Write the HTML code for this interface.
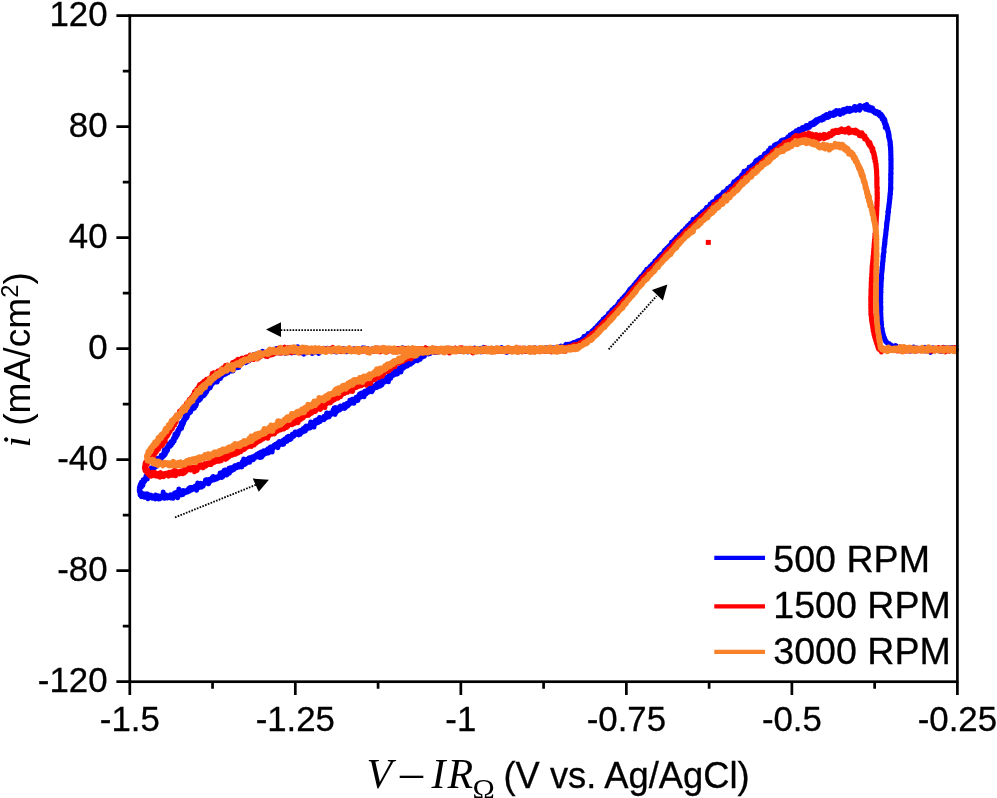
<!DOCTYPE html>
<html lang="en"><head><meta charset="utf-8"><title>CV plot</title>
<style>html,body{margin:0;padding:0;background:#fff;}svg{display:block;}</style></head>
<body>
<svg width="997" height="798" viewBox="0 0 997 798">
<rect width="997" height="798" fill="#fff"/>
<path d="M566.0 349.6 L565.6 349.8 L565.3 349.4 L564.8 348.9 L564.7 349.3 L564.6 348.8 L564.3 349.7 L563.8 350.7 L563.4 349.2 L562.9 349.1 L562.9 350.0 L562.4 349.9 L562.0 349.7 L561.7 348.9 L561.4 349.6 L561.0 350.2 L560.7 348.6 L560.2 349.3 L560.0 348.2 L560.0 348.6 L559.4 348.2 L559.0 349.5 L558.8 348.7 L558.5 349.9 L557.9 349.8 L557.7 349.5 L557.5 347.7 L557.1 349.3 L556.8 349.7 L556.6 349.8 L556.0 348.5 L555.8 349.3 L555.4 348.9 L555.3 349.1 L554.5 350.6 L554.3 349.1 L554.0 349.7 L553.8 350.4 L553.5 349.3 L553.3 349.6 L552.6 349.8 L552.5 349.8 L552.1 348.8 L551.7 349.8 L551.5 350.8 L551.0 348.5 L550.5 350.4 L550.4 349.9 L550.0 349.3 L549.7 351.4 L549.5 350.4 L549.2 348.8 L549.0 349.8 L548.5 350.2 L548.0 349.6 L547.7 350.3 L547.4 349.7 L547.0 350.3 L546.9 350.9 L546.4 349.3 L545.9 350.0 L545.9 349.4 L545.5 349.9 L545.2 348.9 L544.9 349.4 L544.6 349.7 L544.2 350.5 L544.0 350.7 L543.6 348.8 L543.2 349.2 L542.9 350.4 L542.4 348.3 L542.2 349.5 L541.8 349.8 L541.6 350.8 L541.0 350.4 L541.1 349.6 L540.6 349.6 L540.1 349.7 L539.7 351.1 L539.5 349.5 L539.2 349.6 L538.8 350.2 L538.6 349.8 L538.2 349.7 L538.0 349.0 L537.5 349.9 L537.2 349.5 L537.0 350.8 L536.9 350.4 L536.1 349.9 L535.9 350.4 L535.5 349.6 L535.3 350.7 L534.8 349.9 L534.5 350.4 L534.3 348.9 L533.8 350.2 L533.5 348.6 L533.2 348.3 L532.7 349.7 L532.4 349.2 L532.2 350.1 L532.0 351.7 L531.6 349.3 L531.1 349.4 L530.9 350.1 L530.7 350.3 L530.4 349.8 L530.0 349.8 L529.5 350.5 L529.4 350.4 L528.9 349.1 L528.5 349.9 L528.2 350.0 L528.2 349.1 L527.7 350.2 L527.5 349.3 L526.9 350.7 L526.8 350.1 L526.3 350.0 L526.0 349.5 L526.0 349.9 L525.4 348.4 L524.9 349.1 L524.7 350.3 L524.4 348.3 L524.2 350.7 L523.6 348.6 L523.1 350.6 L523.0 349.3 L522.7 350.6 L522.4 350.1 L522.2 348.8 L521.7 351.0 L521.5 351.1 L520.9 349.9 L520.8 349.8 L520.6 349.9 L520.1 349.2 L519.7 350.9 L519.4 349.6 L519.3 350.0 L518.6 349.4 L518.4 349.5 L518.1 349.0 L517.8 351.0 L517.3 349.9 L517.1 350.8 L516.7 350.0 L516.4 349.5 L516.1 349.8 L515.6 349.6 L515.4 350.0 L515.2 349.7 L514.6 349.8 L514.4 348.9 L514.2 349.4 L513.6 351.3 L513.5 349.5 L513.0 349.2 L512.9 350.3 L512.7 351.1 L512.4 348.9 L511.8 349.9 L511.5 349.5 L511.1 348.6 L510.8 350.6 L510.6 350.0 L510.0 350.1 L509.9 349.4 L509.5 350.4 L509.3 349.6 L508.8 349.9 L508.4 349.1 L508.2 349.1 L507.9 351.1 L507.5 349.6 L507.2 350.3 L506.8 350.0 L506.2 349.7 L506.3 349.6 L505.9 350.5 L505.5 349.8 L505.2 349.9 L505.0 350.0 L504.5 351.0 L504.1 350.6 L503.8 350.3 L503.7 349.6 L503.0 348.9 L503.0 350.8 L502.4 350.8 L502.1 349.9 L502.0 350.5 L501.5 350.6 L501.0 350.7 L500.8 350.8 L500.6 349.7 L500.4 351.2 L499.8 349.0 L499.6 350.7 L499.3 350.4 L498.8 350.7 L498.6 351.5 L498.2 351.2 L497.8 349.1 L497.5 348.7 L497.2 350.7 L496.9 349.2 L496.5 350.0 L496.2 350.7 L496.0 348.7 L495.6 348.4 L495.4 350.2 L495.1 350.1 L494.7 349.8 L494.5 350.1 L493.8 349.3 L493.7 348.8 L493.2 349.9 L493.2 349.3 L492.8 348.7 L492.0 350.4 L491.8 350.0 L491.7 350.3 L491.4 349.2 L491.0 349.5 L490.6 349.2 L490.3 349.3 L490.0 350.2 L489.6 349.4 L489.4 350.3 L488.7 350.3 L488.7 351.6 L488.2 348.9 L488.1 350.7 L487.6 350.0 L487.2 350.0 L487.0 348.9 L486.5 349.7 L486.2 350.6 L485.8 350.0 L485.7 350.1 L485.4 349.8 L485.1 350.9 L484.7 350.0 L484.5 348.3 L484.0 349.5 L483.7 348.5 L483.4 347.4 L483.1 349.6 L482.6 351.1 L482.3 350.1 L482.0 349.1 L481.7 349.3 L481.3 350.9 L481.2 350.1 L480.7 350.1 L480.4 350.0 L479.9 350.0 L479.8 350.7 L479.4 350.5 L479.0 350.2 L479.0 349.2 L478.4 350.4 L478.3 349.5 L477.8 350.9 L477.3 349.0 L477.0 349.9 L476.8 350.0 L476.4 349.0 L476.1 351.4 L475.7 351.2 L475.2 349.6 L475.1 350.6 L474.5 350.3 L474.5 347.9 L474.0 350.2 L473.7 350.0 L473.4 350.1 L473.1 349.2 L472.6 349.8 L472.2 349.9 L472.0 350.9 L471.5 350.3 L471.3 350.0 L471.3 351.2 L470.7 349.6 L470.5 349.7 L470.0 348.6 L469.8 351.2 L469.4 350.8 L469.1 350.7 L468.9 350.5 L468.7 350.1 L468.2 350.2 L467.8 349.8 L467.4 349.8 L467.2 350.0 L466.8 351.2 L466.6 350.4 L466.1 350.0 L466.0 349.5 L465.3 349.5 L465.1 351.3 L464.9 350.4 L464.5 350.1 L464.1 349.7 L463.8 349.1 L463.3 349.9 L463.2 350.7 L463.1 349.7 L462.7 349.8 L462.1 349.8 L461.7 350.1 L461.5 348.7 L461.3 349.8 L460.8 349.3 L460.4 350.7 L460.3 349.4 L460.0 350.5 L459.5 351.2 L459.1 349.8 L458.7 349.5 L458.5 350.2 L458.0 350.0 L458.0 349.2 L457.5 350.4 L457.3 351.6 L457.1 349.8 L456.7 349.8 L456.1 349.2 L456.0 350.3 L455.7 349.0 L455.2 349.1 L454.8 351.0 L454.6 349.3 L454.1 350.9 L454.1 351.2 L453.3 350.2 L453.1 350.4 L452.9 351.5 L452.6 349.8 L452.3 349.5 L452.0 348.9 L451.6 350.0 L451.4 351.2 L450.7 350.8 L450.6 349.3 L450.2 349.3 L450.0 349.6 L449.6 350.2 L449.2 349.8 L448.9 350.2 L448.7 350.2 L448.3 349.8 L447.9 350.0 L447.9 350.2 L447.6 349.9 L446.8 350.4 L446.7 351.5 L446.6 350.5 L446.1 350.0 L445.7 348.7 L445.3 350.3 L444.9 348.5 L444.6 348.9 L444.3 350.7 L444.1 350.6 L443.6 349.9 L443.3 348.6 L442.9 349.7 L442.7 349.5 L442.2 350.5 L442.0 351.8 L441.8 350.2 L441.4 349.4 L441.1 349.1 L440.7 350.0 L440.4 349.9 L440.0 349.1 L439.7 350.1 L439.5 349.1 L438.9 350.9 L438.9 350.8 L438.4 350.9 L438.0 349.6 L437.7 350.4 L437.3 349.9 L437.1 349.7 L436.6 349.7 L436.5 349.0 L436.0 348.9 L435.5 350.6 L435.3 349.8 L434.8 350.2 L434.7 350.8 L434.5 348.6 L434.2 349.4 L433.6 350.1 L433.3 350.3 L433.3 349.7 L432.8 350.8 L432.4 350.2 L432.2 349.0 L432.1 349.3 L431.6 350.6 L431.1 350.4 L430.8 348.5 L430.5 351.1 L430.0 350.5 L429.7 351.1 L429.5 349.7 L429.0 349.8 L428.8 349.1 L428.5 352.0 L428.4 349.9 L427.7 351.3 L427.5 349.5 L427.1 350.1 L426.9 348.7 L426.6 349.7 L426.1 350.8 L425.7 349.0 L425.3 350.8 L425.0 350.3 L424.9 349.2 L424.5 349.6 L424.0 349.6 L423.8 350.0 L423.5 349.6 L423.2 349.3 L422.8 349.8 L422.5 349.2 L422.0 349.0 L421.7 350.0 L421.7 350.7 L420.9 348.8 L420.8 350.0 L420.6 349.5 L420.2 349.2 L419.8 350.7 L419.5 349.6 L419.2 351.2 L418.9 349.4 L418.3 350.3 L418.2 349.8 L417.8 349.4 L417.5 350.5 L417.2 349.9 L417.0 350.5 L416.7 350.0 L416.2 349.1 L416.0 349.9 L415.7 350.0 L415.4 350.8 L415.1 349.3 L414.6 350.0 L414.2 348.6 L414.0 350.5 L413.4 349.1 L413.3 348.6 L412.9 350.0 L412.5 350.9 L412.1 348.8 L411.8 349.1 L411.6 349.4 L411.4 349.1 L411.1 350.3 L410.6 349.4 L410.3 349.4 L409.8 350.5 L409.7 349.4 L409.3 350.3 L409.0 349.2 L408.8 349.0 L408.3 348.5 L407.8 351.5 L407.5 349.7 L407.1 350.2 L406.8 350.0 L406.8 350.1 L406.3 350.0 L405.8 351.5 L405.7 349.2 L405.5 348.8 L404.9 349.2 L404.6 348.9 L404.3 350.6 L404.0 350.6 L403.7 349.2 L403.5 348.9 L403.1 349.7 L402.8 351.1 L402.5 347.8 L402.1 350.4 L401.5 349.1 L401.3 350.8 L401.1 349.1 L400.6 349.8 L400.5 348.8 L400.0 349.2 L399.6 351.1 L399.5 350.6 L399.1 349.7 L398.7 349.3 L398.5 348.5 L398.2 349.7 L397.8 350.0 L397.1 349.9 L397.0 349.9 L396.7 349.1 L396.3 349.9 L396.1 350.0 L395.9 351.0 L395.3 351.5 L394.9 349.9 L395.0 349.4 L394.4 349.9 L393.9 349.5 L393.8 349.4 L393.5 350.0 L393.0 349.2 L392.8 350.5 L392.4 349.9 L392.0 350.2 L391.8 349.9 L391.5 349.4 L391.0 349.2 L390.8 349.8 L390.4 349.6 L390.4 350.2 L389.7 350.0 L389.6 348.9 L389.1 350.1 L388.8 348.9 L388.5 349.5 L388.2 349.8 L387.9 348.4 L387.5 350.1 L387.1 350.1 L386.7 349.9 L386.5 349.7 L386.2 349.7 L386.0 349.2 L385.5 349.8 L385.3 349.6 L385.0 350.1 L384.5 349.0 L384.0 350.2 L383.7 350.1 L383.3 349.9 L383.4 349.7 L382.7 350.4 L382.7 348.7 L382.2 350.4 L382.0 350.2 L381.6 350.2 L381.2 350.3 L380.8 349.5 L380.5 349.8 L380.2 350.5 L379.8 350.3 L379.5 350.2 L379.4 348.8 L378.7 350.4 L378.6 350.9 L378.1 350.8 L377.9 350.2 L377.6 348.8 L377.2 350.7 L377.0 349.9 L376.4 348.0 L376.4 350.3 L375.8 348.8 L375.6 349.0 L375.3 349.5 L374.6 351.0 L374.5 349.7 L374.3 350.2 L374.1 351.4 L373.6 351.3 L373.3 349.9 L372.7 349.8 L372.8 349.0 L372.5 349.4 L371.9 350.3 L371.6 350.3 L371.1 350.1 L371.0 350.8 L370.9 349.4 L370.4 350.0 L370.1 350.6 L369.7 350.5 L369.2 350.8 L369.1 350.3 L368.5 349.8 L368.3 350.3 L368.0 349.2 L367.7 348.7 L367.3 350.5 L367.0 350.0 L366.5 350.2 L366.1 348.7 L366.0 349.7 L365.6 349.5 L365.2 349.3 L364.8 348.2 L364.6 349.7 L364.1 350.7 L363.8 350.3 L363.5 349.5 L363.4 350.0 L363.0 350.6 L362.9 347.8 L362.2 349.9 L361.9 350.4 L361.8 350.5 L361.3 351.3 L361.0 350.9 L360.9 350.2 L360.3 350.2 L359.9 350.6 L359.5 349.6 L359.4 350.0 L359.1 350.7 L358.5 351.6 L358.3 349.9 L358.1 350.0 L357.8 350.2 L357.3 351.1 L357.1 350.0 L356.8 351.2 L356.2 349.2 L356.0 349.9 L355.8 349.8 L355.3 350.6 L354.8 350.8 L354.7 348.8 L354.5 349.3 L354.3 350.3 L353.5 349.5 L353.7 348.8 L352.9 350.8 L352.9 350.4 L352.6 350.4 L352.2 349.6 L351.8 350.8 L351.3 349.8 L351.2 350.9 L350.7 349.3 L350.1 349.3 L350.4 350.2 L349.9 349.4 L349.7 350.5 L349.0 350.2 L349.0 349.3 L348.6 350.1 L348.3 349.7 L347.8 350.7 L347.3 349.5 L347.1 349.7 L346.5 351.0 L346.3 351.8 L346.1 351.6 L345.7 350.1 L345.5 350.2 L345.1 351.2 L345.0 349.9 L344.6 349.2 L344.1 350.1 L344.0 350.4 L343.4 349.3 L343.1 348.7 L342.9 348.9 L342.3 350.5 L342.1 349.4 L341.7 349.9 L341.5 350.2 L341.4 350.5 L340.8 349.7 L340.5 350.4 L340.1 349.3 L339.7 349.7 L339.4 349.2 L339.4 350.9 L339.1 350.0 L338.6 349.4 L338.1 349.7 L338.0 349.8 L337.5 350.6 L337.3 348.7 L336.9 349.2 L336.6 349.7 L336.3 352.0 L335.8 350.8 L335.5 349.9 L335.0 350.6 L334.8 351.6 L334.4 349.8 L334.2 349.7 L333.8 351.0 L333.6 350.4 L333.3 350.5 L332.7 349.6 L332.5 351.5 L332.1 351.4 L332.0 350.4 L331.8 350.5 L331.4 348.4 L330.9 350.5 L330.8 349.8 L330.1 350.3 L330.1 350.5 L329.5 349.7 L328.9 348.7 L329.3 350.3 L328.8 349.4 L328.2 349.7 L328.0 349.5 L327.6 349.7 L327.3 348.2 L326.8 351.0 L326.5 350.2 L326.4 350.9 L326.0 351.6 L325.8 350.0 L325.3 348.6 L325.3 349.3 L324.6 349.0 L324.3 349.6 L323.8 350.1 L323.5 348.4 L323.5 350.3 L322.9 348.8 L322.7 350.2 L322.3 349.9 L321.9 349.8 M322.1 349.5 L321.6 349.3 L321.2 349.4 L320.8 351.0 L320.7 350.9 L320.3 349.2 L320.0 348.8 L319.6 350.4 L319.5 349.9 L319.0 351.4 L318.6 353.5 L318.5 351.1 L318.2 350.0 L317.7 349.8 L317.2 348.9 L317.0 348.8 L316.8 348.7 L316.4 349.5 L316.2 349.5 L315.6 351.0 L315.5 349.5 L315.0 349.8 L314.9 348.4 L314.4 352.2 L314.2 350.7 L313.7 352.4 L313.2 351.1 L313.0 352.0 L312.7 349.7 L312.3 351.0 L312.2 353.6 L311.9 348.4 L311.5 351.6 L311.0 352.3 L310.8 350.6 L310.4 351.1 L310.3 351.8 L309.8 349.2 L309.5 350.6 L309.1 348.9 L308.6 349.2 L308.4 349.2 L308.0 349.9 L307.8 350.3 L307.5 350.7 L307.0 348.2 L306.8 352.8 L306.7 351.7 L306.0 351.1 L305.7 349.6 L305.5 350.0 L305.1 350.9 L304.8 350.7 L304.6 347.8 L304.4 351.1 L303.6 354.1 L303.5 347.6 L303.2 351.5 L302.8 350.6 L302.5 350.0 L302.1 352.0 L302.0 348.6 L301.5 350.4 L301.2 352.2 L300.9 349.9 L300.6 349.6 L300.2 350.4 L300.0 349.6 L299.5 352.3 L299.2 349.0 L298.9 351.4 L298.4 348.5 L298.1 351.2 L297.8 350.1 L297.6 346.8 L297.2 350.3 L296.8 348.8 L296.6 349.7 L296.3 352.4 L295.7 348.8 L295.8 348.9 L295.3 352.3 L294.9 350.5 L294.7 352.4 L294.3 350.8 L293.9 349.2 L293.9 350.3 L293.1 352.1 L292.9 351.7 L292.7 350.4 L292.2 350.5 L291.9 350.3 L291.7 349.7 L291.6 353.1 L290.9 350.5 L290.6 348.9 L290.4 349.8 L290.0 351.5 L289.5 351.4 L289.4 350.3 L289.0 349.6 L288.7 350.6 L288.5 348.3 L288.1 348.8 L287.7 351.7 L287.4 349.9 L286.9 351.1 L286.7 352.3 L286.4 351.5 L286.0 350.7 L285.7 353.6 L285.3 351.6 L285.2 350.2 L285.0 351.7 L284.3 351.3 L284.1 349.6 L283.7 350.9 L283.5 350.6 L283.1 348.1 L282.7 350.6 L282.4 350.5 L282.1 350.3 L281.6 348.6 L281.5 350.4 L281.0 350.9 L280.8 351.1 L280.4 349.4 L280.2 351.9 L279.8 349.4 L279.5 350.7 L279.0 352.9 L278.8 350.2 L278.4 350.4 L278.1 352.6 L277.8 350.7 L277.6 350.8 L276.9 351.6 L276.8 352.7 L276.3 348.4 L276.3 350.3 L275.6 350.1 L275.4 350.0 L275.0 350.4 L275.0 350.4 L274.4 352.0 L274.2 350.5 L273.8 351.9 L273.3 352.4 L273.2 350.9 L273.0 352.1 L272.5 354.2 L272.3 352.5 L271.9 351.3 L271.6 352.1 L271.2 351.0 L271.0 352.7 L270.8 353.5 L270.3 351.3 L270.0 352.2 L269.6 354.1 L269.2 352.0 L269.2 352.9 L268.5 351.4 L268.2 351.7 L268.0 352.2 L267.6 355.8 L267.6 352.5 L266.8 352.4 L266.8 352.4 L266.5 353.0 L265.9 354.1 L265.7 353.6 L265.5 356.1 L265.3 353.8 L264.7 355.5 L264.3 354.0 L264.3 354.5 L264.0 351.9 L263.5 353.7 L262.9 353.8 L263.0 353.7 L262.5 351.3 L262.4 355.3 L261.9 353.8 L261.5 353.8 L261.2 354.1 L261.1 354.2 L260.8 355.2 L260.1 353.1 L259.9 353.6 L259.9 355.3 L259.3 355.2 L258.9 354.6 L258.8 354.5 L258.4 354.3 L258.1 355.4 L257.8 357.1 L257.5 354.3 L257.1 357.8 L256.9 357.1 L256.5 355.5 L256.2 357.2 L256.0 354.4 L255.8 354.1 L255.4 354.8 L255.0 356.1 L254.8 356.4 L254.5 356.2 L254.3 357.2 L253.9 354.4 L253.7 358.0 L253.4 355.6 L252.9 356.7 L252.6 357.2 L252.4 356.3 L252.1 356.2 L251.7 356.8 L251.2 358.2 L250.9 359.1 L250.8 359.2 L250.6 357.3 L250.3 357.7 L249.7 357.7 L249.7 359.6 L249.2 356.5 L249.0 360.9 L248.7 358.8 L248.3 358.5 L248.0 360.1 L247.5 361.2 L247.4 360.4 L247.0 361.5 L246.9 360.4 L246.6 362.0 L246.4 362.1 L246.0 360.5 L245.6 362.7 L245.4 361.1 L245.0 361.2 L244.9 360.0 L244.5 361.0 L244.1 362.5 L243.9 359.9 L243.6 362.6 L243.3 362.4 L243.1 362.4 L242.9 359.3 L242.4 362.2 L242.1 363.4 L241.5 361.6 L241.5 362.9 L241.2 359.8 L240.7 364.0 L240.7 362.4 L240.4 364.6 L240.0 361.1 L239.7 364.6 L239.4 363.6 L239.3 365.1 L238.7 363.0 L238.6 363.6 L238.6 367.5 L238.1 363.6 L237.8 363.9 L237.5 364.7 L237.1 363.9 L236.9 367.0 L236.7 367.8 L236.2 364.8 L236.1 363.6 L235.9 367.6 L235.6 367.7 L235.0 367.5 L234.8 368.1 L234.5 365.6 L234.5 366.7 L234.2 365.3 L233.9 365.4 L233.5 368.8 L233.1 366.8 L233.0 370.9 L232.7 368.1 L232.3 367.4 L232.2 369.4 L232.0 370.9 L231.6 369.4 L231.2 367.3 L230.8 369.6 L230.8 371.1 L230.5 368.8 L230.2 368.6 L229.9 371.2 L229.6 370.2 L229.5 368.7 L229.1 369.9 L228.9 369.5 L228.5 371.1 L228.2 371.0 L228.0 372.6 L227.6 372.2 L227.3 369.4 L227.1 372.1 L227.0 373.0 L226.6 372.6 L226.5 373.5 L226.0 371.6 L225.7 371.2 L225.3 373.9 L225.2 371.4 L225.1 370.2 L224.7 374.6 L224.5 372.4 L224.2 373.2 L223.9 371.9 L223.6 372.2 L223.3 372.6 L223.1 373.9 L222.8 375.0 L222.6 371.7 L222.2 375.9 L221.9 373.5 L221.7 373.9 L221.3 376.4 L221.3 375.6 L220.7 373.9 L220.6 378.5 L220.7 375.2 L220.1 376.8 L219.7 377.0 L219.6 378.8 L219.5 376.5 L219.1 378.6 L218.9 376.5 L218.6 379.2 L218.3 376.9 L218.4 377.7 L217.8 380.9 L217.5 379.0 L217.3 378.9 L217.1 382.0 L216.9 379.7 L216.7 378.4 L216.3 380.6 L215.9 378.3 L215.9 381.6 L215.5 381.9 L215.3 379.8 L214.9 379.9 L214.8 381.2 L214.5 381.2 L214.3 380.1 L213.9 382.4 L213.9 379.2 L213.6 381.5 L213.2 381.8 L213.1 382.2 L212.8 383.2 L212.8 381.4 L212.1 384.0 L212.2 383.2 L211.8 382.8 L211.7 382.1 L211.6 382.6 L211.2 384.9 L211.0 383.4 L210.7 385.0 L210.8 386.5 L210.4 386.7 L210.2 387.6 L209.7 385.4 L209.5 384.6 L209.6 387.7 L209.2 387.0 L209.0 388.3 L208.8 387.1 L208.4 388.9 L208.4 388.6 L208.1 388.7 L207.9 388.7 L207.6 388.8 L207.5 388.8 L207.1 389.1 L207.1 390.3 L206.9 388.6 L206.7 391.8 L206.4 389.6 L206.2 391.3 L205.6 390.2 L205.8 390.2 L205.5 393.5 L205.3 390.6 L205.1 389.6 L204.7 390.6 L204.6 391.4 L204.5 394.9 L204.4 392.6 L204.0 393.8 L203.7 391.5 L203.8 393.5 L203.3 394.2 L203.5 396.0 L203.0 392.9 L202.7 394.9 L202.7 394.8 L202.6 393.3 L202.0 394.8 L202.1 394.8 L201.7 392.3 L201.7 396.4 L201.3 396.6 L200.9 395.6 L201.0 394.7 L200.8 398.6 L200.8 397.3 L200.5 398.5 L200.2 399.3 L199.9 397.0 L199.6 399.0 L199.5 397.9 L199.2 398.4 L199.1 398.6 L198.6 399.0 L198.7 400.7 L198.5 399.7 L198.6 399.6 L198.2 399.7 L197.8 400.8 L197.8 399.4 L197.3 400.2 L197.2 401.0 L196.9 400.6 L197.1 401.5 L196.8 401.1 L196.4 404.8 L196.3 404.2 L196.2 403.3 L196.0 402.9 L195.8 406.1 L195.4 403.9 L195.2 403.6 L195.1 404.4 L195.0 404.7 L194.6 406.4 L194.4 404.8 L194.5 407.9 L194.0 404.2 L194.1 406.5 L193.8 404.6 L193.7 408.6 L193.6 406.0 L193.3 406.6 L193.1 408.2 L192.7 408.9 L192.5 406.0 L192.5 407.3 L192.4 406.2 L192.2 408.5 L192.1 408.4 L191.7 408.4 L191.5 408.2 L191.4 408.9 L191.0 408.7 L190.8 410.6 L190.5 412.2 L190.6 407.9 L190.1 410.6 L190.1 410.4 L189.7 411.9 L189.8 410.3 L189.4 411.6 L189.4 410.7 L188.9 413.2 L188.9 412.7 L188.9 412.7 L188.5 413.6 L188.4 413.1 L188.1 411.6 L187.7 414.7 L187.8 414.6 L187.7 414.3 L187.3 416.1 L187.3 416.6 L187.0 413.9 L186.7 414.6 L186.7 417.9 L186.4 418.0 L186.6 415.4 L185.9 415.1 L186.0 416.1 L185.9 416.6 L185.4 415.4 L185.2 417.8 L185.3 416.4 L185.0 416.8 L185.0 419.8 L184.9 418.0 L184.5 419.1 L184.3 420.3 L183.9 420.8 L184.1 419.6 L183.8 420.4 L183.8 419.5 L183.6 423.2 L183.3 422.1 L183.5 420.1 L183.3 421.8 L183.1 423.0 L182.7 423.0 L182.6 425.1 L182.5 424.8 L182.3 422.6 L182.1 423.5 L182.2 422.2 L182.0 424.5 L181.9 424.7 L181.6 428.3 L181.7 425.2 L181.4 422.6 L180.9 424.8 L181.0 426.1 L181.0 424.6 L180.9 425.4 L180.7 426.4 L180.5 427.6 L180.3 427.2 L180.3 426.6 L180.1 429.1 L179.9 427.6 L179.7 428.0 L179.7 427.1 L179.4 428.2 L179.2 430.4 L179.3 427.7 L179.0 430.0 L178.9 431.3 L178.8 430.2 L178.7 431.3 L178.5 429.8 L178.2 433.3 L178.1 433.3 L177.8 432.4 L178.0 430.1 L177.6 431.3 L177.6 434.3 L177.2 435.5 L176.9 433.9 L177.1 435.5 L176.8 433.3 L176.6 434.2 L176.4 434.7 L176.3 435.5 L176.2 433.2 L175.7 436.8 L175.9 437.6 L175.5 434.6 L175.4 434.6 L175.5 437.1 L175.2 436.1 L174.9 434.1 L174.5 438.6 L174.6 438.0 L174.4 437.5 L174.2 441.2 L173.9 438.8 L173.8 437.9 L173.5 439.3 L173.5 438.1 L173.4 438.7 L173.3 440.5 L172.9 439.6 L172.8 440.0 L172.7 443.1 L172.4 442.3 L172.2 442.5 L172.3 442.4 L171.9 442.6 L171.8 444.2 L171.4 442.5 L171.3 445.2 L170.9 441.8 L170.9 443.0 L170.9 441.8 L170.8 443.4 L170.5 444.8 L170.2 446.3 L170.0 443.8 L169.7 444.9 L169.6 444.7 L169.5 444.5 L169.1 444.2 L169.1 446.1 L168.7 444.0 L168.4 446.7 L168.3 446.8 L168.0 446.2 L167.9 446.0 L168.0 445.8 L167.6 450.4 L167.5 446.4 L167.4 450.5 L167.2 449.5 L166.8 448.5 L166.9 447.7 L166.6 450.9 L166.3 452.1 L166.2 448.8 L165.8 449.9 L165.7 452.0 L165.6 451.3 L165.5 453.8 L165.2 450.6 L165.0 452.4 L164.9 450.3 L164.8 455.0 L164.5 451.5 L164.4 449.8 L164.0 452.9 L163.8 453.1 L163.7 456.1 L163.5 453.4 L163.3 454.1 L163.3 455.2 L162.9 456.7 L162.6 454.8 L162.6 456.6 L162.6 456.2 L162.2 455.3 L162.1 456.1 L161.8 456.3 L161.6 455.3 L161.3 458.4 L161.2 455.3 L161.3 458.9 L160.7 458.9 L160.9 457.8 L160.4 457.2 L160.3 458.1 L160.2 459.3 L160.0 460.0 L159.7 459.6 L159.3 460.8 L159.4 459.0 L159.0 460.4 L159.2 458.2 L158.7 461.6 L158.6 461.0 L158.2 460.6 L158.1 462.9 L157.8 462.5 L157.9 458.2 L157.5 462.2 L157.4 460.5 L157.0 464.1 L156.8 466.2 L156.9 462.5 L156.4 463.5 L156.1 463.4 L156.1 464.4 L155.7 465.1 L155.6 466.2 L155.6 463.4 L155.1 467.1 L155.2 464.0 L154.8 465.9 L154.8 467.3 L154.6 467.0 L154.2 465.1 L154.0 465.6 L153.8 466.2 L153.7 467.0 L153.6 468.9 L153.1 465.9 L153.2 468.5 L152.8 469.0 L152.6 469.2 L152.3 469.3 L152.6 471.0 L152.2 469.9 L152.0 470.7 L151.7 470.6 L151.7 472.5 L151.2 467.9 L151.2 472.3 L151.3 470.6 L150.8 470.8 L150.7 470.2 L150.6 469.3 L150.2 471.5 L150.1 471.4 L150.1 473.2 L149.8 470.9 L149.6 475.0 L149.3 473.7 L149.2 473.3 L149.0 473.0 L149.0 473.1 L148.7 473.0 L148.4 474.0 L148.0 475.0 L148.2 475.0 L148.0 473.7 L147.6 475.5 L147.3 474.9 L147.2 476.6 L147.2 479.1 L146.8 477.7 L146.7 476.7 L146.6 475.3 L146.5 475.8 L146.1 475.7 L145.9 479.2 L145.7 477.4 L145.7 478.8 L145.4 478.2 L145.1 479.4 L144.7 481.3 L144.6 478.9 L144.6 479.6 L144.2 479.2 L144.2 481.7 L143.9 479.4 L143.7 479.6 L143.6 479.5 L143.3 479.7 L143.0 482.5 L142.9 485.5 L143.0 481.1 L142.4 483.9 L142.3 483.3 L142.3 481.7 L141.9 483.1 L141.7 483.4 L141.4 483.1 L141.5 486.9 L141.4 482.1 L141.3 485.4 L141.0 485.6 L141.0 484.7 L140.5 486.0 L140.6 487.2 L140.3 486.6 L140.3 487.2 L140.2 487.9 L140.2 484.6 L139.8 489.6 L140.0 490.9 L139.7 489.5 L139.5 489.9 L139.5 487.0 L139.3 489.0 L139.4 488.4 L139.4 489.1 L139.3 491.5 L139.4 489.4 L139.4 490.6 L139.5 488.6 L139.4 491.3 L139.7 491.9 L139.6 491.2 L139.8 491.4 L140.1 495.1 L140.4 491.3 L140.4 491.7 L140.6 492.3 L141.0 495.2 L141.3 496.6 L141.6 494.4 L141.9 493.2 L142.3 493.8 L142.4 495.9 L142.7 493.5 L142.9 496.7 L143.2 496.7 L143.6 495.1 L144.0 495.9 L144.3 496.1 L144.6 497.3 L144.9 494.0 L145.3 497.0 L145.5 495.0 L145.9 494.6 L146.2 495.8 L146.4 495.5 L146.7 494.5 L147.2 493.8 L147.5 494.7 L147.7 498.0 L148.0 498.7 L148.7 497.0 L148.6 497.8 L149.0 495.6 L149.4 496.3 L149.6 496.8 L150.0 495.1 L150.6 495.3 L150.8 496.8 L151.1 496.3 L151.4 495.3 L151.7 497.3 L152.1 496.5 L152.3 498.2 L152.6 496.9 L153.0 496.6 L153.4 497.2 L153.7 496.8 L154.0 496.2 L154.0 496.6 L154.8 498.1 L155.2 498.0 L155.4 498.9 L155.6 495.0 L155.8 496.7 L156.3 496.7 L156.5 497.5 L157.0 496.7 L157.2 496.6 L157.7 498.3 L158.1 497.5 L158.0 495.7 L158.6 499.0 L158.8 498.6 L159.1 496.5 L159.5 498.3 L159.9 496.2 L160.3 498.7 L160.4 496.9 L161.0 496.1 L161.4 496.6 L161.6 496.1 L161.9 497.3 L162.2 497.3 L162.4 497.0 L162.9 496.2 L163.2 492.1 L163.6 497.0 L164.1 494.3 L164.2 497.1 L164.5 498.3 L165.0 497.1 L165.0 496.2 L165.3 496.4 L165.8 496.4 L166.0 495.8 L166.5 495.7 L166.7 495.2 L167.3 498.0 L167.6 496.3 L167.8 497.6 L168.0 495.9 L168.5 496.3 L168.8 495.9 L168.9 496.7 L169.4 497.1 L169.8 496.2 L170.1 495.0 L170.5 494.8 L170.8 497.9 L170.9 495.3 L171.3 495.2 L171.5 497.5 L172.0 496.9 L172.2 496.1 L172.7 494.8 L173.0 498.3 L173.4 495.7 L173.6 495.8 L173.7 494.8 L174.4 493.1 L174.5 493.1 L175.0 495.3 L175.2 495.2 L175.6 494.3 L176.0 493.0 L176.2 492.5 L176.6 493.9 L176.6 492.3 L177.2 495.4 L177.4 495.6 L177.7 497.7 L178.0 495.1 L178.4 493.0 L178.9 492.6 L178.8 489.1 L179.3 492.8 L179.5 493.2 L180.1 494.6 L180.2 494.1 L180.6 494.0 L180.9 493.4 L181.3 493.9 L181.7 494.8 L181.8 491.4 L182.2 492.1 L182.3 490.8 L182.8 494.6 L183.2 494.1 L183.3 493.3 L183.9 490.6 L183.8 492.3 L184.1 491.6 L184.5 492.0 L184.9 491.5 L185.3 492.3 L185.6 491.0 L185.9 492.5 L186.3 491.6 L186.5 490.8 L186.7 490.9 L187.0 490.4 L187.7 491.9 L187.5 490.3 L188.0 491.0 L188.5 489.9 L188.7 488.4 L188.9 491.4 L189.3 488.7 L189.7 490.9 L190.1 490.4 L190.1 487.5 L190.6 488.3 L190.9 488.8 L191.3 488.3 L191.6 487.6 L191.7 490.1 L191.9 488.6 L192.4 489.3 L192.9 488.1 L193.0 489.0 L193.3 487.4 L193.8 488.3 L193.7 488.9 L194.3 488.1 L194.4 487.3 L194.8 486.3 L195.1 487.9 L195.6 488.0 L195.6 487.0 L195.9 486.2 L196.1 487.8 L196.6 490.3 L196.8 486.4 L197.2 487.1 L197.3 487.0 L197.7 483.0 L198.2 486.4 L198.3 485.2 L198.7 487.8 L199.0 485.5 L199.2 484.6 L199.4 485.2 L200.0 485.6 L200.2 484.5 L200.6 485.0 L200.5 483.2 L200.8 484.5 L201.1 485.7 L201.5 487.1 L202.1 485.3 L202.3 484.6 L202.5 485.7 L202.8 485.3 L203.2 486.0 L203.4 485.1 L203.8 483.4 L204.0 483.8 L204.1 483.5 L204.6 483.5 L205.1 483.3 L205.2 481.8 L205.5 479.9 L205.8 481.7 L206.1 479.8 L206.6 482.4 L206.7 482.2 L206.9 479.8 L206.9 482.8 L207.5 482.9 L207.7 481.7 L208.0 483.7 L208.6 483.8 L208.9 479.6 L208.9 482.4 L209.5 481.5 L209.8 481.3 L209.9 481.8 L210.4 479.5 L210.4 479.5 L210.8 479.1 L211.0 479.0 L211.4 479.8 L211.9 477.8 L211.9 478.2 L212.3 480.2 L212.6 479.2 L213.0 479.7 L213.2 476.6 L213.7 477.9 L213.8 478.0 L214.0 478.7 L214.4 477.7 L214.8 479.6 L215.0 478.1 L215.4 478.1 L215.9 477.9 L215.9 478.7 L216.3 477.0 L216.7 479.0 L216.8 477.9 L217.0 477.4 L217.3 477.1 L217.8 477.6 L218.1 478.1 L218.3 477.8 L218.6 476.9 L219.1 477.4 L219.3 476.3 L219.3 477.6 L219.8 475.8 L220.1 472.9 L220.5 477.3 L220.6 475.5 L220.9 473.6 L221.2 474.8 L221.3 473.7 L221.8 477.5 L222.0 475.2 L222.5 472.3 L222.6 475.0 L222.9 473.6 L223.1 476.4 L223.4 472.4 L223.9 470.6 L224.1 473.5 L224.5 472.8 L224.6 472.6 L225.0 470.1 L225.1 473.4 L225.5 474.8 L225.8 469.9 L226.2 473.9 L226.5 471.4 L226.7 475.1 L227.1 472.4 L227.3 471.4 L227.7 473.0 L228.0 472.0 L228.2 470.4 L228.4 471.9 L228.8 470.2 L229.0 468.3 L229.4 473.2 L229.7 469.9 L230.0 469.4 L230.1 470.5 L230.3 467.8 L230.7 467.9 L231.0 468.9 L231.5 468.7 L231.6 469.3 L231.9 470.6 L232.3 468.3 L232.4 469.4 L232.8 469.4 L233.3 467.0 L233.5 468.6 L233.7 466.9 L234.0 469.4 L234.1 468.4 L234.6 467.6 L234.8 465.7 L235.1 467.5 L235.3 466.1 L235.7 467.9 L235.9 466.7 L236.3 465.6 L236.7 467.7 L236.9 467.3 L236.9 465.4 L237.3 467.6 L237.5 465.5 L237.9 465.3 L238.3 465.7 L238.6 464.4 L238.8 464.7 L239.2 464.9 L239.3 467.0 L239.6 466.8 L239.9 464.3 L240.2 466.6 L240.8 464.3 L240.7 464.7 L241.3 465.2 L241.6 464.3 L241.8 466.9 L242.1 463.9 L242.3 461.8 L242.7 465.0 L243.0 462.6 L243.3 462.6 L243.7 458.9 L244.0 464.0 L244.2 463.6 L244.5 463.4 L244.7 463.5 L245.1 464.3 L245.2 461.9 L245.7 463.0 L245.9 460.7 L246.1 461.0 L246.8 462.8 L246.7 461.7 L247.0 459.3 L247.4 461.4 L247.5 460.5 L247.9 459.6 L248.1 461.1 L248.5 459.8 L248.9 458.1 L249.2 458.6 L249.6 462.3 L249.9 457.8 L250.2 459.9 L250.4 460.3 L250.6 460.2 L251.1 457.6 L251.2 458.6 L251.5 459.1 L252.0 459.8 L252.2 457.8 L252.5 456.9 L252.8 459.7 L253.1 459.7 L253.2 458.5 L253.6 457.1 L253.8 458.3 L254.2 457.8 L254.4 458.6 L255.0 455.7 L255.2 457.3 L255.3 456.8 L255.7 455.4 L255.9 457.0 L256.3 456.6 L256.7 455.9 L256.9 456.8 L256.9 454.3 L257.4 455.9 L257.8 456.4 L258.1 456.1 L258.5 457.0 L258.5 453.8 L259.0 453.2 L259.2 455.4 L259.6 455.5 L259.9 457.6 L260.2 455.4 L260.3 453.3 L260.7 455.4 L260.8 453.0 L261.1 452.0 L261.6 457.3 L261.9 454.1 L262.0 454.5 L262.3 454.1 L262.7 455.6 L263.2 453.4 L263.4 454.5 L263.7 451.4 L263.7 450.8 L264.2 454.3 L264.5 454.2 L264.8 452.8 L265.1 452.3 L265.3 452.0 L265.8 450.7 L266.1 453.5 L266.2 452.2 L266.4 451.8 L267.0 451.5 L267.0 452.2 L267.5 451.3 L267.9 451.5 L267.8 448.8 L268.3 450.9 L268.5 452.9 L268.9 449.2 L269.1 449.5 L269.6 450.7 L269.7 450.7 L270.0 450.1 L270.4 446.9 L270.5 449.6 L270.8 447.2 L271.4 447.5 L271.3 449.1 L271.6 447.9 L272.0 449.2 L272.1 452.1 L272.3 448.8 L273.0 448.6 L273.0 446.3 L273.3 446.4 L273.6 445.7 L273.9 446.2 L274.1 445.3 L274.6 445.7 L275.1 446.2 L275.2 445.0 L275.5 444.3 L275.5 444.2 L276.0 446.4 L276.1 445.7 L276.6 446.8 L276.8 446.7 L277.1 444.7 L277.4 445.9 L277.6 442.9 L277.8 447.7 L278.3 446.1 L278.4 444.0 L278.7 442.6 L279.1 444.5 L279.3 441.4 L279.7 442.6 L280.1 444.5 L280.3 443.4 L280.6 442.5 L280.9 444.3 L281.2 441.5 L281.2 443.1 L281.8 441.9 L281.9 441.2 L282.1 442.8 L282.6 440.7 L282.8 444.4 L283.2 440.9 L283.6 444.2 L283.4 439.9 L284.0 442.0 L284.5 439.4 L284.7 439.1 L285.0 440.9 L285.2 441.4 L285.3 438.7 L285.6 441.8 L286.1 439.0 L286.4 440.0 L286.5 440.2 L286.8 440.3 L287.2 437.0 L287.2 441.3 L287.7 439.8 L288.2 438.3 L288.6 437.4 L288.6 436.3 L289.1 436.6 L289.1 438.9 L289.3 437.6 L289.4 436.4 L290.1 437.0 L290.2 439.6 L290.9 436.9 L290.9 436.4 L291.2 438.8 L291.2 437.5 L291.9 436.8 L292.0 435.8 L292.3 434.3 L292.3 434.7 L293.0 435.4 L293.3 435.6 L293.4 436.2 L293.7 436.3 L294.0 435.7 L294.4 435.5 L294.6 433.7 L295.1 432.0 L295.1 434.0 L295.3 433.3 L295.7 433.5 L295.7 433.9 L296.2 432.4 L296.7 432.4 L296.9 433.6 L297.0 433.7 L297.5 432.5 L297.5 433.9 L298.0 432.8 L298.3 431.5 L298.6 432.8 L298.7 435.0 L299.2 431.5 L299.6 433.8 L299.6 433.9 L300.1 433.9 L300.1 430.6 L300.3 434.2 L300.9 431.5 L301.1 430.9 L301.4 430.7 L301.6 431.7 L301.9 430.8 L302.4 430.3 L302.7 432.1 L302.8 429.3 L302.9 428.7 L303.5 430.9 L303.8 430.6 L304.0 431.0 L304.3 428.0 L304.8 430.6 L304.8 429.7 L305.2 431.2 L305.2 427.0 L305.6 428.8 L305.9 428.0 L306.2 426.1 L306.6 427.1 L306.7 429.3 L307.3 427.1 L307.2 426.6 L307.6 428.5 L308.0 428.5 L308.1 428.3 L308.6 425.8 L308.9 426.6 L309.0 427.9 L309.6 425.5 L309.6 425.2 L310.0 427.1 L310.1 427.9 L310.3 424.1 L310.7 422.0 L311.0 423.4 L311.3 423.8 L311.7 424.8 L311.6 425.6 L312.0 424.4 L312.2 423.5 L312.9 424.5 L313.0 422.8 L313.3 423.9 L313.5 422.9 L314.0 427.1 L314.1 424.5 L314.5 422.2 L314.5 421.8 L315.2 422.3 L315.3 420.6 L315.6 421.6 L316.0 421.4 L316.1 423.4 L316.4 421.5 L316.8 420.8 L317.0 419.9 L317.2 420.0 L317.6 421.3 L317.8 420.9 L318.2 422.5 L318.5 420.0 L318.7 422.1 L319.2 420.9 L319.1 420.3 L319.5 417.5 L320.0 418.3 L320.0 420.8 L320.2 421.5 L320.8 419.8 L321.0 420.3 L321.1 418.6 L321.6 418.5 L321.7 417.9 L321.9 419.9 L322.3 418.9 L322.6 418.0 L322.8 417.7 L323.2 418.7 L323.4 418.2 L323.8 416.5 L324.1 419.7 L324.4 417.6 L324.6 417.1 L324.7 418.9 L325.0 418.1 L325.4 416.5 L325.9 417.2 L326.1 414.9 L326.3 415.3 L326.7 413.0 L326.8 417.4 L327.3 413.1 L327.4 416.3 L327.8 414.2 L328.1 413.8 L328.3 414.7 L328.6 415.1 L328.8 415.4 L329.2 416.8 L329.6 414.7 L330.2 415.3 L330.1 413.1 L330.3 414.7 L330.5 413.8 L331.0 412.8 L331.0 413.1 L331.4 413.0 L331.8 413.2 L331.9 413.3 L332.5 411.9 L332.7 411.5 L332.8 413.3 L333.1 409.9 L333.3 411.2 L333.6 413.9 L334.1 408.1 L334.4 410.6 L334.7 412.2 L334.9 409.0 L335.1 414.4 L335.5 407.4 L335.6 412.6 L336.1 412.6 L336.5 411.6 L336.8 409.9 L336.9 410.5 L337.2 408.7 L337.7 410.8 L338.0 408.1 L337.9 409.0 L338.3 410.5 L338.7 407.6 L339.1 408.4 L339.1 409.0 L339.6 406.8 L339.8 410.0 L340.4 408.7 L340.5 406.1 L340.7 407.9 L340.9 406.8 L341.4 406.8 L341.6 407.6 L341.7 406.4 L342.2 408.4 L342.3 406.1 L342.6 408.1 L342.8 406.6 L343.1 407.7 L343.5 405.7 L343.8 405.5 L344.2 404.5 L344.5 406.7 L344.7 407.0 L344.9 408.4 L345.4 407.1 L345.4 405.6 L345.7 404.8 L346.3 405.4 L346.6 404.7 L346.9 406.5 L347.0 405.7 L347.2 403.2 L347.6 403.2 L348.0 405.8 L348.1 404.2 L348.4 403.3 L348.6 405.1 L348.9 402.8 L349.5 402.8 L349.7 402.4 L349.8 400.3 L350.1 403.8 L350.4 400.9 L350.9 401.6 L350.9 401.2 L351.4 403.0 L351.4 401.8 L351.8 401.7 L352.3 399.3 L352.6 401.3 L352.7 399.3 L353.0 401.4 L353.5 401.4 L353.6 400.7 L353.9 403.2 L354.3 401.1 L354.5 401.0 L354.9 400.2 L355.2 399.6 L355.3 401.0 L355.6 401.0 L355.9 397.6 L356.0 400.6 L356.4 399.7 L356.9 400.1 L356.9 399.3 L357.5 396.8 L357.6 396.8 L357.9 400.5 L358.2 398.3 L358.5 395.9 L358.9 398.1 L359.0 396.9 L359.3 394.8 L359.5 394.0 L360.1 394.8 L360.2 397.1 L360.3 396.5 L360.6 396.0 L360.8 396.5 L361.2 396.8 L361.5 393.0 L362.0 395.2 L361.8 394.3 L362.4 393.6 L362.6 394.3 L362.8 394.7 L363.1 394.3 L363.3 392.6 L363.7 393.7 L364.1 396.8 L364.0 392.5 L364.6 391.5 L364.7 393.9 L365.2 394.1 L365.3 393.8 L365.7 391.5 L365.9 394.1 L366.2 391.5 L366.4 390.9 L366.5 391.4 L367.0 391.9 L367.3 392.8 L367.7 392.5 L367.5 391.4 L368.0 392.5 L368.4 391.2 L368.4 392.1 L368.8 388.8 L369.3 388.4 L369.5 391.4 L369.5 388.3 L370.1 389.6 L370.3 389.7 L370.5 389.0 L370.8 388.8 L371.0 391.1 L371.2 385.7 L371.5 390.0 L371.9 391.7 L372.1 388.5 L372.6 388.3 L372.6 389.1 L372.7 390.4 L373.2 386.2 L373.5 387.7 L373.8 387.2 L374.1 388.0 L374.2 387.3 L374.8 387.8 L374.8 386.2 L375.3 386.6 L375.4 385.5 L375.6 385.3 L376.2 385.8 L376.0 385.7 L376.5 384.1 L376.9 387.6 L377.1 385.1 L377.5 383.3 L377.7 386.4 L377.9 383.8 L378.5 385.3 L378.5 384.4 L378.8 384.6 L378.9 384.3 L379.2 383.1 L379.7 383.7 L379.9 386.2 L380.1 380.3 L380.3 383.2 L380.8 383.5 L380.8 381.3 L381.2 380.7 L381.5 385.2 L381.7 381.7 L382.1 384.7 L382.2 382.5 L382.5 381.7 L383.1 382.0 L383.2 382.1 L383.5 382.6 L383.7 381.4 L384.0 380.8 L384.3 380.7 L384.6 382.0 L385.0 381.1 L385.0 378.5 L385.3 378.8 L385.5 379.9 L385.4 378.5 L385.9 378.6 L386.3 377.6 L386.7 378.4 L386.8 379.1 L387.3 379.6 L387.6 378.1 L387.6 380.7 L388.1 377.7 L388.4 381.8 L388.5 378.7 L388.6 377.8 L389.2 376.3 L389.3 373.1 L389.5 376.4 L389.9 376.6 L390.0 378.8 L390.5 374.2 L390.7 378.4 L391.1 375.3 L391.3 376.4 L391.4 371.9 L391.7 375.3 L392.1 374.5 L392.2 375.6 L392.9 374.7 L392.8 372.8 L393.0 375.4 L393.5 374.9 L393.7 374.6 L393.9 374.9 L394.2 374.9 L394.5 373.2 L394.8 371.3 L395.1 371.0 L395.2 374.5 L395.6 373.4 L395.9 372.4 L396.2 371.6 L396.0 372.0 L396.5 371.8 L396.8 371.1 L397.2 370.5 L397.5 374.0 L397.8 371.3 L398.1 370.0 L398.3 368.9 L398.6 369.5 L399.0 371.2 L399.0 371.1 L399.4 369.6 L399.8 369.7 L399.9 369.1 L399.9 367.8 L400.5 370.8 L400.7 369.4 L401.0 372.0 L401.4 367.5 L401.6 368.1 L401.7 369.3 L402.1 367.6 L402.3 365.9 L402.6 366.3 L402.9 367.5 L403.1 367.6 L403.3 366.8 L403.6 368.1 L403.9 367.8 L404.0 366.8 L404.2 366.2 L404.8 365.6 L404.9 366.5 L405.2 366.7 L405.4 365.4 L405.7 365.7 L406.0 364.5 L406.2 362.9 L406.4 363.2 L406.9 365.3 L407.0 364.7 L407.4 366.0 L407.3 363.8 L407.7 364.7 L408.2 365.1 L408.4 364.5 L408.6 362.2 L409.0 362.5 L409.1 362.8 L409.5 361.1 L409.5 362.9 L409.9 363.4 L410.2 361.2 L410.6 364.3 L410.9 361.1 L411.0 361.0 L411.6 360.8 L411.6 360.0 L411.7 361.3 L411.9 360.6 L412.7 362.6 L412.8 361.0 L413.0 360.8 L413.2 359.6 L413.5 357.9 L414.1 359.4 L414.2 358.3 L414.7 360.5 L414.7 359.0 L414.7 361.1 L415.4 359.7 L415.5 359.6 L415.8 358.7 L416.4 358.5 L416.4 358.9 L416.9 359.1 L417.0 356.8 L417.2 358.2 L417.7 360.8 L417.8 357.1 L418.3 356.7 L418.6 356.0 L418.8 354.8 L419.1 358.2 L419.4 356.5 L419.6 356.7 L420.0 358.6 L420.2 359.3 L420.6 354.7 L420.7 357.1 L421.1 356.4 L421.5 355.9 L421.6 355.9 L422.0 355.1 L422.2 357.1 L422.7 355.6 L422.8 355.2 L423.3 356.2 L423.7 355.6 L423.8 354.9 L423.9 354.6 L424.4 356.3 L424.8 354.6 L425.0 353.6 L425.4 352.5 L425.7 353.0 L426.0 352.0 L426.2 353.4 L426.5 353.5 L426.8 350.3 L427.2 352.9 L427.5 353.6 L427.8 352.9 L428.0 351.3 L428.4 354.1 L428.7 351.4 L428.8 350.5 L429.2 350.6 L429.5 351.9 L429.9 353.1 L430.2 353.3 L430.5 351.9 L430.8 350.0 L431.3 350.6 L431.5 350.2 L431.6 351.0 L432.1 348.8 L432.3 351.2 L433.0 351.9 L433.1 350.8 L433.4 351.5 L433.8 349.6 L434.1 348.8 L434.4 349.8 L434.9 352.2 L435.1 351.9 L435.5 349.9 L435.8 352.0 L435.9 350.0 L436.6 352.3 L436.8 350.9 L437.1 349.6 M436.9 349.5 L437.4 350.9 L437.6 350.5 L438.1 349.8 L438.4 352.0 L438.5 350.7 L439.1 350.0 L439.3 350.4 L439.8 350.9 L440.0 351.1 L440.3 350.7 L440.7 351.2 L440.9 351.4 L441.3 349.2 L441.7 349.8 L441.9 349.5 L442.3 350.3 L442.5 351.3 L443.0 350.7 L443.1 349.4 L443.7 350.0 L444.0 351.0 L444.3 349.8 L444.5 350.1 L445.3 350.4 L445.2 348.8 L445.6 350.8 L445.8 350.5 L446.4 350.6 L446.5 349.4 L447.0 349.6 L447.1 349.7 L447.6 350.4 L447.8 350.2 L448.3 350.3 L448.5 351.6 L448.8 351.2 L449.3 349.6 L449.4 349.7 L449.8 351.5 L450.3 349.9 L450.3 351.3 L450.9 351.5 L451.1 349.8 L451.4 350.0 L451.9 350.3 L452.3 349.5 L452.4 349.4 L452.8 349.9 L453.3 350.9 L453.6 349.8 L453.8 350.0 L454.1 349.8 L454.4 349.1 L454.8 351.4 L455.2 348.3 L455.6 349.7 L455.8 350.6 L456.3 349.1 L456.4 350.7 L456.8 351.2 L457.1 349.5 L457.7 350.3 L457.6 349.3 L458.2 350.6 L458.5 350.2 L458.8 350.3 L459.4 351.3 L459.6 350.5 L459.9 351.2 L460.0 350.7 L460.5 349.2 L460.7 350.4 L461.1 350.6 L461.5 349.0 L461.7 351.2 L462.2 350.2 L462.6 350.5 L462.9 349.5 L463.1 350.2 L463.2 350.4 L463.9 349.9 L464.2 350.2 L464.4 348.5 L464.7 351.2 L465.1 349.3 L465.3 348.4 L465.8 349.4 L465.9 349.5 L466.3 350.6 L466.7 349.4 L466.9 350.4 L467.4 349.4 L467.8 351.9 L467.9 350.6 L468.5 351.7 L468.6 349.3 L469.1 350.7 L469.4 349.4 L469.6 350.6 L470.0 350.7 L470.2 348.9 L470.6 349.2 L470.9 349.2 L471.5 349.0 L471.8 349.6 L471.8 349.4 L472.4 349.0 L472.7 350.2 L472.9 350.6 L473.4 349.1 L473.7 349.7 L473.9 350.1 L474.3 349.9 L474.7 349.6 L474.9 350.8 L475.3 350.8 L475.6 350.7 L475.9 350.0 L476.2 351.7 L476.7 351.5 L477.0 349.8 L477.3 350.0 L477.5 351.1 L478.0 349.5 L478.3 350.4 L478.7 350.2 L479.1 349.6 L479.2 349.9 L479.6 348.9 L479.9 349.7 L480.2 348.5 L480.8 351.9 L481.0 351.3 L481.0 351.1 L481.6 350.3 L481.8 350.9 L482.4 351.1 L482.6 350.9 L482.9 350.8 L483.2 349.4 L483.6 350.4 L483.9 349.7 L484.2 349.2 L484.5 349.2 L484.9 350.4 L485.1 350.9 L485.5 349.0 L485.9 351.5 L486.1 351.2 L486.6 349.8 L486.7 349.7 L487.1 350.0 L487.4 350.9 L487.9 349.8 L488.1 349.2 L488.5 350.3 L488.9 348.4 L489.0 350.2 L489.5 351.0 L489.7 350.3 L490.1 350.7 L490.5 350.5 L490.9 350.6 L491.2 350.2 L491.7 349.4 L491.8 349.9 L492.1 350.0 L492.4 351.0 L492.9 351.3 L493.3 350.4 L493.5 349.4 L493.7 349.5 L494.2 349.9 L494.5 351.1 L494.8 350.3 L495.0 350.0 L495.2 349.4 L495.7 350.7 L496.2 350.3 L496.5 350.0 L496.5 350.1 L497.1 351.4 L497.2 349.9 L498.0 351.4 L498.1 351.0 L498.3 350.1 L498.8 350.7 L499.0 349.9 L499.5 349.3 L499.7 349.8 L499.9 349.3 L500.5 350.4 L500.6 350.0 L501.2 350.4 L501.4 350.6 L501.6 347.5 L501.8 350.2 L502.6 348.6 L502.9 350.1 L502.9 349.3 L503.5 350.1 L503.7 351.1 L504.0 348.6 L504.3 350.1 L504.7 349.9 L505.2 348.5 L505.4 350.5 L505.5 350.0 L506.2 349.5 L506.4 349.4 L506.5 352.5 L507.0 349.6 L507.2 348.5 L507.7 349.2 L508.0 349.6 L508.3 349.6 L508.6 349.9 L508.9 349.1 L509.4 350.4 L509.6 349.5 L510.2 348.8 L510.2 349.3 L510.7 349.6 L511.0 350.6 L511.2 350.3 L511.8 349.6 L512.0 349.9 L512.2 350.1 L512.6 351.5 L513.1 349.4 L513.1 350.3 L513.8 350.5 L514.0 349.1 L514.2 350.0 L514.7 350.0 L515.1 349.5 L515.3 350.3 L515.6 350.7 L516.1 350.8 L516.4 349.7 L516.5 350.0 L516.9 351.7 L517.2 349.0 L517.5 350.0 L517.7 350.6 L518.3 350.0 L518.6 350.4 L518.9 350.0 L519.4 350.4 L519.5 350.8 L519.9 349.7 L520.2 350.0 L520.5 349.8 L520.9 349.5 L521.3 349.8 L521.5 348.9 L522.0 350.4 L522.1 351.1 L522.5 351.1 L522.7 350.8 L523.2 349.0 L523.4 351.0 L524.0 349.2 L524.2 349.7 L524.6 351.2 L525.0 348.9 L525.3 350.4 L525.6 350.0 L525.7 349.6 L526.0 349.1 L526.5 350.1 L526.8 349.4 L527.1 350.6 L527.4 350.7 L527.6 348.6 L528.3 349.3 L528.3 349.5 L528.7 348.8 L529.2 348.8 L529.3 349.8 L529.9 349.5 L530.2 348.4 L530.4 349.3 L530.6 350.1 L531.0 348.7 L531.2 349.0 L531.9 350.9 L532.1 350.7 L532.3 348.4 L532.6 348.6 L533.1 350.0 L533.6 348.7 L533.6 349.5 L534.0 349.3 L534.2 350.1 L534.8 347.6 L535.1 347.9 L535.6 348.7 L535.7 350.4 L536.0 349.5 L536.3 348.3 L536.8 350.0 L536.9 350.2 L537.5 349.4 L537.7 349.3 L538.0 349.9 L538.3 350.5 L538.8 349.7 L539.2 350.0 L539.3 349.5 L539.7 349.3 L540.2 348.8 L540.3 349.8 L540.6 349.3 L540.9 349.3 L541.3 350.3 L541.7 349.9 L541.9 350.2 L542.2 348.3 L542.5 349.9 L542.8 349.0 L543.2 348.8 L543.7 348.8 L543.9 350.4 L544.2 350.1 L544.7 348.9 L545.0 348.5 L545.2 349.5 L545.6 349.1 L546.0 350.7 L546.3 348.3 L546.5 348.0 L547.0 349.2 L547.3 349.4 L547.7 349.5 L547.8 350.0 L548.4 351.0 L548.6 349.1 L548.8 348.9 L549.4 347.9 L549.7 349.5 L549.8 350.0 L550.5 349.1 L550.4 350.2 L550.8 349.3 L551.2 350.4 L551.7 349.5 L552.0 348.4 L552.2 348.7 L552.7 348.0 L552.9 347.8 L553.4 349.4 L553.9 349.8 L553.9 350.7 L553.9 349.0 L554.5 348.9 L554.7 348.2 L555.2 349.8 L555.5 349.3 L555.7 348.5 L556.0 349.5 L556.5 349.3 L556.8 347.3 L556.8 349.3 L557.6 348.8 L557.8 348.3 L558.1 348.1 L558.4 349.7 L558.6 349.4 L559.0 349.5 L559.4 347.1 L559.8 347.4 L560.0 348.5 L560.2 346.8 L560.5 347.1 L561.1 346.2 L561.3 349.0 L561.5 348.3 L561.6 347.7 L562.1 347.4 L562.3 346.9 L563.0 346.8 L563.2 347.5 L563.4 346.4 L563.8 347.8 L564.4 346.4 L564.6 346.0 L564.6 347.6 L565.1 346.4 L565.2 346.8 L565.5 346.0 L566.0 344.4 L566.6 346.5 L566.8 345.0 L567.0 346.7 L567.2 344.8 L567.6 344.5 L568.0 345.8 L568.1 345.8 L568.3 345.5 L569.1 344.5 L569.2 345.8 L569.7 344.1 L569.8 344.7 L570.3 344.4 L570.3 344.5 L570.8 345.2 L571.2 344.1 L571.5 344.8 L571.6 344.7 L572.1 343.2 L572.2 343.4 L572.4 343.7 L573.0 343.5 L573.4 343.9 L573.6 342.5 L573.7 343.9 L574.2 343.8 L574.5 343.2 L574.7 342.4 L574.8 343.0 L575.5 342.6 L575.8 343.1 L576.0 342.6 L576.1 342.9 L576.4 342.2 L577.0 343.0 L577.3 340.9 L577.5 341.4 L577.7 342.1 L578.1 340.9 L578.3 341.9 L578.6 340.8 L578.8 341.3 L579.3 340.6 L579.5 340.7 L579.9 340.8 L580.2 340.6 L580.3 340.2 L580.9 341.3 L580.8 340.1 L581.3 339.5 L581.6 340.2 L581.9 340.0 L581.8 340.0 L582.5 340.1 L582.8 338.6 L583.1 339.4 L582.9 339.2 L583.4 338.5 L583.7 338.4 L583.9 336.6 L584.4 337.6 L584.4 338.6 L584.9 336.7 L585.1 337.1 L585.2 337.3 L585.5 337.2 L585.8 337.5 L586.1 335.7 L586.5 336.4 L586.6 336.5 L587.0 335.3 L587.0 335.7 L587.1 336.4 L587.6 336.0 L588.0 335.4 L588.1 333.6 L588.3 334.6 L588.8 334.7 L589.2 334.1 L589.2 334.0 L589.4 335.3 L589.6 333.5 L590.2 333.0 L590.2 333.3 L590.5 332.8 L590.9 332.6 L591.1 332.5 L591.1 332.7 L591.6 332.2 L591.8 331.3 L592.0 331.6 L592.3 331.7 L592.4 331.0 L592.7 331.6 L592.9 331.2 L593.2 330.1 L593.3 330.5 L593.7 331.1 L593.7 330.6 L594.1 329.6 L594.3 329.8 L594.6 328.8 L594.8 328.2 L595.0 329.0 L595.3 328.6 L595.3 328.5 L595.9 328.0 L595.9 327.9 L596.2 327.3 L596.4 327.5 L596.8 327.5 L596.8 326.8 L597.2 327.0 L597.5 325.5 L597.8 325.8 L598.0 326.6 L598.2 326.5 L598.2 325.5 L598.7 325.1 L598.9 324.3 L599.1 324.9 L599.3 324.9 L599.5 323.5 L599.6 324.3 L600.1 324.0 L600.3 323.8 L600.3 322.8 L600.7 323.3 L600.9 322.1 L601.2 323.3 L601.3 322.4 L601.7 321.6 L601.9 322.5 L602.1 322.2 L602.1 321.1 L602.5 322.2 L602.7 320.4 L602.8 320.8 L603.2 321.0 L603.2 319.1 L603.7 320.4 L604.0 319.7 L604.0 319.5 L604.4 318.7 L604.5 319.2 L604.8 318.2 L604.8 318.0 L605.2 318.1 L605.4 317.4 L605.7 318.5 L605.8 316.9 L606.2 316.9 L606.3 316.9 L606.6 316.8 L606.9 317.0 L607.0 316.7 L607.3 315.9 L607.4 315.7 L607.7 315.6 L607.8 315.8 L608.2 315.4 L608.4 314.6 L608.5 313.6 L608.8 315.4 L609.0 314.6 L609.0 314.0 L609.4 313.8 L609.8 313.2 L609.8 312.7 L609.9 312.8 L610.3 312.6 L610.4 312.1 L611.0 311.5 L611.0 311.8 L611.2 312.0 L611.3 311.2 L611.7 311.2 L611.8 310.0 L612.0 310.6 L612.3 310.4 L612.4 309.7 L612.9 309.2 L612.8 310.0 L613.2 309.1 L613.3 309.5 L613.5 308.8 L614.1 309.1 L613.8 308.4 L614.5 307.6 L614.4 308.0 L614.8 307.7 L615.3 307.9 L615.0 307.1 L615.3 306.9 L615.8 307.3 L615.9 307.2 L616.0 306.7 L616.3 306.6 L616.4 306.1 L616.8 306.0 L617.2 305.8 L617.2 305.3 L617.4 304.9 L617.8 304.7 L618.1 305.5 L618.0 304.1 L618.3 303.8 L618.5 303.5 L618.7 303.4 L618.9 303.3 L619.1 302.4 L619.2 301.7 L619.4 302.6 L619.8 301.4 L620.1 302.0 L620.4 301.7 L620.4 302.0 L620.7 302.0 L621.0 301.1 L621.2 300.4 L621.4 299.9 L621.6 299.8 L622.0 300.0 L622.0 298.7 L622.2 299.5 L622.3 299.2 L622.7 299.3 L622.9 298.5 L623.3 298.5 L623.3 297.8 L623.6 297.7 L623.9 296.8 L624.2 297.5 L624.0 297.9 L624.6 297.0 L624.6 296.9 L624.8 296.0 L625.0 296.9 L625.2 295.6 L625.4 296.1 L625.4 295.5 L626.0 294.7 L626.1 295.4 L626.2 294.7 L626.5 294.5 L627.0 294.4 L627.0 293.9 L627.2 293.5 L627.6 293.7 L627.5 293.0 L627.8 293.0 L628.0 292.4 L628.2 291.7 L628.6 291.9 L628.8 291.7 L628.8 291.7 L629.1 292.0 L629.3 290.3 L629.5 291.0 L629.7 289.6 L629.9 289.9 L630.1 289.9 L630.4 288.8 L630.5 288.7 L630.9 289.5 L631.0 289.2 L631.1 288.8 L631.4 288.2 L631.6 289.4 L631.8 288.0 L632.1 287.4 L632.2 288.4 L632.4 287.6 L632.9 286.9 L633.0 287.4 L633.1 286.7 L633.4 286.6 L633.6 286.2 L633.7 285.3 L633.9 286.0 L634.4 285.4 L634.5 284.5 L634.7 284.4 L634.7 285.0 L635.0 284.1 L635.4 284.0 L635.4 284.1 L635.7 283.5 L635.9 282.5 L636.1 283.3 L636.4 283.2 L636.4 282.9 L636.7 283.0 L636.8 282.1 L637.3 282.1 L637.3 282.2 L637.5 281.0 L637.8 281.8 L637.8 281.5 L638.1 280.8 L638.2 281.0 L638.5 280.3 L638.7 279.2 L639.0 279.9 L639.1 279.3 L639.3 279.1 L639.5 278.7 L639.7 279.0 L639.9 278.4 L640.3 277.5 L640.5 277.8 L640.6 277.7 L640.7 276.8 L641.1 276.6 L641.1 276.4 L641.5 276.1 L641.7 276.3 L641.8 276.3 L642.0 276.5 L642.2 275.9 L642.8 275.6 L642.7 275.4 L643.0 275.3 L643.3 274.2 L643.5 274.5 L643.8 274.0 L643.7 273.6 L644.0 273.2 L644.7 272.9 L644.5 272.8 L644.7 272.1 L645.0 272.7 L645.3 272.2 L645.3 272.0 L645.7 271.8 L645.9 271.8 L646.2 270.9 L646.4 270.9 L646.5 269.9 L646.7 269.4 L646.7 269.3 L647.4 270.8 L647.3 268.9 L647.7 269.8 L648.1 270.0 L648.1 268.8 L648.5 269.6 L648.6 269.5 L648.9 268.8 L649.1 269.3 L649.2 268.2 L649.7 267.3 L649.7 267.6 L649.8 266.9 L650.2 266.3 L650.5 266.1 L650.6 267.6 L651.0 266.0 L651.2 266.0 L651.6 265.4 L651.5 265.6 L651.9 265.1 L651.9 264.8 L652.2 264.2 L652.5 263.9 L652.8 264.0 L653.0 264.2 L653.2 264.8 L653.4 264.1 L653.6 264.2 L653.9 263.4 L654.2 262.8 L654.4 262.0 L654.7 262.4 L654.9 261.1 L654.8 261.8 L655.2 262.5 L655.4 261.6 L655.6 261.7 L656.0 260.8 L656.2 260.0 L656.3 260.2 L656.6 260.0 L657.0 260.6 L657.0 260.7 L657.2 259.1 L657.6 259.1 L657.8 258.9 L658.1 258.6 L658.2 257.9 L658.5 258.3 L658.5 258.2 L658.7 258.0 L659.0 257.0 L659.0 257.2 L659.5 256.2 L659.8 257.3 L659.9 256.1 L660.1 256.2 L660.5 255.9 L660.6 255.6 L660.9 255.1 L661.3 254.5 L661.3 255.9 L661.6 255.0 L661.8 254.7 L661.9 255.4 L662.2 254.1 L662.4 254.1 L662.7 253.6 L662.6 254.0 L663.0 253.4 L663.3 253.0 L663.4 252.5 L663.7 252.5 L663.8 252.7 L664.2 250.9 L664.5 251.6 L664.7 251.2 L664.9 251.0 L664.9 250.0 L665.3 251.1 L665.5 250.0 L665.9 250.1 L665.7 249.7 L666.2 248.9 L666.1 249.3 L666.7 248.3 L666.9 248.5 L667.1 248.6 L667.3 248.5 L667.5 248.3 L667.6 247.9 L668.0 248.8 L668.3 247.7 L668.3 246.7 L668.6 246.7 L668.7 246.5 L669.2 246.5 L669.2 246.0 L669.4 245.6 L669.6 246.7 L669.8 245.6 L670.1 245.2 L670.5 245.0 L670.7 244.7 L671.0 245.3 L671.2 244.6 L671.2 244.7 L671.5 242.3 L671.9 243.8 L672.2 243.9 L672.0 244.2 L672.2 242.9 L672.6 241.8 L672.8 242.7 L672.9 241.8 L673.3 241.0 L673.4 241.3 L673.4 242.0 L673.9 241.8 L674.2 241.3 L674.4 240.1 L674.7 241.8 L674.8 239.6 L675.0 239.9 L675.2 239.0 L675.3 240.2 L675.7 239.5 L676.1 239.5 L676.2 238.8 L676.6 238.5 L676.6 238.4 L676.6 237.0 L677.2 238.3 L677.4 238.1 L677.4 237.1 L677.6 237.1 L678.0 237.0 L678.3 237.5 L678.3 236.6 L678.6 236.1 L678.8 235.6 L679.0 234.8 L679.2 235.1 L679.6 235.2 L679.7 234.8 L679.9 234.7 L679.9 234.9 L680.7 234.5 L680.6 234.1 L680.9 234.1 L681.0 233.6 L681.4 233.2 L681.5 233.3 L681.9 231.8 L682.1 233.3 L682.4 231.6 L682.4 232.6 L682.7 231.9 L683.0 232.3 L683.5 231.4 L683.3 230.6 L683.7 231.6 L683.9 230.8 L684.2 230.5 L684.5 230.3 L684.7 230.6 L684.9 230.2 L685.1 229.7 L685.3 228.4 L685.6 228.8 L685.6 228.9 L686.0 229.7 L686.2 228.6 L686.5 228.1 L686.8 228.6 L687.0 227.6 L687.3 227.4 L687.6 227.3 L687.4 226.1 L688.0 227.3 L688.2 226.8 L688.4 226.1 L688.5 225.3 L688.9 225.9 L689.2 226.5 L689.5 225.0 L689.6 224.5 L689.9 225.2 L690.2 223.7 L690.5 223.0 L690.7 223.9 L690.8 223.5 L691.0 223.6 L691.3 223.2 L691.5 223.5 L691.7 222.9 L692.0 222.4 L692.1 222.3 L692.3 222.8 L692.7 222.7 L692.8 222.5 L693.1 222.1 L693.1 219.3 L693.7 220.6 L693.8 220.8 L694.1 220.9 L694.4 219.5 L694.6 221.2 L694.7 220.3 L695.3 219.4 L695.2 219.7 L695.6 219.1 L695.9 218.6 L695.9 219.2 L696.2 218.4 L696.3 217.5 L696.8 217.8 L696.9 217.9 L697.0 217.0 L697.5 218.4 L697.7 216.6 L697.8 218.2 L698.2 217.4 L698.4 216.0 L698.9 216.5 L699.0 216.9 L699.0 215.8 L699.3 214.9 L699.4 215.5 L699.8 216.6 L700.0 214.0 L700.3 215.2 L700.5 214.6 L700.6 214.2 L700.9 213.8 L701.4 213.7 L701.6 214.4 L701.7 213.8 L701.9 212.5 L702.1 214.0 L702.4 211.8 L702.4 213.0 L703.0 212.4 L703.0 212.9 L703.4 212.1 L703.3 212.3 L703.9 211.4 L704.2 211.8 L704.1 211.2 L704.7 212.2 L704.8 210.0 L704.9 211.1 L705.1 210.3 L705.6 209.9 L705.8 209.2 L706.1 209.7 L706.2 208.1 L706.4 207.9 L706.8 209.2 L706.8 207.3 L707.3 209.2 L707.2 207.8 L707.6 207.9 L707.8 207.6 L708.3 207.6 L708.2 206.9 L708.5 206.6 L709.0 206.5 L709.2 207.2 L709.6 207.0 L709.8 206.9 L709.9 206.0 L710.2 205.4 L710.1 204.1 L710.5 205.5 L710.8 205.5 L711.0 204.3 L711.2 205.0 L711.4 205.1 L711.7 204.0 L712.2 204.5 L712.3 203.7 L712.5 202.0 L712.7 202.7 L713.0 202.5 L713.2 203.0 L713.5 201.7 L713.5 201.8 L714.1 201.2 L714.3 201.7 L714.5 201.5 L714.8 202.0 L715.0 201.6 L715.4 200.9 L715.5 200.8 L715.5 200.5 L715.8 200.2 L716.3 201.1 L716.5 197.8 L716.8 199.4 L717.0 199.5 L717.2 199.9 L717.2 198.0 L717.6 198.9 L717.7 199.0 L718.1 197.8 L718.2 196.5 L718.6 197.5 L718.9 196.6 L718.9 197.8 L719.5 196.4 L719.7 198.2 L719.7 196.8 L720.1 195.8 L720.5 195.8 L720.6 195.1 L721.0 196.1 L721.1 196.7 L721.5 195.2 L721.7 195.9 L721.9 194.2 L722.2 195.0 L722.5 196.3 L722.7 193.2 L722.8 195.0 L723.0 194.8 L723.3 192.1 L723.6 192.3 L723.9 192.4 L724.2 193.8 L724.4 192.4 L724.6 192.4 L724.9 192.9 L725.3 192.2 L725.5 192.1 L725.6 191.4 L725.9 192.4 L726.1 190.6 L726.4 192.4 L726.6 190.5 L726.8 190.0 L727.0 190.9 L727.1 190.5 L727.6 188.3 L728.0 189.9 L728.0 188.4 L728.4 188.6 L728.5 189.7 L728.9 188.1 L729.0 188.9 L729.3 188.1 L729.5 189.7 L729.5 187.8 L730.1 186.7 L730.3 186.6 L730.2 186.5 L730.8 187.1 L731.0 186.8 L731.3 187.4 L731.5 186.5 L731.7 186.2 L731.8 186.2 L732.1 185.5 L732.4 185.7 L732.9 185.8 L733.1 185.6 L733.1 184.3 L733.3 183.0 L733.6 183.6 L733.9 184.3 L734.0 181.7 L734.2 183.2 L734.8 183.7 L734.9 182.6 L734.8 181.9 L735.0 184.1 L735.4 183.6 L735.7 182.0 L736.0 183.1 L736.2 182.8 L736.2 180.5 L736.7 183.6 L737.0 180.2 L737.1 180.6 L737.3 179.6 L737.7 180.4 L737.8 178.9 L737.9 179.8 L738.3 180.6 L738.4 179.6 L738.9 178.9 L739.1 180.3 L739.1 177.9 L739.5 179.3 L739.9 178.0 L739.7 178.2 L740.2 177.8 L740.6 177.6 L740.5 177.2 L740.9 176.4 L741.0 176.3 L741.3 177.0 L741.3 176.3 L741.6 175.1 L742.0 175.3 L742.3 175.0 L742.6 175.4 L742.8 175.4 L743.1 175.1 L743.3 174.2 L743.6 174.5 L743.6 173.0 L743.9 171.4 L744.6 173.8 L744.7 172.1 L744.8 172.5 L745.0 172.0 L745.3 173.5 L745.3 171.6 L745.8 172.7 L745.8 171.8 L746.1 170.9 L746.6 170.3 L746.3 171.9 L746.9 171.7 L746.9 171.8 L747.2 172.5 L747.5 170.9 L747.7 170.6 L748.0 170.1 L748.2 170.0 L748.5 169.4 L748.6 168.7 L748.9 171.1 L749.1 167.3 L749.6 169.1 L749.6 169.0 L750.0 168.5 L750.2 167.2 L750.4 167.7 L750.8 167.3 L751.0 166.5 L751.0 167.2 L751.5 166.7 L751.3 166.3 L752.0 167.2 L752.1 165.4 L752.3 166.6 L752.7 165.4 L752.9 166.1 L753.4 165.6 L753.4 165.5 L753.9 164.1 L754.1 164.1 L754.1 163.8 L754.3 164.6 L754.8 164.9 L754.9 165.0 L755.2 163.3 L755.4 163.6 L755.5 161.7 L755.8 160.9 L756.0 162.0 L756.2 162.0 L756.6 160.9 L757.1 160.5 L757.3 162.5 L757.4 161.0 L757.6 159.9 L757.9 163.6 L758.3 161.3 L758.4 160.6 L758.6 161.3 L758.8 159.7 L759.2 161.8 L759.7 158.5 L759.5 158.5 L759.6 159.5 L760.2 158.6 L760.3 160.5 L760.6 157.4 L761.0 158.0 L761.1 158.7 L761.2 158.8 L761.4 159.1 L761.9 158.2 L762.0 159.8 L762.4 157.0 L762.5 157.4 L762.8 157.8 L762.9 156.5 L763.3 156.3 L763.6 155.9 L763.9 155.5 L764.3 154.8 L764.3 155.1 L764.5 153.9 L765.1 155.6 L765.2 153.5 L765.4 156.9 L765.7 156.3 L766.1 155.5 L766.2 154.0 L766.5 153.4 L766.7 155.0 L766.8 153.7 L767.1 153.9 L767.4 152.4 L767.7 154.0 L767.9 151.9 L768.2 152.6 L768.4 150.5 L768.6 151.4 L768.7 152.4 L769.3 151.2 L769.5 151.0 L769.6 152.0 L770.0 150.9 L770.2 152.1 L770.4 148.1 L770.5 151.0 L770.8 150.7 L771.1 148.4 L771.6 148.4 L771.6 150.4 L771.9 148.2 L772.1 148.5 L772.4 149.5 L772.8 148.4 L772.7 149.0 L772.9 147.4 L773.6 148.4 L773.8 149.0 L774.0 148.0 L774.4 145.2 L774.7 147.9 L774.6 147.1 L775.0 145.9 L775.5 148.1 L775.5 144.6 L775.8 148.2 L776.2 145.4 L776.3 147.5 L776.5 145.6 L776.8 144.0 L777.0 145.4 L777.5 145.4 L777.5 145.4 L778.1 145.8 L778.0 143.5 L778.5 144.8 L778.6 144.9 L779.0 143.6 L779.5 142.7 L779.7 142.5 L780.0 144.2 L780.2 144.1 L780.5 142.1 L780.8 141.4 L781.1 144.0 L781.2 140.8 L781.7 142.5 L781.9 141.3 L782.3 140.1 L782.5 142.0 L782.8 141.5 L782.9 143.1 L783.2 143.8 L783.4 141.0 L783.8 142.1 L784.1 142.0 L784.6 140.2 L784.6 139.6 L785.4 142.1 L785.3 139.8 L785.8 140.0 L786.0 139.6 L785.9 139.6 L786.4 138.9 L786.9 140.2 L786.7 140.6 L787.4 138.6 L787.5 137.4 L787.8 138.8 L788.2 136.9 L788.2 137.6 L788.7 139.5 L788.9 140.5 L789.1 138.2 L789.6 136.4 L790.2 138.3 L790.1 134.8 L790.4 136.3 L790.6 138.5 L790.8 137.5 L791.2 135.0 L791.6 134.5 L791.7 137.0 L792.1 135.9 L792.2 135.1 L792.8 136.0 L792.6 134.7 L793.1 133.0 L793.4 135.9 L793.6 134.1 L793.7 133.5 L794.0 132.9 L794.4 134.5 L794.7 133.1 L794.8 134.5 L795.1 133.4 L795.6 134.7 L795.9 132.9 L796.0 132.4 L796.2 130.7 L796.5 131.5 L797.1 133.4 L797.2 135.8 L797.4 130.8 L797.8 130.8 L798.2 132.2 L798.4 132.2 L798.3 130.7 L798.8 131.4 L799.0 129.3 L799.3 130.6 L799.5 131.8 L799.9 132.4 L800.1 130.2 L800.5 129.9 L800.8 130.6 L800.9 131.2 L801.1 130.3 L801.5 128.7 L802.0 129.8 L802.2 130.3 L802.5 128.3 L802.4 127.4 L803.0 129.3 L803.2 129.0 L803.6 129.5 L803.8 128.4 L804.1 127.4 L804.4 127.4 L805.1 126.6 L805.1 126.6 L805.3 126.8 L805.6 126.8 L805.9 128.4 L806.2 125.6 L806.5 126.8 L806.8 126.0 L807.2 128.2 L807.5 126.7 L807.7 125.8 L808.1 127.0 L808.3 126.0 L808.4 125.2 L808.6 127.4 L809.1 126.3 L809.4 127.3 L809.8 126.5 L810.1 125.9 L810.2 125.0 L810.5 123.4 L811.0 125.3 L811.3 124.4 L811.4 125.0 L811.8 124.0 L812.2 123.1 L812.4 122.6 L812.6 124.4 L812.7 124.9 L813.4 122.9 L813.6 123.6 L813.8 124.5 L814.0 121.8 L814.2 122.2 L814.6 121.2 L814.9 123.6 L815.3 122.4 L815.4 121.4 L816.0 119.9 L816.1 121.4 L816.5 122.6 L816.5 121.0 L817.0 120.7 L817.4 121.7 L817.5 119.4 L817.6 120.7 L818.0 121.2 L818.4 119.4 L818.5 119.2 L818.8 120.3 L819.3 119.7 L819.4 119.4 L819.9 119.8 L820.0 119.6 L820.2 118.2 L820.6 118.3 L821.1 119.4 L821.2 120.0 L821.5 120.1 L821.9 117.5 L822.0 119.5 L822.5 119.0 L822.7 117.9 L823.1 118.4 L823.1 118.6 L823.4 119.5 L823.6 116.2 L824.2 117.9 L824.5 116.9 L824.9 116.7 L825.3 118.1 L825.3 117.6 L825.6 115.3 L826.0 116.0 L826.5 116.5 L826.5 114.5 L827.0 116.9 L827.2 115.7 L827.4 115.9 L827.9 116.0 L828.0 117.5 L828.3 115.4 L828.8 114.8 L829.0 117.0 L829.3 114.4 L829.6 114.2 L830.0 113.1 L830.2 115.8 L830.6 114.8 L830.9 114.9 L831.4 114.5 L831.6 114.0 L831.9 113.2 L832.1 113.1 L832.4 114.3 L832.7 113.9 L833.4 115.5 L833.4 112.7 L833.8 112.9 L834.2 112.2 L834.2 114.8 L834.5 111.8 L834.9 114.0 L835.2 114.7 L835.5 112.8 L835.9 113.7 L836.4 110.4 L836.7 112.3 L836.9 110.8 L837.2 112.8 L837.3 112.6 L838.0 111.6 L838.3 113.5 L838.4 112.8 L838.9 111.8 L839.2 111.7 L839.4 110.6 L839.7 112.0 L840.1 114.6 L840.4 111.4 L840.9 112.6 L841.2 111.5 L841.5 113.0 L841.8 112.5 L842.1 111.7 L842.7 109.9 L842.6 111.3 L843.3 113.2 L843.5 111.5 L843.8 112.4 L844.0 111.1 L844.4 109.4 L844.6 112.0 L844.9 111.8 L845.4 110.7 L845.5 110.8 L846.1 111.5 L846.5 110.4 L846.2 111.4 L846.8 110.7 L847.3 108.2 L847.6 110.6 L847.9 110.0 L848.3 109.7 L848.7 111.0 L849.0 109.9 L849.4 111.0 L849.5 111.5 L850.0 110.3 L850.0 108.3 L850.5 109.2 L850.7 111.0 L851.3 109.5 L851.7 108.8 L851.8 109.6 L851.9 110.1 L852.4 109.8 L852.7 110.1 L853.1 108.4 L853.5 108.9 L853.8 108.8 L853.7 109.0 L854.5 106.5 L854.5 108.5 L854.8 107.2 L855.4 110.2 L855.5 110.2 L855.7 110.3 L856.0 109.2 L856.5 107.6 L856.9 109.1 L857.3 107.7 L857.4 108.5 L857.7 106.7 L858.2 106.9 L858.3 108.0 L858.8 109.4 L859.0 107.3 L859.3 109.8 L859.6 110.2 L860.0 105.6 L860.2 106.9 L860.5 105.8 L860.9 106.7 L861.1 106.2 L861.6 106.7 L861.9 107.8 L862.2 107.7 L862.5 106.9 L862.8 106.6 L863.4 106.8 L863.5 106.9 L863.8 107.4 L864.1 106.8 L864.6 107.5 L864.8 105.5 L865.1 108.0 L865.4 109.2 L865.8 107.5 L866.1 105.9 L866.4 109.1 L866.4 107.4 L866.8 104.5 L866.9 107.8 L867.6 108.9 L867.9 108.8 L868.2 109.9 L868.4 109.4 L868.8 109.0 L869.0 106.7 L869.2 107.9 L869.4 109.5 L869.8 110.2 L870.1 108.4 L870.6 109.0 L871.0 110.3 L871.0 107.8 L871.4 107.9 L871.7 109.9 L871.9 110.6 L872.1 109.9 L872.5 108.0 L872.7 110.7 L873.2 109.3 L873.5 111.7 L873.8 110.9 L874.1 111.5 L874.5 112.0 L874.6 110.8 L875.1 112.5 L875.1 113.1 L875.6 112.3 L876.0 113.5 L876.1 111.4 L876.3 113.3 L876.9 112.8 L877.0 111.5 L877.5 112.7 L877.8 112.4 L877.9 112.5 L878.2 113.4 L878.6 114.7 L878.8 113.4 L878.9 114.1 L879.3 112.5 L879.6 114.5 L879.8 115.9 L880.0 115.7 L880.2 115.5 L880.5 114.6 L880.6 114.3 L880.8 115.6 L881.3 114.4 L881.3 114.8 L881.7 117.5 L881.7 115.6 L882.1 119.0 L882.1 115.6 L882.8 118.0 L882.5 116.4 L882.7 118.2 L883.1 117.1 L883.3 118.6 L883.1 118.7 L883.5 118.6 L883.7 120.0 L883.6 121.4 L884.0 119.4 L884.0 121.3 L884.1 120.7 L884.3 120.9 L884.5 123.7 L884.5 119.1 L885.1 121.0 L884.9 120.1 L884.9 122.1 L885.3 122.5 L885.3 127.4 L885.6 123.7 L885.5 125.7 L885.7 125.4 L885.8 123.8 L885.9 125.1 L886.0 126.8 L886.1 125.4 L886.4 125.8 L886.2 126.4 L886.3 124.4 L886.5 125.5 L886.7 127.2 L886.8 127.7 L886.9 126.4 L886.8 127.3 L887.0 127.9 L887.1 128.2 L887.2 129.4 L887.3 129.1 L887.1 129.5 L887.5 128.0 L887.6 128.7 L887.5 130.6 L887.7 128.8 L888.0 131.2 L887.8 130.5 L888.0 130.6 L888.0 132.6 L888.0 131.4 L888.1 131.5 L888.2 132.1 L888.5 133.2 L888.5 136.5 L888.4 131.4 L888.6 134.1 L888.6 134.2 L888.6 135.8 L888.8 134.7 L888.7 132.7 L888.7 137.2 L889.1 134.8 L888.8 136.3 L889.1 135.2 L888.9 135.8 L889.2 136.8 L889.2 138.6 L889.3 138.9 L889.1 137.7 L889.4 139.2 L889.5 138.6 L889.4 139.4 L889.6 139.8 L889.8 140.6 L889.6 139.6 L889.8 140.4 L889.7 141.1 L889.9 141.3 L890.0 140.7 L890.3 143.7 L890.1 141.7 L890.1 143.4 L890.3 143.1 L890.0 144.5 L890.3 141.2 L890.2 146.0 L890.2 144.0 L890.4 143.2 L890.4 145.0 L890.5 147.5 L890.2 146.0 L890.5 144.5 L890.4 145.7 L890.5 147.9 L890.3 145.3 L890.7 146.9 L890.6 147.2 L890.5 150.0 L890.5 147.8 L890.5 149.8 L890.8 148.1 L890.7 148.3 L890.6 150.5 L890.8 150.4 L890.7 148.3 L890.8 151.1 L890.8 151.4 L890.8 150.5 L890.9 151.6 L890.6 152.0 L890.8 151.6 L890.7 151.8 L890.8 152.1 L890.8 152.8 L890.7 152.1 L890.8 153.7 L890.9 152.6 L890.8 154.5 L890.7 154.6 L890.9 154.0 L891.0 156.2 L890.8 157.6 L890.9 157.4 L890.8 155.0 L890.8 158.0 L891.0 157.2 L891.0 157.3 L890.9 157.1 L890.9 158.0 L890.7 159.7 L890.9 159.2 L891.0 158.6 L891.0 158.7 L891.1 159.3 L891.0 160.6 L891.0 162.1 L890.8 159.6 L891.1 161.0 L891.0 161.0 L891.1 160.9 L891.0 162.4 L891.0 162.8 L891.1 161.3 L890.9 162.0 L891.0 164.4 L891.1 163.9 L890.9 164.5 L890.8 163.8 L891.0 164.3 L891.0 165.4 L891.0 164.8 L891.0 164.6 L890.9 165.9 L891.0 167.1 L891.1 165.6 L890.9 167.9 L890.9 167.9 L890.8 166.8 L891.0 167.9 L891.2 168.2 L890.8 169.2 L891.0 169.5 L891.0 168.1 L890.9 168.3 L890.9 170.9 L890.8 170.3 L890.8 171.0 L890.9 171.2 L891.0 172.6 L890.9 170.5 L891.0 172.9 L890.9 171.5 L890.8 173.2 L891.1 174.1 L891.0 172.0 L890.8 173.9 L891.1 173.6 L890.9 173.9 L890.9 174.6 L891.1 173.9 L890.6 174.3 L890.7 176.1 L890.9 176.6 L890.8 175.7 L890.7 175.2 L891.0 178.9 L890.9 178.1 L890.7 177.8 L890.7 176.9 L890.9 177.7 L891.0 178.7 L890.6 178.0 L890.8 180.5 L890.7 179.6 L890.6 180.2 L890.8 179.3 L890.6 179.7 L890.7 180.1 L890.9 181.4 L890.8 181.2 L890.8 181.6 L890.8 182.4 L890.8 182.6 L890.8 184.0 L890.6 183.0 L890.7 182.6 L890.8 183.8 L890.6 185.3 L890.6 184.0 L890.8 184.8 L890.8 184.8 L890.6 185.8 L890.6 186.0 L890.7 185.4 L890.7 186.2 L890.5 187.5 L890.7 188.0 L890.7 188.2 L890.6 188.4 L890.9 187.8 L890.7 188.1 L890.7 189.5 L890.7 188.1 L890.9 189.3 L890.6 188.2 L890.4 189.7 L890.5 189.8 L890.5 189.8 L890.4 191.5 L890.5 190.8 L890.5 191.4 L890.4 191.8 L890.3 191.8 L890.5 193.8 L890.2 192.6 L890.4 193.5 L890.3 192.7 L890.3 193.6 L890.0 194.1 L890.4 194.4 L890.0 194.5 L890.0 195.4 L890.2 196.8 L890.0 195.9 L890.0 196.2 L889.7 196.3 L889.9 198.9 L889.9 198.5 L889.9 198.0 L889.8 198.5 L889.8 197.7 L889.8 198.5 L889.6 199.1 L889.6 199.3 L889.9 198.9 L889.5 199.3 L889.7 200.6 L889.5 200.8 L889.7 199.3 L889.4 201.3 L889.5 202.5 L889.4 201.4 L889.3 202.4 L889.4 201.5 L889.2 203.5 L889.2 202.4 L889.2 202.6 L889.3 203.6 L889.1 205.9 L888.9 204.1 L889.0 203.9 L889.0 205.5 L888.9 205.7 L889.1 207.0 L888.9 205.2 L889.0 205.3 L888.7 206.6 L888.7 207.4 L888.9 207.7 L888.5 208.6 L888.7 207.1 L888.6 207.9 L888.5 208.7 L888.6 209.7 L888.4 209.8 L888.5 209.5 L888.3 209.4 L888.3 211.0 L888.5 211.4 L888.2 212.9 L888.0 211.3 L888.4 212.8 L888.1 211.2 L887.8 212.0 L888.1 212.3 L888.2 212.7 L888.1 212.8 L888.2 213.3 L888.0 214.0 L888.0 214.1 L887.8 215.1 L887.9 215.0 L888.0 215.3 L887.8 216.6 L887.8 216.2 L887.5 216.4 L887.6 216.6 L887.5 217.0 L887.7 217.7 L887.5 217.1 L887.6 218.7 L887.4 219.3 L887.7 219.4 L887.3 218.6 L887.4 218.3 L887.6 219.3 L887.3 220.0 L887.1 220.8 L887.3 220.5 L887.3 220.7 L887.2 222.2 L886.9 221.1 L887.1 222.6 L886.8 222.8 L887.2 221.7 L886.9 223.1 L886.8 222.9 L886.9 222.9 L886.9 222.7 L886.6 223.2 L886.9 224.8 L886.7 224.6 L886.5 225.3 L886.8 224.9 L886.8 225.6 L886.7 226.0 L886.6 225.6 L886.4 225.8 L886.6 227.4 L886.6 227.6 L886.5 227.2 L886.5 228.1 L886.2 228.8 L886.4 229.9 L886.3 228.6 L886.0 229.8 L886.0 231.0 L886.0 230.1 L886.1 231.3 L886.1 229.3 L886.0 231.9 L886.0 231.4 L885.9 230.7 L885.9 232.5 L885.9 233.0 L885.9 233.4 L885.8 233.7 L885.8 233.4 L885.7 233.3 L885.8 233.8 L885.6 234.3 L885.8 234.9 L885.6 234.8 L885.6 235.4 L885.4 236.2 L885.4 236.2 L885.4 237.6 L885.4 237.8 L885.3 236.4 L885.2 237.0 L885.3 236.9 L885.3 237.3 L885.3 238.6 L885.3 238.1 L885.1 238.4 L884.9 239.1 L885.0 240.0 L884.8 239.8 L884.8 240.1 L885.1 241.1 L885.0 241.2 L884.8 241.5 L884.8 242.1 L884.8 241.4 L884.6 242.4 L884.8 242.2 L884.7 243.4 L884.9 243.6 L884.5 243.0 L884.7 244.6 L884.5 243.6 L884.7 245.1 L884.4 245.0 L884.5 244.8 L884.4 245.0 L884.3 245.7 L884.3 246.2 L884.4 246.2 L884.3 247.1 L884.4 246.5 L884.3 247.5 L883.9 247.8 L884.1 247.2 L883.9 248.6 L884.0 248.2 L884.1 247.9 L883.9 249.2 L883.8 249.7 L884.0 250.6 L883.9 250.2 L884.1 251.5 L883.9 251.8 L883.9 252.0 L884.0 252.4 L883.7 252.3 L883.7 252.2 L883.6 253.1 L883.7 253.5 L883.7 253.5 L883.7 253.6 L883.5 253.3 L883.4 254.7 L883.4 254.9 L883.3 254.4 L883.4 255.4 L883.5 256.1 L883.1 256.0 L883.0 256.7 L883.4 257.1 L883.1 256.3 L883.3 257.2 L883.0 257.9 L883.2 258.4 L883.2 259.0 L883.1 257.7 L883.1 259.0 L883.0 259.7 L883.1 260.2 L883.2 260.8 L883.0 259.9 L882.8 260.5 L882.8 260.5 L882.8 261.7 L882.8 261.0 L882.8 262.5 L882.6 262.7 L882.8 262.8 L882.7 261.9 L882.7 262.9 L882.6 264.0 L882.6 263.2 L882.4 264.1 L882.7 264.5 L882.5 265.3 L882.5 265.4 L882.5 265.7 L882.5 265.7 L882.4 266.2 L882.3 266.5 L882.3 267.2 L882.0 267.1 L882.2 268.0 L882.1 267.1 L882.1 268.8 L882.4 268.4 L881.9 269.4 L882.1 269.2 L882.2 269.9 L882.1 270.6 L882.1 269.9 L881.8 270.5 L881.8 270.7 L882.0 271.3 L881.8 270.7 L882.0 271.7 L881.8 272.0 L881.8 272.1 L881.8 272.7 L881.7 272.4 L881.7 274.1 L881.6 274.0 L881.6 275.0 L881.6 274.0 L881.6 274.2 L881.4 275.2 L881.4 274.6 L881.6 275.9 L881.5 275.8 L881.4 276.3 L881.4 276.9 L881.3 277.1 L881.7 278.3 L881.2 278.0 L881.6 277.4 L881.2 278.9 L881.4 278.1 L881.3 279.1 L881.2 278.8 L881.4 279.3 L881.3 280.7 L881.2 280.1 L881.1 280.4 L881.4 280.8 L881.3 281.2 L881.2 282.4 L881.1 281.5 L881.2 281.8 L881.1 283.0 L881.2 282.2 L881.0 283.2 L881.1 284.2 L880.9 284.0 L881.2 284.1 L881.2 284.3 L881.0 284.5 L881.0 285.0 L881.1 285.7 L880.9 286.6 L880.8 286.8 L881.0 286.4 L881.0 286.6 L880.9 287.6 L881.1 286.8 L880.9 287.7 L880.6 288.1 L880.9 288.1 L880.8 288.5 L881.0 289.4 L880.8 288.8 L880.8 289.5 L880.8 290.0 L880.8 290.6 L880.6 290.3 L880.8 291.8 L880.7 291.4 L880.9 291.8 L881.0 292.1 L880.6 292.2 L880.6 292.4 L880.6 293.8 L880.6 293.7 L880.6 293.8 L880.7 294.7 L880.8 294.2 L880.5 295.2 L880.5 295.2 L880.4 295.1 L880.8 296.2 L880.8 295.5 L880.5 296.8 L880.4 296.4 L880.7 297.4 L880.8 298.2 L880.8 298.1 L880.7 297.9 L880.7 298.5 L880.7 298.7 L880.6 298.6 L880.8 299.0 L880.6 299.8 L880.5 300.4 L880.6 299.6 L880.4 300.8 L880.6 301.4 L880.7 301.5 L880.5 301.3 L880.7 302.6 L880.9 301.9 L880.7 303.1 L880.5 303.9 L880.5 302.5 L880.6 303.9 L880.5 304.3 L880.5 304.5 L880.6 304.4 L880.6 305.0 L880.7 304.8 L880.5 305.8 L880.9 306.3 L880.8 306.1 L880.7 306.3 L880.6 306.9 L880.9 307.4 L880.6 307.8 L880.9 308.0 L880.8 308.4 L880.6 308.1 L880.6 307.8 L880.9 309.7 L880.8 310.4 L880.7 309.4 L880.7 310.1 L880.7 310.8 L880.6 311.5 L880.7 311.7 L880.6 312.3 L880.7 312.0 L880.8 312.6 L880.6 312.9 L880.8 312.8 L880.8 313.9 L880.9 314.0 L880.9 314.5 L880.9 314.2 L880.9 315.2 L880.9 314.5 L880.8 315.5 L880.9 314.4 L880.7 315.5 L880.8 316.7 L880.9 316.4 L880.9 317.1 L880.9 316.5 L880.8 318.4 L881.1 318.2 L880.9 318.3 L881.0 318.8 L881.0 319.1 L881.1 320.0 L880.9 319.7 L880.9 319.2 L880.8 320.2 L881.0 321.2 L880.9 321.2 L881.2 321.1 L881.3 321.9 L880.9 322.0 L881.0 322.5 L881.2 321.8 L881.4 322.5 L881.3 323.6 L881.3 323.5 L881.4 324.1 L881.4 325.2 L881.6 324.4 L881.5 325.0 L881.3 324.9 L881.4 325.2 L881.5 325.8 L881.4 325.5 L881.5 325.5 L881.6 327.5 L881.6 327.1 L881.8 328.0 L881.7 327.9 L881.7 328.2 L881.8 328.8 L881.9 329.2 L882.2 328.6 L882.0 330.0 L882.2 329.3 L882.2 330.2 L881.9 331.6 L882.3 330.8 L882.2 331.9 L882.2 331.2 L882.3 332.0 L882.7 332.1 L882.4 332.6 L882.5 332.3 L882.8 332.6 L882.9 333.5 L882.6 332.9 L882.9 333.6 L883.0 334.6 L883.1 334.3 L883.3 334.5 L883.2 334.7 L883.3 335.6 L883.6 335.7 L883.3 336.3 L883.6 336.4 L883.8 337.7 L883.7 336.9 L883.9 336.5 L883.9 337.8 L884.2 338.1 L884.3 338.5 L884.6 337.9 L884.7 339.5 L884.7 339.3 L884.8 339.6 L885.0 339.2 L885.2 340.4 L885.2 340.5 L885.6 341.4 L885.6 340.9 L885.9 340.8 L885.8 341.7 L886.3 341.5 L886.6 342.4 L886.6 341.9 L886.6 342.6 L887.0 342.8 L887.2 343.1 L887.5 343.2 L887.7 343.2 L888.0 343.8 L888.1 343.8 L888.5 344.4 L888.6 344.4 L889.0 343.6 L889.4 344.8 L889.5 345.7 L889.9 345.4 L890.0 345.7 L890.3 345.7 L890.6 345.5 L891.1 345.2 L891.2 346.6 L891.7 346.9 L891.7 346.6 L892.1 346.6 L892.6 346.7 L892.9 346.5 L893.0 346.9 L893.3 346.8 L893.8 347.1 L893.9 346.3 L894.4 346.6 L894.6 347.6 L895.0 347.0 L895.6 345.5 L895.8 347.6 L896.0 345.8 L896.1 349.1 L896.6 348.3 L896.9 348.4 L897.2 347.4 L897.7 347.1 L897.6 347.9 L898.2 348.2 L898.5 347.6 L898.7 348.4 L899.3 348.9 L899.3 348.9 L899.8 347.7 L900.1 346.9 L900.2 348.6 L900.6 348.1 L901.0 349.0 L901.5 350.0 L901.9 350.0 L902.1 349.0 L902.4 349.7 L902.5 350.2 L903.1 349.0 L903.3 349.2 L903.8 349.7 L904.2 349.1 L904.6 348.8 L904.8 348.6 L905.1 349.2 M904.9 348.5 L905.3 349.4 L905.8 348.4 L906.1 350.1 L906.4 348.4 L906.7 349.2 L907.1 348.7 L907.3 349.0 L907.4 349.8 L907.7 348.9 L908.0 349.6 L908.7 348.6 L909.0 350.5 L909.3 348.9 L909.7 350.2 L910.0 351.1 L910.2 347.5 L910.5 348.6 L910.8 349.3 L911.5 350.4 L911.8 349.0 L911.8 349.7 L912.3 348.8 L912.7 349.9 L913.2 348.5 L913.3 350.1 L913.7 347.0 L914.1 347.9 L914.1 350.9 L914.6 349.6 L915.0 348.7 L915.2 351.2 L915.9 350.3 L916.1 350.4 L916.4 349.1 L916.5 350.0 L917.1 349.9 L917.4 348.1 L917.6 350.0 L917.9 349.3 L918.1 350.5 L918.7 350.5 L919.1 349.0 L919.5 349.0 L919.7 349.6 L920.1 350.0 L920.3 349.2 L920.6 349.4 L921.1 350.0 L921.4 349.8 L921.6 350.4 L922.1 349.7 L922.4 348.8 L922.7 348.1 L923.0 350.2 L923.3 349.2 L923.7 349.2 L924.2 349.3 L924.3 348.3 L924.6 349.2 L925.0 347.4 L925.2 349.2 L925.7 348.8 L926.0 351.0 L926.4 349.9 L926.7 349.4 L927.1 349.7 L927.6 350.1 L927.6 348.9 L927.9 349.4 L928.4 349.3 L928.6 351.6 L929.0 349.6 L929.2 348.0 L929.7 350.2 L930.0 351.7 L930.0 348.8 L930.6 352.4 L931.0 349.5 L931.5 350.4 L931.6 349.1 L931.9 349.3 L932.5 348.6 L932.6 348.7 L933.0 347.8 L933.4 350.5 L933.7 348.6 L934.0 349.9 L934.2 349.8 L934.8 349.0 L934.9 349.6 L935.3 349.5 L935.9 349.2 L936.1 349.6 L936.2 349.6 L936.6 348.7 L937.0 348.5 L937.2 348.9 L937.4 349.7 L938.1 350.7 L938.4 350.8 L938.7 349.8 L938.9 350.3 L939.3 349.7 L939.7 350.5 L939.8 349.7 L940.3 349.9 L940.6 349.3 L941.1 349.6 L941.3 351.1 L941.5 348.6 L941.9 349.6 L942.5 349.1 L942.5 350.3 L943.0 351.0 L943.2 349.3 L943.8 347.3 L944.0 350.1 L944.3 350.1 L944.5 348.2 L944.9 349.4 L945.4 349.5 L945.7 347.7 L945.8 350.1 L946.5 349.9 L946.6 349.8 L946.8 348.7 L947.3 349.0 L947.6 349.0 L947.9 349.9 L948.2 348.7 L948.6 350.8 L948.9 349.9 L949.1 347.8 L949.7 350.9 L949.9 349.7 L950.5 349.1 L950.7 349.6 L951.0 348.0 L951.3 349.7 L951.8 347.5 L951.9 348.7 L952.2 350.7 L952.7 350.6 L952.6 349.3 L953.3 348.7 L953.7 350.3 L953.9 349.5 L954.5 349.7 L954.7 350.1 L955.0 348.7 L955.3 350.2 L955.8 347.8 L955.9 350.7 L956.2 348.2" fill="none" stroke="#0000ff" stroke-width="5.0" stroke-linejoin="round" stroke-linecap="butt"/>
<path d="M566.0 350.2 L565.8 350.1 L565.3 351.3 L565.0 349.4 L564.7 348.1 L564.3 350.2 L564.0 350.7 L563.4 349.5 L563.2 350.9 L562.9 351.1 L562.8 349.1 L562.4 349.2 L562.1 348.6 L561.8 350.1 L561.3 350.2 L561.2 350.1 L560.8 348.6 L560.3 349.0 L560.2 348.5 L559.6 348.3 L559.3 348.6 L559.0 348.4 L558.8 349.5 L558.4 350.0 L557.8 350.2 L557.7 349.7 L557.4 349.1 L557.4 349.7 L556.9 350.2 L556.4 349.5 L556.0 349.7 L555.8 349.5 L555.3 349.3 L555.1 349.7 L554.8 348.8 L554.4 350.6 L554.1 348.4 L553.7 350.1 L553.4 348.6 L553.3 351.0 L552.9 350.4 L552.4 349.1 L552.0 349.4 L551.8 348.8 L551.5 349.7 L551.2 350.1 L551.0 351.8 L550.5 348.6 L550.0 350.8 L550.1 349.3 L549.6 350.0 L549.2 350.5 L549.0 350.2 L548.3 350.1 L548.1 349.6 L547.8 349.8 L547.6 349.9 L547.0 350.8 L546.8 348.6 L546.7 349.4 L546.3 348.8 L545.8 349.0 L545.7 349.2 L545.0 350.7 L544.9 351.6 L544.5 350.9 L544.3 348.9 L543.8 349.9 L543.4 348.9 L543.2 350.2 L542.7 350.9 L542.6 350.3 L542.2 350.6 L542.0 349.7 L541.5 348.2 L541.1 348.2 L540.9 349.8 L540.7 350.3 L540.0 350.9 L539.9 349.6 L539.6 349.9 L539.1 350.1 L538.8 350.7 L538.7 349.8 L538.1 349.0 L537.8 350.8 L537.8 350.2 L537.1 350.2 L536.8 348.9 L536.3 349.9 L536.1 348.5 L535.8 348.3 L535.8 349.7 L535.4 349.6 L534.8 350.4 L534.8 351.1 L534.4 349.9 L533.9 351.4 L533.7 349.4 L533.3 350.5 L532.9 348.9 L532.4 350.0 L532.2 349.7 L532.0 349.8 L531.6 350.4 L531.2 348.4 L531.1 350.0 L530.5 349.3 L530.4 350.0 L529.9 350.3 L529.7 349.6 L529.2 349.6 L529.0 349.0 L528.6 350.4 L528.1 349.4 L528.0 350.3 L527.7 348.8 L527.4 351.1 L527.0 349.1 L526.6 350.9 L526.3 349.6 L525.7 350.4 L525.6 349.9 L525.5 350.5 L525.2 350.0 L524.8 351.0 L524.4 350.5 L524.1 350.5 L523.8 351.3 L523.2 349.4 L522.9 351.0 L522.9 350.0 L522.5 348.8 L522.1 350.4 L521.7 349.8 L521.3 351.4 L521.0 349.6 L520.6 350.0 L520.2 350.2 L520.1 348.5 L519.7 350.4 L519.4 349.2 L519.3 351.1 L518.8 351.4 L518.3 350.0 L518.2 348.7 L517.6 350.2 L517.6 350.2 L517.1 350.6 L516.7 349.8 L516.5 349.0 L516.3 349.9 L515.7 349.3 L515.3 351.5 L515.4 349.4 L514.8 349.5 L514.6 350.0 L514.0 349.0 L513.8 349.7 L513.4 349.9 L513.2 349.6 L512.8 349.8 L512.4 351.0 L512.3 350.4 L511.9 348.9 L511.2 349.7 L511.1 350.6 L510.7 349.5 L510.3 350.1 L510.1 350.0 L509.8 350.5 L509.5 349.9 L509.1 349.9 L508.6 349.3 L508.4 350.3 L508.3 349.3 L507.7 351.4 L507.6 350.0 L507.2 349.8 L506.8 350.7 L506.6 350.0 L506.1 350.1 L505.8 350.0 L505.4 349.4 L505.3 349.3 L505.0 349.5 L504.5 350.9 L504.4 349.5 L503.6 349.7 L503.4 349.7 L503.1 350.6 L503.1 351.6 L502.5 349.3 L502.3 350.5 L501.7 350.1 L501.6 349.8 L501.3 350.4 L500.9 349.0 L500.3 350.7 L500.3 350.2 L500.0 349.2 L499.7 351.3 L499.3 350.7 L498.7 351.0 L498.6 348.8 L498.4 349.8 L497.8 349.6 L497.7 350.5 L497.2 351.1 L497.0 348.5 L496.7 350.0 L496.2 349.9 L496.3 350.8 L495.6 350.0 L495.3 349.0 L494.9 349.9 L494.6 349.2 L494.3 349.4 L493.8 350.1 L493.5 349.6 L493.3 350.3 L493.0 348.8 L492.3 351.9 L492.1 351.0 L491.9 350.6 L491.6 349.0 L491.4 348.3 L490.8 349.3 L490.7 349.8 L490.3 351.8 L489.9 351.1 L489.7 349.6 L489.5 351.0 L489.1 351.0 L488.8 350.0 L488.3 351.0 L488.0 350.3 L487.5 349.5 L487.3 349.1 L487.0 349.9 L486.6 350.8 L486.5 348.9 L486.1 348.7 L485.8 350.5 L485.4 347.8 L485.2 351.5 L484.7 349.7 L484.5 350.6 L484.1 351.5 L483.8 348.8 L483.4 349.2 L482.9 351.8 L482.6 349.8 L482.6 349.9 L482.1 350.2 L481.8 350.9 L481.4 351.1 L481.0 350.1 L481.1 349.7 L480.3 350.0 L480.1 350.3 L479.8 351.1 L479.3 350.1 L478.9 351.5 L478.7 349.3 L478.4 350.4 L478.0 351.4 L477.9 351.1 L477.3 350.3 L477.2 349.3 L477.0 349.4 L476.6 349.9 L476.0 350.3 L475.4 349.8 L475.6 348.8 L475.2 349.4 L474.7 350.4 L474.6 350.7 L474.1 348.9 L473.8 349.7 L473.4 348.7 L473.2 349.6 L472.8 352.9 L472.4 350.1 L472.3 349.7 L471.9 349.5 L471.3 349.0 L471.2 348.5 L470.9 350.0 L470.4 349.8 L470.1 351.2 L469.9 348.7 L469.5 350.4 L469.2 351.1 L468.9 348.4 L468.5 350.5 L468.4 348.7 L467.8 350.4 L467.5 351.2 L467.4 350.0 L467.2 350.2 L466.5 349.4 L466.2 350.2 L465.8 350.9 L465.7 349.9 L465.2 349.9 L464.8 350.3 L464.6 350.7 L464.4 348.7 L464.0 350.0 L463.8 349.4 L463.4 350.4 L463.0 350.8 L462.6 350.3 L462.3 351.0 L462.1 349.2 L461.7 349.7 L461.4 349.2 L460.9 350.0 L460.7 350.1 L460.4 349.8 L459.9 349.0 L459.4 349.9 L459.5 349.6 L459.0 350.5 L458.6 349.8 L458.3 350.9 L457.9 350.2 L457.4 348.5 L457.3 349.9 L456.8 348.8 L456.7 350.8 L456.3 351.2 L456.1 350.0 L455.6 350.4 L455.4 348.8 L454.9 348.2 L454.6 349.6 L454.1 349.8 L454.1 348.8 L453.7 350.1 L453.3 350.3 L453.0 350.5 L452.6 351.3 L452.2 350.7 L452.0 349.7 L451.8 350.1 L451.3 350.5 L450.8 349.2 L450.6 351.1 L450.6 350.7 L449.9 349.8 L449.8 349.5 L449.3 353.1 L449.1 350.7 L448.7 350.8 L448.2 351.5 L448.0 350.8 L448.0 350.2 L447.4 350.6 L447.1 349.3 L446.7 350.6 L446.4 348.8 L446.1 350.3 L445.8 350.5 L445.7 348.7 L445.1 351.6 L444.7 349.1 L444.3 350.9 L443.9 349.6 L443.5 350.3 L443.5 349.5 L442.9 352.0 L442.9 350.8 L442.5 351.5 L442.1 350.6 L441.6 350.6 L441.4 350.1 L441.1 349.8 L440.9 350.5 L440.3 350.1 L440.1 349.9 L439.8 348.9 L439.4 349.8 L439.0 350.5 L438.6 349.6 L438.3 350.3 L438.0 349.9 L437.8 349.2 L437.6 349.3 L437.4 349.4 L437.0 349.8 L436.5 349.8 L436.4 350.9 L435.8 349.1 L435.4 348.4 L435.4 350.6 L434.7 349.6 L434.4 349.9 L434.1 352.1 L434.0 351.2 L433.4 350.5 L433.3 350.8 L432.8 350.1 L432.4 350.8 L432.2 349.5 L431.9 349.4 L431.4 349.6 L431.1 351.3 L430.8 351.3 L430.6 349.5 L430.2 351.0 L429.9 349.9 L429.6 350.9 L429.1 349.8 L428.9 350.8 L428.5 349.9 L428.1 349.8 L427.8 350.0 L427.6 350.2 L427.2 349.6 L427.0 348.9 L426.4 351.4 L426.2 349.7 L425.9 348.5 L425.5 348.2 L425.3 347.7 L424.9 349.5 L424.4 351.1 L424.4 348.7 L423.7 349.8 L423.7 348.5 L423.2 350.9 L422.8 350.3 L422.5 350.3 L422.2 351.1 L421.8 351.4 L421.6 350.9 L421.0 349.6 L421.1 349.0 L420.7 349.2 L420.4 348.6 L419.8 351.5 L419.3 349.9 L419.2 350.1 L418.9 350.2 L418.7 351.7 L418.2 349.6 L418.0 351.0 L417.7 350.3 L417.1 349.9 L417.2 348.5 L416.5 350.8 L416.3 349.4 L416.1 349.7 L415.6 350.2 L415.3 350.1 L415.2 350.9 L414.6 349.5 L414.5 350.2 L414.0 350.3 L413.7 350.1 L413.4 350.6 L413.0 349.8 L412.7 351.0 L412.5 349.5 L412.1 348.9 L411.7 350.0 L411.2 351.0 L411.0 349.6 L410.8 349.5 L410.5 349.8 L410.1 350.2 L409.6 349.9 L409.3 350.3 L409.1 348.6 L408.9 351.3 L408.4 350.5 L408.2 349.3 L407.7 351.2 L407.5 350.4 L406.9 351.2 L406.8 349.1 L406.3 351.4 L406.2 350.1 L405.8 348.4 L405.3 350.6 L405.0 349.8 L404.7 349.2 L404.2 349.9 L404.0 348.5 L403.7 350.5 L403.5 349.9 L403.3 349.8 L402.7 351.2 L402.4 350.1 L402.1 349.5 L401.7 349.3 L401.4 350.0 L401.2 350.9 L400.8 349.6 L400.4 349.2 L400.1 350.8 L400.0 350.1 L399.4 350.0 L399.1 351.7 L398.7 349.0 L398.4 350.2 L398.2 348.6 L397.8 349.8 L397.5 350.5 L397.2 351.0 L396.7 349.0 L396.2 350.7 L396.3 350.7 L395.8 349.9 L395.7 352.0 L395.2 350.0 L394.7 349.3 L394.6 350.4 L394.1 348.5 L393.8 351.3 L393.4 350.8 L393.3 349.7 L393.0 350.5 L392.5 350.5 L392.4 351.6 L391.8 349.5 L391.6 349.0 L391.0 348.4 L390.6 349.8 L390.8 348.8 L390.4 349.9 L390.0 350.4 L389.3 349.7 L389.2 349.3 L388.9 351.0 L388.6 349.9 L388.3 350.2 L387.8 350.8 L387.5 349.0 L387.1 349.3 L386.9 352.1 L386.6 349.9 L386.2 349.2 L385.9 349.8 L385.5 349.6 L385.3 349.0 L385.0 349.7 L384.6 350.0 L384.3 350.0 L383.8 350.5 L383.6 348.6 L383.4 348.8 L382.8 350.7 L382.6 349.7 L382.2 351.0 L382.1 350.3 L381.6 348.9 L381.2 350.5 L381.0 349.2 L380.8 350.2 L380.4 351.0 L380.1 351.8 L379.7 350.0 L379.3 350.6 L378.9 350.3 L378.6 350.7 L378.2 347.9 L378.0 349.7 L377.6 350.3 L377.3 350.4 L377.1 349.4 L376.7 350.7 L376.2 350.9 L375.9 350.1 L375.5 349.8 L375.1 349.7 L375.0 350.1 L374.5 351.0 L374.2 351.2 L373.9 349.6 L373.8 349.3 L373.3 349.4 L373.1 350.8 L372.7 350.2 L372.3 350.3 L372.1 350.4 L371.8 350.3 L371.4 349.9 L370.9 349.2 L370.7 349.5 L370.2 350.1 L370.0 350.3 L369.7 349.7 L369.6 349.7 L369.2 351.1 L368.8 349.6 L368.5 350.2 L368.1 349.8 L368.1 349.3 L367.6 348.8 L367.4 349.6 L366.8 349.4 L366.5 350.7 L366.2 349.1 L365.8 349.7 L365.5 350.6 L365.0 349.9 L364.9 350.4 L364.5 350.7 L364.2 348.7 L363.7 349.7 L363.2 349.2 L363.2 351.1 L362.9 349.9 L362.3 350.4 L362.0 351.4 L361.8 349.7 L361.4 350.1 L360.9 350.4 L361.0 349.8 L360.6 351.0 L360.1 350.7 L359.6 350.8 L359.5 350.1 L359.4 349.7 L358.9 349.7 L358.6 349.7 L358.0 348.7 L357.9 350.3 L357.3 350.7 L357.4 350.0 L356.9 349.6 L356.3 350.1 L356.0 350.2 L355.9 350.3 L355.5 351.5 L355.1 349.3 L354.9 350.3 L354.8 350.6 L354.2 350.1 L353.6 349.8 L353.5 349.2 L353.0 349.5 L352.8 350.6 L352.6 351.2 L352.2 349.5 L351.8 350.4 L351.5 350.4 L351.1 350.8 L351.0 350.2 L350.5 350.4 L350.3 350.7 L349.9 349.1 L349.7 350.1 L349.2 348.6 L348.9 348.4 L348.5 349.4 L348.3 348.8 L347.7 350.4 L347.9 350.8 L347.2 349.8 L346.9 349.9 L346.5 349.8 L346.2 349.8 L346.0 350.1 L345.5 350.3 L345.2 349.7 L344.8 349.4 L344.5 349.6 L344.1 350.7 L344.2 349.7 L343.5 351.2 L343.2 349.8 L343.0 351.1 L342.8 349.1 L342.1 349.5 L341.8 350.4 L341.6 350.4 L341.3 349.9 L340.8 351.7 L340.4 350.1 L340.2 350.3 L340.1 349.6 L339.6 351.4 L339.4 350.7 L339.0 350.4 L338.7 348.7 L338.4 350.3 L338.0 349.7 L337.7 350.3 L337.2 350.8 L336.9 349.4 L336.7 350.2 L336.3 350.7 L335.9 350.2 L335.8 349.8 L335.4 349.2 L335.0 349.5 L334.6 349.0 L334.5 350.8 L334.3 350.1 L333.6 349.1 L333.2 350.0 L332.9 349.0 L332.6 347.4 L332.2 351.0 L331.9 351.0 L331.8 348.9 L331.5 349.5 L331.2 350.2 L330.8 349.7 L330.3 349.4 L330.2 349.6 L329.7 349.8 L329.4 349.6 L328.9 350.2 L328.9 349.9 L328.5 349.4 L328.0 350.1 L327.7 348.7 L327.4 351.2 L327.1 348.7 L326.9 350.0 L326.4 350.3 L326.1 350.4 L325.6 350.3 L325.4 351.1 L324.9 349.2 L325.0 350.0 L324.6 350.2 L324.2 349.7 L323.9 349.6 L323.7 351.1 L323.2 349.5 L322.6 349.7 L322.4 349.8 L321.9 349.9 L321.7 350.2 L321.3 349.9 L321.1 350.4 L320.9 350.2 L320.4 350.4 L320.1 351.1 L319.9 349.4 L319.5 351.4 L319.1 349.7 L318.5 350.6 L318.4 350.2 L318.3 349.8 L317.9 348.5 L317.3 351.3 L317.1 349.5 L316.9 349.4 L316.4 350.9 L316.3 350.1 L315.8 351.6 L315.5 351.4 L315.2 350.6 L315.1 350.3 L314.5 350.7 L314.1 349.0 L314.0 350.2 L313.5 350.2 L313.2 349.7 L312.6 350.3 L312.6 348.9 L312.2 350.8 L311.7 351.1 L311.7 349.1 L311.2 350.2 L310.9 351.3 L310.4 350.4 L310.0 349.3 L309.8 349.3 L309.4 350.8 L309.3 351.5 L309.0 349.2 L308.5 350.1 L308.1 349.5 L307.9 349.9 L307.5 350.3 L307.3 350.1 L307.0 349.6 L306.6 351.8 L306.3 350.0 L306.1 350.0 L305.8 351.0 L305.2 350.1 L305.0 349.9 L304.6 350.8 L304.2 349.3 L304.1 350.7 L303.7 350.9 L303.3 350.6 L303.0 350.0 L302.6 350.1 L302.2 348.8 L302.2 350.0 L301.8 350.3 L301.3 350.8 L301.1 350.2 L300.8 349.8 L300.3 349.5 L300.1 350.1 M300.1 349.6 L299.8 350.9 L299.5 349.8 L299.1 353.1 L298.8 349.7 L298.3 350.7 L298.0 350.7 L297.7 349.7 L297.2 351.3 L296.9 350.0 L296.7 349.7 L296.2 350.2 L296.0 349.3 L295.5 351.7 L295.4 351.0 L295.0 351.4 L294.7 348.6 L294.3 350.6 L294.0 349.3 L293.5 350.4 L293.3 351.8 L293.1 350.6 L292.9 350.1 L292.3 351.7 L292.1 351.6 L291.9 352.6 L291.6 348.0 L291.0 350.7 L290.9 349.8 L290.6 349.3 L290.2 350.5 L289.7 349.0 L289.3 347.6 L289.2 349.3 L289.0 350.1 L288.4 352.7 L288.3 349.6 L288.0 349.0 L287.3 348.0 L287.1 350.1 L287.0 350.2 L286.6 350.7 L286.2 348.8 L285.8 349.6 L285.5 347.8 L285.1 350.8 L285.1 348.7 L284.4 347.2 L283.9 352.1 L283.8 351.3 L283.7 351.1 L283.1 351.1 L282.8 349.4 L282.4 352.1 L282.2 349.5 L281.7 353.1 L281.4 351.1 L281.0 348.6 L280.8 351.9 L280.7 353.3 L280.2 350.6 L279.9 352.3 L279.8 350.8 L279.1 350.3 L278.8 347.9 L278.6 352.7 L278.1 350.6 L277.9 351.7 L277.7 349.9 L277.1 350.2 L276.9 352.8 L276.8 351.0 L276.2 351.1 L275.9 350.1 L275.7 352.0 L275.3 352.7 L274.9 351.3 L274.9 351.7 L274.3 350.5 L274.1 353.9 L273.7 351.5 L273.4 352.1 L272.9 354.5 L272.9 352.2 L272.4 350.7 L272.3 351.6 L271.7 352.3 L271.5 355.1 L271.3 353.2 L270.9 352.8 L270.5 354.1 L270.2 354.8 L269.8 352.3 L269.6 355.1 L269.0 354.5 L269.0 354.0 L268.8 350.6 L268.4 353.9 L268.1 355.4 L267.6 353.4 L267.4 356.7 L267.0 354.0 L266.7 352.7 L266.3 354.7 L265.6 354.4 L265.8 355.2 L265.4 353.9 L265.2 355.9 L264.6 353.6 L264.5 354.5 L264.1 352.9 L263.5 353.5 L263.2 354.8 L263.1 353.8 L262.7 354.1 L262.5 354.5 L262.1 355.1 L262.0 355.8 L261.3 355.9 L261.0 356.3 L260.7 355.4 L260.4 354.5 L260.1 353.3 L259.9 354.9 L259.4 354.4 L259.3 353.2 L259.1 357.6 L258.7 353.3 L258.5 356.1 L258.1 356.5 L257.6 355.5 L257.5 359.1 L257.1 356.0 L256.9 355.1 L256.3 358.3 L255.8 355.2 L255.6 354.5 L255.4 355.1 L255.1 355.6 L254.7 356.6 L254.5 357.0 L254.0 354.8 L253.7 357.2 L253.6 359.6 L253.1 356.0 L252.8 356.9 L252.7 358.0 L252.3 358.7 L251.8 356.4 L251.6 356.2 L251.0 356.2 L250.9 358.9 L250.6 358.8 L250.1 355.0 L250.1 355.1 L249.9 356.4 L249.4 356.1 L249.1 358.6 L248.9 358.5 L248.4 360.7 L248.2 359.4 L247.8 358.6 L247.2 360.1 L247.0 357.6 L246.7 357.0 L246.6 358.9 L246.2 360.2 L246.0 357.1 L245.5 360.3 L245.1 360.4 L245.2 358.8 L244.9 359.7 L244.3 359.3 L244.0 359.8 L243.8 360.9 L243.2 359.0 L243.0 361.4 L242.6 361.3 L242.5 361.4 L242.1 358.0 L241.8 358.2 L241.4 361.5 L241.0 360.1 L240.8 360.0 L240.7 360.1 L240.2 359.5 L240.1 360.9 L239.6 360.5 L239.4 360.7 L239.0 362.3 L238.7 360.3 L238.5 363.4 L237.9 359.3 L237.9 365.4 L237.6 360.7 L237.3 363.2 L237.0 363.8 L236.6 362.8 L236.5 363.9 L236.1 362.9 L235.7 361.0 L235.5 363.8 L235.3 365.0 L234.9 363.0 L234.6 361.7 L234.3 363.2 L234.0 364.5 L233.7 364.6 L233.2 365.8 L233.1 365.3 L232.9 365.4 L232.5 362.4 L232.1 367.8 L232.1 365.2 L231.7 366.4 L231.4 365.0 L231.1 365.4 L230.9 365.9 L230.5 367.9 L230.1 368.0 L230.1 367.0 L229.6 368.9 L229.2 366.0 L229.0 367.3 L228.8 366.2 L228.2 368.6 L228.3 367.2 L227.8 368.5 L227.8 369.6 L227.3 364.9 L226.9 370.4 L226.8 368.2 L226.5 367.6 L226.0 365.7 L225.8 367.9 L225.4 365.5 L225.3 368.7 L224.7 368.5 L224.5 371.2 L224.0 368.6 L224.0 370.5 L223.4 370.8 L223.3 372.1 L223.1 369.3 L222.8 370.7 L222.5 368.0 L222.1 368.7 L221.9 369.9 L221.4 370.4 L221.4 369.0 L221.2 370.2 L220.9 371.8 L220.5 370.5 L220.3 371.0 L220.0 370.3 L219.7 373.3 L219.4 374.0 L219.1 372.2 L218.7 371.9 L218.2 374.3 L218.3 373.0 L217.9 371.7 L217.9 371.0 L217.1 372.2 L217.2 375.9 L216.7 372.5 L216.5 377.1 L216.1 373.6 L216.0 373.5 L215.7 375.6 L215.5 373.8 L215.1 374.8 L214.9 373.2 L214.7 373.1 L214.3 373.9 L214.0 375.3 L213.9 374.4 L213.4 372.9 L213.2 376.2 L212.9 375.5 L212.6 375.6 L212.0 375.4 L212.2 373.5 L211.7 378.5 L211.6 376.1 L211.5 377.6 L210.9 378.9 L210.9 378.7 L210.5 377.8 L210.3 377.7 L209.8 378.3 L209.7 379.2 L209.5 379.0 L209.4 377.9 L209.2 379.3 L208.7 379.4 L208.4 380.0 L208.4 379.6 L207.9 381.3 L207.6 380.0 L207.4 381.1 L207.2 380.2 L206.9 379.6 L206.5 379.4 L206.3 380.6 L206.3 381.7 L206.0 382.8 L205.7 381.3 L205.4 381.0 L205.1 381.2 L205.0 383.7 L204.6 382.4 L204.4 381.9 L204.1 383.7 L203.8 381.3 L203.6 383.3 L203.4 383.4 L203.1 383.5 L202.9 382.4 L202.7 385.3 L202.4 386.5 L202.1 382.9 L202.0 385.0 L201.8 385.9 L201.6 388.1 L201.3 385.0 L201.0 384.6 L200.8 386.0 L200.8 388.8 L200.5 386.6 L200.1 387.1 L199.9 389.2 L199.7 384.5 L199.5 384.7 L199.1 388.9 L199.1 389.0 L198.7 386.5 L198.6 389.1 L198.6 388.8 L198.4 389.3 L197.9 388.2 L197.7 389.0 L197.5 388.7 L197.2 390.1 L197.1 390.0 L197.0 392.7 L196.7 391.6 L196.7 389.1 L196.4 391.9 L196.2 393.4 L196.3 392.3 L196.0 393.5 L195.7 392.4 L195.7 393.6 L195.4 391.8 L195.0 394.2 L194.9 391.8 L194.7 395.4 L194.4 392.1 L194.6 391.7 L194.3 395.3 L193.8 394.6 L193.8 395.3 L193.4 395.9 L193.5 395.6 L193.2 394.8 L193.0 396.5 L193.0 396.9 L192.6 397.4 L192.4 399.5 L192.4 396.4 L192.0 397.7 L192.0 398.5 L191.7 397.5 L191.6 396.9 L191.4 397.9 L191.2 400.3 L190.8 398.8 L190.9 400.2 L190.5 398.8 L190.5 400.5 L190.1 399.4 L189.9 399.4 L189.7 400.9 L189.7 401.1 L189.3 403.2 L189.2 399.5 L188.7 402.5 L188.7 404.1 L188.6 404.1 L188.3 402.1 L187.9 402.0 L188.0 402.5 L187.6 403.8 L187.7 403.9 L187.3 404.4 L187.4 404.9 L187.0 403.1 L186.8 403.3 L186.5 403.4 L186.3 403.5 L186.2 405.4 L185.7 406.2 L185.8 409.2 L185.4 407.0 L185.3 406.6 L184.8 408.6 L185.0 406.1 L184.8 407.8 L184.5 408.8 L184.3 408.8 L184.1 408.6 L183.9 407.9 L183.8 407.1 L183.5 408.7 L183.4 408.4 L183.2 410.3 L182.9 409.5 L182.7 410.7 L182.5 408.2 L182.2 411.7 L182.4 409.7 L181.9 409.0 L181.9 409.5 L181.6 410.7 L181.1 413.2 L181.1 413.0 L181.0 410.8 L180.8 412.7 L180.4 412.7 L180.4 411.2 L180.0 412.1 L179.8 411.1 L179.7 412.8 L179.6 410.9 L179.6 413.5 L179.2 413.6 L179.1 414.0 L178.7 414.3 L178.5 417.0 L178.4 415.4 L178.5 416.4 L177.9 417.4 L177.7 417.8 L177.7 417.8 L177.7 416.5 L177.2 416.1 L177.2 416.8 L176.9 417.5 L177.0 418.4 L176.8 418.5 L176.6 420.3 L176.4 419.1 L176.2 421.8 L176.0 421.1 L175.8 419.5 L175.6 421.4 L175.4 417.0 L175.4 422.7 L175.1 421.7 L175.1 422.0 L174.6 419.6 L174.7 425.2 L174.6 422.0 L174.5 422.4 L174.1 424.3 L173.8 422.9 L173.7 422.4 L173.8 424.6 L173.4 422.8 L173.3 425.3 L173.1 424.8 L173.0 426.3 L172.8 423.6 L172.5 427.0 L172.4 426.1 L172.4 428.5 L172.3 425.5 L172.0 428.9 L171.7 427.8 L171.8 428.2 L171.5 426.5 L171.2 428.4 L171.1 428.9 L171.1 427.3 L171.0 427.1 L170.6 427.9 L170.5 431.0 L170.3 429.6 L170.3 430.9 L170.0 430.4 L169.9 430.5 L169.5 430.9 L169.5 430.4 L169.3 432.7 L168.8 431.7 L169.1 432.0 L168.9 430.3 L168.7 432.7 L168.5 431.8 L168.4 432.3 L168.3 434.5 L167.9 432.1 L167.9 433.5 L167.8 434.9 L167.6 435.8 L167.3 434.0 L167.3 435.4 L167.0 435.6 L167.0 434.1 L167.0 433.1 L166.8 433.7 L166.4 437.1 L166.3 436.8 L166.1 435.3 L166.0 436.4 L165.8 437.0 L165.6 437.4 L165.2 438.1 L165.2 441.2 L165.1 437.7 L164.9 439.1 L164.9 438.3 L164.5 438.7 L164.3 438.7 L164.3 439.8 L164.0 439.6 L163.9 441.0 L163.7 441.1 L163.5 440.0 L163.2 443.8 L163.2 440.2 L163.1 442.4 L162.6 445.0 L162.5 441.6 L162.5 444.4 L162.1 444.8 L161.8 443.7 L161.7 441.2 L161.6 445.6 L161.2 444.2 L161.2 443.6 L161.0 446.2 L160.7 443.9 L160.6 446.5 L160.4 444.7 L160.2 446.3 L160.0 444.5 L159.5 445.7 L159.6 445.3 L159.4 445.8 L159.2 447.2 L158.8 447.0 L158.8 447.7 L158.5 449.3 L158.2 447.8 L158.2 445.9 L157.8 448.1 L157.6 448.8 L157.5 450.3 L157.2 450.6 L157.1 450.7 L156.8 449.5 L156.7 450.8 L156.5 448.5 L156.2 452.2 L156.1 451.4 L155.9 451.7 L155.5 450.9 L155.5 451.7 L155.3 451.0 L155.0 452.8 L154.9 450.7 L154.8 453.9 L154.5 453.6 L154.0 455.7 L154.0 453.4 L153.8 453.5 L153.5 454.2 L153.4 454.2 L153.1 454.3 L153.1 453.3 L152.8 453.6 L152.5 454.5 L152.4 455.1 L152.2 454.2 L152.0 454.5 L151.8 455.9 L151.5 457.4 L151.3 456.5 L150.8 457.9 L150.7 458.5 L150.8 458.5 L150.4 457.2 L150.5 457.5 L150.3 456.0 L149.7 457.7 L149.7 459.4 L149.8 457.7 L149.1 461.0 L149.1 461.4 L148.8 459.4 L148.6 461.3 L148.4 458.6 L148.2 459.3 L148.1 460.4 L147.7 461.2 L147.7 461.2 L147.3 460.6 L147.3 464.4 L147.1 462.6 L146.7 462.9 L146.7 463.6 L146.4 463.2 L146.2 463.0 L146.2 462.9 L145.7 461.8 L145.8 466.0 L145.6 463.3 L145.3 462.6 L145.3 464.0 L145.1 463.2 L144.7 468.0 L144.8 466.3 L144.7 467.9 L144.5 468.3 L144.6 467.5 L144.6 467.9 L144.5 466.6 L144.5 467.7 L144.8 467.3 L144.7 468.5 L144.7 467.9 L145.0 470.6 L145.0 470.3 L145.4 469.5 L145.8 467.8 L145.4 471.0 L146.0 471.5 L146.1 470.6 L146.4 469.3 L146.5 471.7 L146.9 472.7 L147.1 469.2 L147.3 472.5 L147.5 469.7 L147.9 472.2 L148.4 474.5 L148.4 472.6 L148.9 473.2 L149.2 472.3 L149.2 472.8 L149.9 475.9 L150.1 474.8 L150.6 472.8 L150.9 472.8 L151.0 473.4 L151.3 476.2 L151.5 473.8 L151.8 475.0 L152.4 473.3 L152.6 472.2 L152.9 475.6 L153.2 473.9 L153.6 473.1 L154.0 473.3 L154.2 473.4 L154.5 473.5 L154.9 472.4 L155.4 475.9 L155.2 475.0 L155.7 475.8 L156.2 474.2 L156.5 475.1 L156.9 474.9 L157.3 476.2 L157.7 475.8 L157.7 475.3 L158.2 474.1 L158.4 473.4 L158.9 474.0 L159.1 474.2 L159.5 474.4 L159.7 473.5 L160.1 477.2 L160.3 475.4 L160.7 472.6 L161.0 473.7 L161.3 473.4 L161.9 475.4 L162.1 476.4 L162.5 473.8 L162.6 475.8 L162.8 474.7 L163.3 476.5 L163.7 476.7 L164.1 475.4 L164.5 475.8 L164.8 474.9 L165.2 474.4 L165.4 473.4 L165.7 475.2 L165.9 474.6 L166.4 474.2 L166.6 474.5 L166.9 474.4 L167.4 473.2 L167.7 473.8 L168.1 475.9 L168.2 474.1 L168.7 476.1 L169.0 472.8 L169.2 472.5 L169.5 474.3 L169.8 475.1 L170.1 473.3 L170.7 474.8 L170.7 475.1 L171.3 475.3 L171.5 473.7 L171.8 473.8 L172.1 471.7 L172.5 473.7 L173.0 474.0 L173.2 475.4 L173.5 471.9 L173.7 472.4 L173.9 472.2 L174.7 474.5 L174.7 470.1 L174.9 471.9 L175.6 475.7 L175.6 473.9 L176.2 471.4 L176.5 472.9 L176.8 473.9 L177.2 473.5 L177.2 472.5 L177.6 471.7 L178.0 473.6 L178.3 472.5 L178.7 473.5 L179.0 472.9 L179.2 471.7 L179.4 474.0 L180.0 471.5 L180.2 472.6 L180.7 471.2 L181.2 471.6 L181.2 471.5 L181.6 470.9 L181.8 471.9 L182.3 473.2 L182.5 473.8 L182.8 473.1 L183.2 471.0 L183.3 473.0 L183.8 471.6 L184.1 473.2 L184.6 469.3 L184.5 472.6 L185.0 469.9 L185.6 472.0 L185.6 469.9 L185.9 471.5 L186.5 469.9 L186.9 467.8 L186.9 468.9 L187.2 469.7 L187.5 469.9 L187.8 467.0 L188.1 468.2 L188.4 468.7 L188.8 469.2 L189.1 469.7 L189.5 468.3 L189.8 467.3 L189.9 469.5 L190.5 468.6 L190.8 470.1 L191.0 468.2 L191.3 469.6 L191.7 467.6 L192.0 469.0 L192.3 468.7 L192.7 469.1 L193.1 467.3 L193.3 468.2 L193.6 467.2 L193.8 468.0 L194.2 468.9 L194.6 471.8 L195.0 468.0 L195.2 468.8 L195.5 468.0 L195.8 469.2 L196.2 468.2 L196.4 468.9 L196.8 467.9 L197.1 470.4 L197.4 469.0 L197.8 465.1 L198.1 467.5 L198.5 467.1 L198.7 464.2 L199.1 465.7 L199.5 466.1 L199.7 465.7 L200.1 466.7 L200.2 464.2 L200.6 467.2 L200.7 467.1 L201.2 466.5 L201.4 465.6 L201.9 465.9 L201.9 465.2 L202.4 467.1 L202.8 466.2 L203.1 467.9 L203.2 464.9 L203.7 467.0 L204.3 464.4 L204.4 464.8 L204.7 463.6 L204.6 465.4 L205.2 464.6 L205.6 465.3 L205.9 466.2 L206.2 464.2 L206.6 464.6 L206.8 465.2 L207.2 463.9 L207.2 463.2 L208.0 464.2 L208.0 464.2 L208.3 464.4 L208.8 464.4 L209.1 462.4 L209.4 463.7 L209.5 464.5 L209.9 462.3 L210.3 463.2 L210.4 461.9 L210.8 462.8 L211.1 464.6 L211.4 462.5 L211.7 461.0 L211.9 462.5 L212.4 462.2 L212.7 463.2 L213.1 460.0 L213.3 460.5 L213.5 461.4 L213.7 459.4 L214.2 462.6 L214.5 458.6 L215.1 460.0 L215.4 459.0 L215.6 459.9 L215.6 461.6 L215.9 461.3 L216.3 461.5 L216.6 461.0 L217.1 457.6 L217.3 460.4 L217.5 457.6 L217.9 459.1 L218.4 459.2 L218.4 458.8 L218.9 460.0 L219.0 458.3 L219.4 461.3 L219.7 459.8 L220.1 460.4 L220.4 459.7 L220.8 459.7 L221.0 458.5 L221.2 460.8 L221.4 457.0 L221.8 458.7 L222.1 458.0 L222.5 457.6 L222.7 458.1 L223.2 456.7 L223.5 458.6 L223.7 458.3 L223.9 457.4 L224.3 458.0 L224.6 455.7 L224.9 454.6 L225.0 456.0 L225.5 456.3 L225.6 459.5 L226.1 456.0 L226.5 457.5 L226.6 457.1 L227.1 458.5 L227.3 455.9 L227.6 456.5 L228.2 455.3 L228.3 454.3 L228.6 454.0 L228.8 454.2 L229.2 456.8 L229.4 455.2 L229.8 454.5 L229.9 454.6 L230.3 453.8 L230.6 454.3 L230.8 454.1 L231.5 454.9 L231.7 455.0 L231.8 451.8 L232.0 453.9 L232.4 455.2 L232.7 452.1 L233.0 452.9 L233.2 453.3 L233.6 454.3 L234.0 453.6 L234.3 452.4 L234.3 453.2 L234.9 453.7 L235.0 452.7 L235.3 454.4 L235.7 452.5 L236.0 450.5 L236.4 450.7 L236.7 451.4 L236.9 451.2 L237.2 452.0 L237.8 451.6 L238.1 453.1 L238.2 451.9 L238.4 452.5 L238.9 449.6 L239.2 449.9 L239.3 451.1 L239.9 450.3 L239.9 450.8 L240.4 450.2 L240.5 448.9 L240.8 451.7 L241.1 450.8 L241.4 447.4 L241.8 448.4 L241.9 449.0 L242.3 449.7 L242.7 448.6 L242.8 446.9 L243.4 449.4 L243.3 448.0 L244.1 449.6 L244.0 448.3 L244.5 449.0 L244.9 448.7 L245.0 448.6 L245.1 446.7 L245.5 448.5 L245.9 447.3 L246.2 445.4 L246.5 446.3 L246.9 446.2 L247.2 447.0 L247.2 447.1 L247.7 444.8 L247.7 446.9 L248.2 445.8 L248.4 444.4 L248.6 446.6 L249.2 444.4 L249.4 443.8 L249.8 446.0 L249.8 446.0 L250.1 444.0 L250.5 445.9 L250.7 445.7 L251.1 443.7 L251.3 446.6 L251.7 443.9 L251.9 444.1 L252.4 440.7 L252.5 444.3 L252.7 442.6 L253.2 443.8 L253.5 441.0 L253.8 444.3 L254.1 444.5 L254.3 444.9 L254.6 438.8 L254.6 443.0 L255.0 442.5 L255.3 438.3 L255.8 440.9 L256.2 441.6 L256.3 443.2 L256.6 440.3 L257.1 441.4 L257.2 441.0 L257.6 441.3 L257.9 440.2 L257.9 441.7 L258.4 441.6 L258.7 438.6 L258.8 441.5 L259.1 439.0 L259.4 439.4 L260.0 441.0 L260.4 439.6 L260.5 440.0 L260.9 440.1 L260.8 439.7 L261.5 438.2 L261.8 437.5 L262.1 439.4 L262.0 439.3 L262.6 438.6 L262.7 437.8 L263.2 438.9 L263.2 437.7 L263.6 435.9 L263.8 437.7 L264.2 437.9 L264.4 438.0 L264.9 435.8 L265.1 435.8 L265.4 437.0 L265.6 435.9 L265.9 436.2 L266.2 437.3 L266.6 436.4 L266.8 438.0 L267.1 436.0 L267.3 437.6 L267.6 436.6 L267.8 438.3 L268.0 435.0 L268.5 434.7 L268.8 436.2 L268.9 433.8 L269.6 433.7 L269.5 434.5 L270.0 434.5 L270.2 432.1 L270.5 434.0 L270.9 433.1 L271.2 433.3 L271.3 433.4 L271.5 432.8 L271.8 434.2 L272.2 433.3 L272.7 432.3 L272.9 432.5 L273.1 433.5 L273.4 433.0 L273.7 433.4 L274.1 431.6 L274.1 431.7 L274.6 433.9 L274.8 431.2 L275.0 433.1 L275.2 432.0 L275.8 430.2 L276.0 428.9 L276.2 431.2 L276.5 429.4 L276.9 429.3 L277.1 427.9 L277.6 431.3 L277.7 429.8 L277.9 429.5 L278.3 429.8 L278.4 429.5 L278.8 429.2 L279.3 429.5 L279.6 428.4 L279.8 425.4 L280.0 429.3 L280.2 428.8 L280.5 428.1 L280.9 429.9 L281.2 426.1 L281.4 424.1 L281.7 429.3 L282.3 427.9 L282.5 425.2 L282.7 426.6 L283.0 427.7 L283.4 425.3 L283.6 427.3 L283.9 429.0 L283.9 428.0 L284.2 426.1 L284.5 426.4 L284.7 424.7 L285.3 425.9 L285.6 425.2 L285.8 424.2 L286.3 423.6 L286.6 427.5 L286.8 425.1 L286.9 423.6 L287.6 424.2 L287.8 426.4 L287.9 426.4 L288.5 423.5 L288.6 424.4 L288.8 425.1 L289.1 423.4 L289.2 422.2 L289.7 422.3 L289.9 423.4 L290.5 422.3 L290.7 421.5 L290.8 422.7 L291.3 423.9 L291.3 423.5 L291.9 422.2 L292.2 424.7 L292.4 421.3 L292.6 422.0 L293.0 420.3 L293.3 422.7 L293.6 421.5 L294.1 419.4 L294.4 420.3 L294.7 423.4 L294.7 421.9 L295.0 421.1 L295.4 421.8 L295.7 418.7 L295.7 419.5 L296.2 418.7 L296.8 419.2 L296.7 419.6 L297.1 420.5 L297.4 421.0 L297.8 420.8 L298.1 422.7 L298.3 418.7 L298.5 419.1 L299.0 419.6 L299.2 417.8 L299.5 418.3 L299.8 419.0 L300.2 417.3 L300.2 418.8 L300.5 419.6 L300.9 416.6 L301.2 415.0 L301.2 417.7 L301.8 416.2 L302.3 417.5 L302.4 416.6 L302.9 417.4 L302.7 418.3 L303.3 417.7 L303.8 416.1 L304.1 415.0 L304.2 413.2 L304.4 413.4 L304.8 415.0 L304.9 415.9 L305.3 414.8 L305.5 414.7 L306.0 413.3 L306.3 413.1 L306.7 412.9 L306.9 415.6 L307.0 412.2 L307.4 415.3 L307.5 413.2 L308.0 414.8 L308.2 414.3 L308.6 414.7 L309.0 415.1 L308.9 412.5 L309.5 412.1 L309.8 412.6 L309.9 412.0 L310.5 413.6 L310.5 412.5 L311.2 412.5 L311.2 412.8 L311.5 411.6 L311.7 413.3 L312.1 409.6 L312.2 411.9 L312.5 412.1 L312.6 410.4 L313.2 410.3 L313.3 412.1 L313.8 410.4 L314.1 408.3 L314.1 408.8 L314.7 411.5 L314.9 409.0 L315.2 411.6 L315.5 411.5 L315.7 409.4 L316.0 410.1 L316.4 408.3 L316.4 408.6 L316.7 408.1 L317.0 409.5 L317.5 407.0 L317.7 408.3 L318.2 408.3 L317.9 408.7 L318.5 405.3 L318.8 405.6 L319.1 406.5 L319.6 407.1 L319.7 407.4 L319.8 407.3 L320.4 409.4 L320.7 407.5 L320.5 407.3 L321.2 405.8 L321.4 407.2 L321.6 406.9 L321.9 406.7 L322.3 405.6 L322.5 406.3 L322.8 407.2 L322.9 404.2 L323.4 402.4 L323.6 405.9 L324.0 405.6 L324.2 404.3 L324.5 403.8 L324.9 407.6 L325.1 403.5 L325.4 402.4 L325.5 403.1 L326.0 404.1 L326.2 402.6 L326.4 402.7 L326.8 403.4 L326.7 402.3 L327.4 402.8 L327.6 402.5 L327.6 401.0 L328.3 402.3 L328.4 400.6 L328.8 403.0 L329.0 400.5 L329.4 401.2 L329.6 399.1 L329.9 400.6 L330.3 399.5 L330.6 402.7 L330.5 400.5 L331.1 401.2 L331.3 398.2 L331.5 398.7 L332.1 399.8 L332.3 398.2 L332.4 401.1 L332.6 399.0 L333.2 399.5 L333.3 399.6 L333.6 398.8 L333.7 399.8 L334.2 397.9 L334.6 399.0 L334.7 399.8 L335.0 398.4 L335.5 398.2 L335.7 397.4 L336.1 397.7 L336.3 398.3 L336.6 397.0 L336.6 395.1 L336.9 397.2 L337.1 396.6 L337.9 397.2 L337.9 396.5 L338.2 398.2 L338.4 394.7 L338.6 394.8 L338.7 396.6 L339.6 394.4 L339.6 395.9 L339.9 395.3 L340.0 392.8 L340.4 395.8 L340.8 396.5 L341.0 394.9 L341.4 392.8 L341.5 395.3 L341.9 392.9 L342.3 393.8 L342.5 394.3 L342.8 392.7 L343.0 391.4 L343.2 393.1 L343.7 393.1 L343.8 391.9 L344.0 391.9 L344.5 393.5 L344.5 392.4 L344.9 391.7 L345.4 391.4 L345.7 392.2 L345.8 391.9 L346.2 391.4 L346.5 389.8 L346.7 390.9 L346.9 390.4 L347.4 391.1 L347.6 392.2 L347.9 391.8 L348.3 391.3 L348.5 390.4 L348.7 389.8 L349.0 390.4 L349.5 389.3 L349.5 389.3 L349.9 388.5 L350.1 389.3 L350.5 389.1 L350.6 391.2 L351.1 389.5 L351.4 388.2 L351.5 389.5 L351.8 387.8 L352.0 389.4 L352.5 389.0 L352.6 391.4 L353.0 386.5 L353.3 387.5 L353.6 387.3 L354.0 387.7 L354.4 388.0 L354.3 385.8 L354.7 386.0 L355.2 387.1 L355.3 387.7 L355.7 385.1 L356.0 384.4 L356.5 387.5 L356.8 387.0 L356.9 387.1 L357.2 384.5 L357.5 385.3 L357.8 385.7 L358.0 385.8 L358.2 385.0 L358.7 385.0 L359.2 386.1 L359.4 384.3 L359.4 384.0 L359.9 384.1 L360.2 383.8 L360.6 384.5 L360.8 384.0 L361.3 383.6 L361.5 385.7 L361.9 384.2 L362.2 383.4 L362.2 385.2 L362.7 382.9 L363.3 383.5 L363.4 383.3 L363.8 382.6 L364.1 382.7 L364.3 383.2 L364.7 381.3 L365.1 382.4 L365.4 383.1 L365.8 383.0 L365.8 382.9 L366.3 385.2 L366.4 383.2 L366.8 382.1 L367.1 382.0 L367.6 382.1 L367.8 382.5 L368.2 381.5 L368.3 383.5 L368.8 380.3 L369.1 382.2 L369.3 381.9 L369.5 379.9 L370.0 381.8 L370.3 381.6 L370.6 380.1 L370.8 383.4 L371.1 381.4 L371.5 380.0 L371.8 379.7 L372.1 379.2 L372.5 380.2 L372.5 379.8 L373.1 378.0 L372.8 378.3 L373.6 378.5 L373.7 378.7 L374.3 378.6 L374.2 378.0 L374.8 379.4 L374.8 379.6 L375.1 378.4 L375.6 375.6 L375.9 377.8 L376.0 378.5 L376.6 377.5 L376.6 377.8 L377.1 377.4 L377.0 375.4 L377.3 374.0 L377.7 377.5 L377.9 376.0 L378.3 376.9 L378.3 375.9 L378.8 375.8 L379.0 377.5 L379.3 374.3 L379.7 375.5 L379.9 374.0 L380.1 375.2 L380.6 375.5 L380.8 375.5 L381.1 374.7 L381.4 372.7 L381.5 374.5 L381.9 375.0 L382.0 374.9 L382.4 376.1 L382.7 374.0 L382.8 372.0 L383.0 372.4 L383.3 372.9 L383.6 373.8 L384.0 371.0 L384.2 373.2 L384.4 372.7 L384.8 370.7 L385.1 372.3 L385.4 370.5 L385.4 371.2 L385.8 370.6 L386.1 371.0 L386.2 369.2 L386.5 371.0 L386.7 367.6 L387.0 369.5 L387.4 369.1 L387.4 371.4 L387.7 370.0 L388.0 368.6 L388.4 367.9 L388.5 368.8 L388.9 367.8 L389.1 371.0 L389.4 364.9 L389.8 368.0 L390.0 364.9 L390.3 368.8 L390.5 366.5 L390.9 369.1 L391.2 366.4 L391.3 368.1 L391.5 366.9 L391.8 367.9 L392.4 366.3 L392.3 362.6 L392.5 365.1 L393.0 363.9 L393.4 366.7 L393.4 366.0 L393.8 365.2 L393.9 365.5 L394.3 365.1 L394.8 364.0 L394.9 366.8 L395.2 364.6 L395.5 363.9 L395.8 362.2 L396.0 363.1 L396.2 363.6 L396.5 363.2 L397.1 362.7 L397.1 363.0 L397.6 361.6 L397.6 362.7 L398.2 360.8 L398.4 361.4 L398.5 361.4 L399.1 363.1 L399.0 362.5 L399.4 361.8 L399.6 360.2 L399.9 360.9 L400.2 362.1 L400.4 362.5 L400.8 359.2 L401.3 360.2 L401.2 360.7 L401.6 360.8 L401.9 360.2 L402.2 360.8 L402.7 358.2 L402.9 361.6 L403.2 358.2 L403.5 359.5 L404.0 359.9 L403.9 360.5 L404.2 360.0 L404.6 359.8 L404.9 360.1 L405.1 358.3 L405.4 359.2 L405.6 360.0 L406.0 357.1 L406.3 356.2 L406.6 356.5 L406.8 359.2 L407.4 358.8 L407.6 356.8 L408.0 357.4 L408.0 357.5 L408.4 358.0 L408.7 354.4 L409.0 355.8 L409.3 356.1 L409.6 356.6 L409.6 356.2 L410.1 355.6 L410.6 356.1 L410.5 352.6 L411.0 359.1 L411.4 356.3 L411.8 356.3 L412.0 354.3 L412.3 355.4 L412.8 357.2 L413.0 356.8 L413.1 354.6 L413.4 352.9 L413.9 354.4 L414.1 353.8 L414.3 355.0 L414.6 352.4 L415.0 353.5 L415.3 353.9 L415.5 352.9 L415.9 354.6 L416.0 351.9 L416.7 351.6 L416.9 352.5 L417.3 353.8 L417.4 352.4 L417.7 351.9 L418.1 353.4 L418.4 352.6 L418.4 351.6 L419.0 352.3 L419.2 351.7 L419.6 352.6 L419.8 352.0 L420.4 350.8 L420.6 351.1 L420.8 351.1 L421.3 351.9 L421.5 351.8 L421.7 350.3 L422.1 351.0 L422.4 351.5 L422.8 352.4 L423.2 351.3 L423.4 353.3 L423.7 350.9 L424.2 351.7 L424.4 350.4 L424.8 349.6 L425.1 350.8 L425.2 351.2 L425.6 351.0 L425.8 350.7 L426.5 350.1 L426.7 349.5 L427.0 350.1 L427.2 350.9 L427.7 351.5 L428.0 346.4 M427.9 350.6 L428.4 349.6 L428.7 349.4 L429.1 351.5 L429.3 349.5 L429.6 350.3 L429.9 351.3 L430.2 348.9 L430.6 350.8 L431.2 350.3 L431.2 350.2 L431.6 350.5 L432.0 349.4 L432.3 348.5 L432.7 351.8 L432.9 350.1 L433.2 351.0 L433.8 351.1 L433.9 350.5 L434.3 350.6 L434.6 350.8 L434.7 351.5 L435.2 350.7 L435.5 351.3 L436.0 350.0 L436.2 349.9 L436.3 350.3 L437.0 350.6 L437.0 350.7 L437.5 351.8 L437.8 350.9 L438.2 350.3 L438.6 351.8 L439.0 350.5 L439.1 350.5 L439.5 350.6 L440.0 350.0 L440.3 349.4 L440.6 350.4 L440.9 350.0 L441.2 349.6 L441.5 350.3 L441.8 350.1 L442.3 349.8 L442.7 348.9 L443.1 350.1 L443.1 351.6 L443.5 350.9 L443.8 351.1 L444.2 350.2 L444.4 351.1 L445.1 349.7 L445.3 349.9 L445.5 350.6 L445.8 349.1 L446.2 350.3 L446.4 350.5 L446.8 351.5 L447.2 349.7 L447.7 350.6 L447.9 349.7 L448.3 349.8 L448.4 348.1 L448.4 349.5 L449.3 351.1 L449.5 350.6 L449.8 350.3 L450.3 352.1 L450.3 350.6 L450.7 349.2 L451.0 350.1 L451.6 350.2 L451.9 351.5 L451.9 349.5 L452.6 350.5 L452.8 351.0 L453.1 349.6 L453.3 350.3 L454.0 348.6 L454.1 350.3 L454.6 348.5 L454.6 349.9 L455.2 351.5 L455.4 350.5 L455.7 350.2 L456.0 350.3 L456.3 351.9 L456.6 350.6 L457.0 351.0 L457.4 349.8 L457.8 349.8 L457.9 349.4 L458.3 350.0 L458.6 349.6 L458.9 351.0 L459.3 350.7 L459.7 350.1 L460.0 349.8 L460.4 347.9 L460.8 349.7 L461.1 350.4 L461.4 350.7 L461.8 347.8 L461.9 348.3 L462.2 350.3 L462.7 349.4 L463.1 350.0 L463.6 349.8 L463.6 350.6 L463.9 348.7 L464.4 349.7 L464.6 350.9 L464.9 350.3 L465.5 349.5 L465.9 350.5 L466.0 350.4 L466.2 349.5 L466.7 350.7 L467.0 350.7 L467.1 350.0 L467.7 350.9 L468.0 349.2 L468.4 350.7 L468.6 350.0 L468.9 349.4 L469.3 349.7 L469.4 351.1 L470.2 349.7 L470.0 349.9 L470.5 349.6 L470.9 349.5 L471.1 350.9 L471.6 351.9 L471.9 351.2 L472.3 350.5 L472.6 350.7 L472.9 349.9 L473.3 349.7 L473.6 349.2 L474.0 351.2 L474.3 349.9 L474.5 349.6 L474.8 349.6 L475.2 350.3 L475.6 349.7 L475.8 350.1 L476.2 350.2 L476.4 351.2 L477.1 349.1 L477.1 350.3 L477.7 349.6 L478.0 349.8 L478.3 351.4 L478.6 350.6 L478.9 349.8 L479.2 350.5 L479.6 350.1 L479.9 351.0 L480.4 349.7 L480.4 350.5 L480.9 349.9 L481.4 350.1 L481.7 350.0 L481.7 349.6 L482.2 350.2 L482.5 350.9 L482.9 349.6 L482.9 349.8 L483.6 350.4 L483.6 349.5 L484.4 350.8 L484.6 350.6 L484.8 348.3 L485.2 349.6 L485.5 349.2 L485.7 350.7 L486.1 350.8 L486.5 349.1 L486.7 349.5 L487.2 350.0 L487.6 349.8 L487.9 350.6 L488.2 350.8 L488.6 350.5 L488.9 350.9 L489.3 350.8 L489.4 350.0 L489.8 349.7 L490.3 349.5 L490.6 350.7 L490.7 350.7 L490.9 350.8 L491.7 349.8 L491.9 349.7 L492.3 350.3 L492.5 351.0 L492.8 350.3 L493.0 350.2 L493.3 349.4 L493.9 350.4 L494.2 350.5 L494.4 349.3 L494.6 351.4 L495.0 349.3 L495.3 350.8 L495.7 349.9 L495.7 350.2 L496.4 349.4 L496.9 349.6 L497.0 350.6 L497.4 349.9 L497.7 349.8 L497.9 350.7 L498.4 350.6 L498.6 350.1 L499.0 350.2 L499.4 351.4 L499.7 349.9 L500.0 350.3 L500.2 350.3 L500.7 348.9 L500.9 348.5 L501.4 350.1 L501.6 350.7 L501.8 350.2 L502.3 349.6 L502.5 349.5 L502.9 350.6 L503.3 349.8 L503.7 348.7 L504.1 350.5 L504.4 350.2 L504.6 350.3 L504.8 350.8 L505.3 351.0 L505.6 350.4 L505.9 349.8 L506.2 348.3 L506.5 350.2 L507.0 349.9 L507.1 351.0 L507.6 351.0 L508.1 350.3 L508.2 351.0 L508.5 349.9 L508.9 349.9 L509.2 349.3 L509.6 349.7 L510.1 350.1 L510.2 350.8 L510.6 349.4 L510.8 350.6 L511.2 351.8 L511.6 348.9 L511.8 349.8 L512.4 350.0 L512.5 350.7 L512.9 351.5 L513.1 350.9 L513.5 349.9 L513.8 349.3 L514.1 349.9 L514.3 349.9 L514.9 350.1 L515.4 349.2 L515.3 351.1 L516.1 349.4 L516.2 350.5 L516.6 350.1 L516.7 349.1 L517.4 350.0 L517.4 349.9 L517.8 349.8 L518.3 350.6 L518.3 349.6 L518.6 351.9 L519.1 350.8 L519.4 349.2 L519.7 348.0 L520.0 350.9 L520.3 350.1 L521.0 350.0 L521.3 349.1 L521.3 348.8 L521.8 348.5 L522.1 351.9 L522.6 351.2 L522.7 349.5 L523.3 351.4 L523.5 348.4 L523.7 350.4 L524.1 350.4 L524.4 349.2 L525.0 349.5 L525.1 349.1 L525.4 349.9 L525.8 350.9 L526.3 350.7 L526.3 350.2 L526.6 350.8 L527.2 348.5 L527.5 351.5 L527.7 349.8 L528.1 348.8 L528.5 349.6 L528.4 349.4 L529.2 349.9 L529.4 350.1 L529.8 348.0 L530.0 350.8 L530.8 351.2 L530.6 349.0 L531.2 351.0 L531.1 350.8 L531.7 350.6 L532.1 351.1 L532.2 348.8 L532.5 350.4 L533.0 349.0 L533.5 351.7 L533.8 349.1 L533.9 348.9 L534.4 350.7 L534.5 350.3 L535.2 349.9 L535.3 349.9 L535.8 350.3 L536.0 351.2 L536.3 349.3 L536.9 349.4 L536.9 349.4 L537.5 349.8 L537.6 349.8 L537.9 348.8 L538.2 350.0 L538.8 348.8 L539.0 349.6 L539.3 349.6 L539.5 349.6 L540.1 351.0 L540.4 351.1 L540.7 350.6 L541.0 351.0 L540.9 349.6 L541.5 350.9 L542.0 349.7 L542.3 350.0 L542.5 350.0 L543.0 348.7 L543.2 349.3 L543.5 349.6 L543.8 350.1 L544.3 349.7 L544.5 349.1 L544.9 348.8 L545.4 349.8 L545.6 348.8 L545.9 348.8 L546.1 349.7 L546.5 349.9 L547.0 349.1 L547.3 348.3 L547.6 350.0 L547.9 350.4 L548.2 349.4 L548.6 349.4 L548.8 347.9 L548.9 350.4 L549.8 348.8 L550.0 350.3 L550.2 349.2 L550.7 349.6 L550.7 349.5 L551.3 348.3 L551.5 351.9 L552.0 348.4 L552.1 349.8 L552.5 349.0 L552.9 349.5 L553.3 350.7 L553.6 348.2 L553.9 349.5 L554.1 350.0 L554.7 349.7 L554.8 349.9 L555.1 349.0 L555.4 348.3 L555.7 348.6 L556.1 349.3 L556.3 350.2 L556.8 349.7 L557.1 350.8 L557.5 349.6 L557.6 349.7 L558.1 349.7 L558.4 348.1 L558.9 349.8 L558.9 348.5 L559.2 349.0 L559.9 351.1 L560.1 348.2 L560.2 349.2 L560.9 349.3 L561.2 349.1 L561.5 349.0 L561.5 348.5 L562.1 350.5 L562.3 347.3 L562.7 348.0 L562.8 349.9 L563.5 349.1 L563.6 348.0 L564.0 347.8 L564.4 348.3 L564.7 350.5 L565.0 348.7 L565.2 347.5 L565.6 348.4 L565.9 347.6 L566.0 349.2 L566.7 348.2 L566.8 348.9 L567.1 348.0 L567.5 349.4 L567.7 348.0 L568.0 347.8 L568.3 346.7 L568.9 347.1 L569.3 347.6 L569.5 346.9 L569.6 349.1 L570.2 347.1 L570.4 346.4 L570.5 347.7 L570.8 346.4 L571.4 347.0 L571.8 346.6 L571.9 346.0 L572.2 347.5 L572.6 346.4 L572.8 347.1 L573.2 345.9 L573.6 344.9 L573.8 345.3 L574.3 345.6 L574.4 345.7 L574.9 345.7 L575.2 345.9 L575.4 344.8 L575.7 345.5 L576.1 344.6 L576.6 344.8 L576.6 346.4 L577.2 345.6 L577.4 344.6 L577.6 345.6 L578.1 345.3 L578.0 344.9 L578.6 345.0 L578.9 344.0 L579.1 343.9 L579.5 343.4 L579.7 344.0 L580.0 342.9 L580.4 343.1 L580.6 343.4 L580.8 342.8 L581.2 343.1 L581.4 343.6 L581.7 342.1 L582.1 343.1 L582.2 341.9 L582.5 341.6 L582.8 342.0 L583.1 342.2 L583.4 341.1 L583.5 341.0 L584.2 340.9 L584.3 340.6 L584.5 340.8 L584.8 340.2 L584.7 340.2 L585.4 340.3 L585.5 339.8 L585.9 340.3 L586.0 339.3 L586.5 339.0 L586.6 340.2 L586.9 339.7 L587.3 338.8 L587.5 339.0 L587.5 338.5 L587.9 337.9 L588.2 338.3 L588.4 337.9 L588.8 338.2 L588.9 336.5 L589.0 337.5 L589.4 337.0 L589.7 336.4 L590.1 336.3 L590.3 336.1 L590.6 335.4 L590.8 335.6 L591.0 336.0 L591.3 334.7 L591.5 335.0 L591.7 333.8 L591.9 334.5 L592.3 334.7 L592.7 334.3 L592.9 334.1 L592.8 333.3 L593.3 333.9 L593.3 333.0 L593.6 333.6 L594.0 333.1 L594.0 332.6 L594.3 333.2 L594.5 332.1 L595.1 332.6 L595.2 331.9 L595.2 331.6 L595.6 331.9 L595.8 331.4 L596.1 330.9 L596.2 330.6 L596.7 330.5 L596.7 330.2 L597.1 329.8 L597.0 329.2 L597.5 328.3 L597.7 329.2 L598.1 328.9 L597.8 329.4 L598.5 328.8 L598.7 328.9 L598.8 328.9 L599.2 327.8 L599.6 327.2 L599.7 327.8 L599.9 326.9 L600.2 326.8 L600.3 327.4 L600.6 326.7 L600.8 326.8 L600.9 325.3 L601.1 325.8 L601.5 326.1 L601.7 324.7 L601.8 325.1 L602.1 325.0 L602.5 323.5 L602.4 325.1 L602.7 323.7 L603.1 323.8 L603.3 324.4 L603.3 322.5 L603.6 323.4 L603.9 322.7 L604.3 322.7 L604.4 322.0 L604.3 322.8 L605.0 321.4 L605.1 321.9 L605.2 321.7 L605.4 321.2 L605.9 320.8 L606.0 320.6 L606.2 321.0 L606.5 320.5 L606.7 320.0 L607.0 319.2 L607.3 319.6 L607.2 319.5 L607.5 319.0 L607.7 319.5 L608.2 317.6 L608.2 319.5 L608.2 318.0 L608.7 317.3 L608.8 316.8 L609.0 317.8 L609.3 317.4 L609.4 316.8 L609.6 316.6 L610.2 316.5 L610.2 315.9 L610.4 316.5 L610.8 316.0 L611.1 315.4 L610.9 314.4 L611.3 315.6 L611.6 314.5 L611.7 313.9 L612.1 314.8 L612.1 314.2 L612.4 312.7 L612.7 312.7 L613.0 313.0 L613.2 312.4 L613.3 312.7 L613.6 313.8 L613.6 313.7 L614.3 312.0 L614.2 312.2 L614.5 312.0 L614.7 311.2 L615.0 310.3 L615.2 311.3 L615.3 310.5 L615.4 310.5 L615.8 310.4 L615.9 309.4 L616.2 310.4 L616.5 309.4 L616.7 309.2 L617.1 308.6 L617.1 308.9 L617.2 308.8 L617.7 307.8 L617.9 308.1 L617.8 307.4 L618.3 306.8 L618.5 307.0 L618.6 307.2 L618.9 306.9 L619.2 306.9 L619.4 305.8 L619.7 305.7 L619.8 305.7 L620.0 305.7 L620.5 305.1 L620.3 304.4 L620.6 303.9 L620.8 305.0 L621.2 304.7 L621.5 303.6 L621.4 304.4 L621.9 303.4 L621.8 303.4 L622.5 303.5 L622.3 302.4 L622.8 302.0 L622.8 301.3 L623.1 302.1 L623.2 301.9 L623.5 301.8 L623.7 301.5 L623.9 301.0 L624.2 301.2 L624.3 299.9 L624.5 300.4 L624.6 300.2 L625.0 299.6 L625.2 300.3 L625.5 299.4 L625.7 299.6 L625.8 299.1 L626.1 298.3 L626.5 299.1 L626.5 298.5 L626.6 297.7 L627.2 297.4 L627.2 296.7 L627.5 296.8 L627.9 296.5 L627.7 296.5 L628.1 296.0 L628.0 296.2 L628.5 295.6 L628.7 294.6 L628.8 294.9 L629.0 294.5 L629.3 294.0 L629.5 294.3 L629.9 294.6 L629.9 293.3 L630.1 292.7 L630.3 293.3 L630.4 294.6 L630.7 292.6 L630.8 292.8 L631.2 292.2 L631.1 292.5 L631.5 292.6 L631.9 291.5 L631.8 291.9 L632.1 290.6 L632.6 290.9 L632.5 290.0 L632.9 290.4 L633.1 289.8 L633.2 289.9 L633.3 289.0 L633.9 289.4 L633.8 289.1 L634.2 288.5 L634.2 288.1 L634.6 287.7 L634.6 287.8 L634.8 287.9 L635.0 287.4 L635.3 287.3 L635.5 287.6 L635.7 286.6 L636.0 286.6 L636.1 286.6 L636.5 286.2 L636.5 285.9 L636.9 285.5 L637.2 286.1 L637.4 284.9 L637.2 284.5 L637.8 284.7 L637.6 284.9 L638.2 284.6 L638.3 283.7 L638.5 283.8 L638.6 283.4 L639.0 282.9 L639.2 282.9 L639.2 282.7 L639.4 282.2 L639.8 282.7 L640.1 281.4 L640.2 282.0 L640.3 282.1 L640.6 281.9 L640.9 280.7 L641.1 280.3 L641.4 279.3 L641.5 279.8 L641.6 280.8 L641.9 278.6 L642.1 278.3 L642.2 279.2 L642.6 278.9 L642.6 277.5 L643.0 278.1 L643.1 278.0 L643.7 276.9 L643.8 277.8 L643.9 276.5 L643.9 277.4 L644.1 276.7 L644.6 276.0 L644.7 275.4 L645.0 275.7 L645.0 275.6 L645.2 275.4 L645.6 274.9 L645.8 274.8 L645.9 275.1 L646.2 274.0 L646.6 274.1 L646.7 274.2 L647.1 273.7 L647.4 273.9 L647.5 274.0 L647.7 272.8 L647.8 272.9 L648.3 271.1 L648.2 272.1 L648.5 272.4 L648.8 271.3 L648.9 272.2 L649.4 270.4 L649.4 271.8 L649.8 270.6 L649.9 270.2 L650.2 270.2 L650.4 270.0 L650.4 269.4 L650.8 269.0 L651.1 269.2 L651.6 269.7 L651.7 269.2 L651.9 269.4 L651.9 268.2 L652.4 268.1 L652.7 267.9 L652.8 267.9 L653.3 267.8 L653.0 268.2 L653.3 267.4 L653.6 266.9 L653.8 267.3 L654.1 266.0 L654.4 265.5 L654.6 266.2 L654.8 265.7 L655.1 265.5 L655.3 265.6 L655.4 264.8 L655.6 264.6 L656.1 264.6 L656.1 264.5 L656.3 264.4 L656.6 263.8 L656.8 263.6 L657.0 262.0 L657.2 263.6 L657.6 262.0 L657.8 262.5 L657.8 263.5 L658.0 261.8 L658.6 261.0 L658.5 262.3 L658.6 261.0 L658.8 260.9 L659.3 260.7 L659.4 260.9 L659.5 260.7 L659.8 260.0 L660.0 260.3 L660.5 259.1 L660.6 259.6 L660.8 258.8 L660.9 259.2 L661.2 258.3 L661.6 258.1 L661.7 258.8 L662.0 257.3 L662.2 257.0 L662.4 257.6 L662.6 257.0 L662.7 256.7 L663.2 256.5 L663.3 257.4 L663.6 255.6 L663.6 255.8 L663.8 255.7 L664.1 254.9 L664.3 255.1 L664.7 255.1 L664.9 254.2 L665.2 255.0 L665.3 253.6 L665.3 253.9 L665.8 253.8 L665.8 255.0 L666.1 252.3 L666.4 253.1 L666.6 253.9 L666.9 252.2 L667.4 252.7 L667.3 252.1 L667.7 251.0 L667.7 251.7 L668.0 250.8 L668.1 251.0 L668.3 250.0 L668.8 250.9 L668.9 249.1 L669.1 249.9 L669.2 250.4 L669.7 249.8 L669.7 249.1 L669.9 248.9 L670.1 248.6 L670.5 249.9 L670.7 248.3 L671.0 248.1 L670.9 247.5 L671.2 247.3 L671.7 247.6 L672.0 246.8 L671.9 246.4 L672.1 246.3 L672.2 246.2 L672.5 246.2 L672.7 245.6 L673.0 245.5 L673.1 245.0 L673.6 245.8 L673.7 244.9 L673.9 244.5 L674.3 244.6 L674.3 244.1 L674.5 243.1 L674.8 243.6 L675.3 244.3 L675.3 243.5 L675.6 243.6 L675.7 242.4 L675.9 241.7 L676.2 241.9 L676.1 242.7 L676.5 241.2 L676.8 241.1 L677.0 241.8 L677.5 240.9 L677.8 240.7 L677.8 240.7 L678.0 240.3 L678.3 239.9 L678.6 240.0 L678.5 239.2 L678.8 239.3 L679.1 239.5 L679.4 238.3 L679.4 238.5 L679.9 237.8 L679.9 238.6 L680.4 238.3 L680.6 238.2 L680.5 238.0 L681.0 237.8 L681.2 237.4 L681.4 236.3 L681.8 237.0 L682.1 235.8 L682.2 237.4 L682.2 236.0 L682.4 235.9 L682.7 234.7 L683.0 235.7 L683.5 235.6 L683.6 233.8 L683.8 234.1 L684.1 233.9 L684.3 233.6 L684.5 234.5 L684.6 234.8 L684.9 232.7 L685.2 233.7 L685.3 232.7 L685.9 233.4 L685.9 230.9 L686.1 231.9 L686.5 232.6 L686.5 231.2 L687.0 232.2 L687.1 230.9 L687.6 231.7 L687.5 231.1 L687.8 230.3 L688.0 229.9 L688.2 230.0 L688.6 230.6 L688.7 229.6 L689.1 229.0 L689.2 231.2 L689.7 228.0 L689.5 228.6 L690.1 228.8 L690.3 227.7 L690.5 228.1 L690.7 227.6 L691.2 226.7 L691.2 227.7 L691.5 226.5 L691.7 226.5 L691.9 227.5 L692.2 225.8 L692.5 226.6 L692.5 226.7 L692.8 226.4 L693.0 225.9 L693.4 225.2 L693.5 224.2 L693.8 225.0 L694.2 224.9 L694.3 224.1 L694.6 223.6 L694.8 224.5 L695.1 223.1 L695.3 223.8 L695.4 223.0 L695.8 222.0 L696.0 223.9 L696.2 223.0 L696.5 222.7 L696.7 221.3 L696.9 221.9 L697.4 221.9 L697.7 221.0 L697.7 222.3 L698.1 219.7 L698.2 221.3 L698.4 219.4 L698.6 219.3 L698.9 219.3 L699.1 220.3 L699.4 219.2 L699.6 219.0 L699.7 218.6 L700.2 218.0 L700.2 218.2 L700.5 217.9 L701.0 218.1 L701.2 217.8 L701.5 216.3 L701.6 217.2 L701.7 218.2 L702.2 216.9 L702.3 216.9 L702.5 216.3 L702.7 216.1 L703.1 216.2 L703.0 215.2 L703.6 215.7 L703.5 214.5 L704.1 215.6 L704.1 214.1 L704.6 215.4 L705.0 215.4 L705.0 213.4 L705.1 214.7 L705.7 213.8 L705.7 214.6 L705.8 213.2 L706.4 213.2 L706.1 213.0 L706.5 213.8 L706.8 211.4 L707.1 213.0 L707.2 212.3 L707.8 211.7 L708.0 211.7 L708.2 212.3 L708.4 212.0 L708.5 212.3 L709.0 210.5 L709.1 209.4 L709.5 210.1 L709.8 210.1 L709.9 209.7 L709.9 210.7 L710.3 211.2 L710.8 209.7 L710.9 207.9 L711.3 209.7 L711.1 208.3 L711.6 208.6 L711.8 208.9 L711.9 208.3 L712.3 207.8 L712.7 207.8 L712.9 208.0 L713.0 207.7 L713.4 208.5 L713.7 204.6 L713.7 206.0 L714.1 205.9 L714.5 206.7 L714.5 206.1 L715.0 206.3 L715.1 204.4 L715.5 205.1 L715.7 205.5 L715.9 204.8 L716.0 204.3 L716.2 204.6 L716.6 205.4 L716.8 202.4 L717.2 204.9 L717.3 203.7 L717.6 202.6 L718.0 203.5 L718.1 202.9 L718.4 203.5 L718.8 201.8 L718.8 202.9 L719.1 201.3 L719.4 202.0 L719.5 202.1 L719.7 201.3 L719.9 201.6 L720.3 200.4 L720.7 201.5 L720.9 200.1 L721.3 199.7 L721.4 199.9 L721.5 199.8 L721.7 199.0 L722.0 200.0 L722.3 199.1 L722.5 199.4 L722.9 197.6 L723.0 197.5 L723.4 198.1 L723.7 197.4 L723.6 197.8 L724.0 198.1 L724.5 198.3 L724.7 198.4 L724.9 197.6 L725.0 196.3 L725.3 197.0 L725.6 196.0 L726.0 196.6 L726.1 195.1 L726.3 196.8 L726.6 195.8 L726.9 195.1 L726.9 194.0 L727.2 195.1 L727.6 194.2 L728.0 194.6 L728.2 193.6 L728.2 193.5 L728.6 194.2 L728.7 194.7 L729.0 192.3 L729.3 192.9 L729.5 193.2 L729.7 192.5 L729.9 192.1 L730.1 193.9 L730.5 191.3 L730.8 192.0 L731.0 191.1 L731.1 191.2 L731.4 189.2 L731.8 191.5 L732.0 190.4 L732.3 189.6 L732.3 191.5 L732.6 189.7 L732.7 189.2 L733.2 188.8 L733.2 190.1 L733.4 189.0 L733.7 188.5 L734.2 187.4 L734.3 187.5 L734.6 188.3 L734.8 187.8 L735.0 185.9 L735.2 186.6 L735.3 187.3 L735.9 189.1 L735.9 186.0 L736.3 184.6 L736.2 186.8 L736.7 185.6 L736.7 184.6 L737.0 186.0 L737.4 185.1 L737.7 184.2 L738.0 183.7 L738.2 184.5 L738.3 184.4 L738.6 182.6 L738.7 184.7 L738.9 182.6 L739.3 184.6 L739.4 183.5 L739.8 182.8 L739.7 183.0 L740.3 182.0 L740.3 182.2 L740.8 183.4 L741.0 181.3 L741.0 182.3 L741.3 180.5 L741.7 181.1 L741.7 181.7 L742.0 179.6 L742.2 180.7 L742.6 178.3 L742.9 178.9 L742.9 179.3 L743.3 180.2 L743.6 179.9 L743.8 178.2 L743.9 178.7 L744.1 178.7 L744.4 176.9 L744.8 178.5 L744.9 179.1 L745.1 178.7 L745.3 176.9 L745.8 176.8 L745.8 176.1 L746.3 176.3 L746.2 176.3 L746.5 176.9 L746.7 176.1 L747.3 175.0 L747.4 176.3 L747.5 176.2 L747.5 174.6 L748.2 174.7 L748.3 174.6 L748.4 173.0 L748.6 174.4 L749.0 174.6 L749.2 175.6 L749.5 173.7 L749.8 173.1 L749.9 173.0 L750.2 173.5 L750.5 173.4 L750.7 171.7 L750.9 172.4 L751.3 172.6 L751.2 170.0 L751.8 172.8 L752.0 171.2 L752.1 171.9 L752.4 170.9 L752.8 170.5 L753.0 170.4 L752.9 170.5 L753.3 170.9 L753.7 169.6 L754.1 168.6 L754.2 168.7 L754.4 168.3 L754.7 169.7 L754.9 167.9 L755.1 169.9 L755.4 168.4 L755.4 168.0 L756.0 169.1 L756.2 167.3 L756.3 167.2 L756.5 168.0 L756.7 167.7 L757.2 165.9 L757.4 168.9 L757.7 166.9 L758.1 165.0 L757.9 165.8 L758.3 166.6 L758.5 165.7 L759.0 166.1 L759.1 167.3 L759.3 165.7 L759.7 166.6 L759.9 165.1 L760.3 163.6 L760.4 165.4 L760.6 163.1 L760.8 164.5 L761.1 164.0 L761.5 162.3 L761.7 162.3 L761.9 162.5 L762.1 162.9 L762.6 163.6 L762.7 162.2 L763.0 163.7 L763.0 162.5 L763.3 160.8 L763.4 160.6 L763.8 161.1 L764.2 160.3 L764.6 160.5 L764.6 161.1 L764.8 160.4 L765.2 160.9 L765.6 159.1 L765.7 158.7 L766.0 158.0 L766.2 157.4 L766.3 158.5 L766.6 158.8 L766.9 158.3 L767.5 158.3 L767.5 160.1 L767.7 156.8 L768.0 157.4 L768.2 156.9 L768.4 156.3 L768.7 158.4 L768.9 156.8 L769.3 157.8 L769.7 155.2 L769.9 158.0 L769.9 158.2 L770.3 154.9 L770.4 155.5 L770.6 155.2 L771.0 155.7 L771.3 153.6 L771.5 155.2 L771.9 155.2 L772.1 153.7 L772.4 151.8 L772.5 153.2 L772.6 153.2 L773.3 154.2 L773.2 152.6 L773.6 151.8 L773.9 153.4 L774.0 153.0 L774.5 153.1 L774.7 152.2 L774.8 153.1 L775.0 152.3 L775.2 149.7 L775.5 151.6 L775.9 151.9 L776.1 151.0 L776.3 152.2 L776.7 150.1 L776.8 151.0 L777.2 148.8 L777.3 149.9 L777.6 149.1 L778.0 148.5 L778.1 147.9 L778.5 149.3 L778.8 149.3 L779.0 148.0 L779.0 147.2 L779.3 147.4 L779.6 148.9 L779.8 146.6 L780.4 148.9 L780.4 145.7 L780.6 147.6 L781.0 147.8 L781.3 148.2 L781.4 146.2 L781.9 145.7 L782.2 144.8 L782.3 147.0 L782.7 145.8 L782.7 145.2 L783.1 145.1 L783.4 145.6 L783.7 145.2 L784.1 146.2 L784.2 142.5 L784.4 145.5 L784.8 143.8 L785.1 144.1 L785.4 143.7 L785.6 143.8 L785.9 144.5 L786.1 143.7 L786.6 141.8 L786.7 143.1 L787.0 142.9 L787.5 143.2 L787.5 142.7 L787.9 142.4 L788.2 143.4 L788.4 140.9 L788.8 144.3 L788.9 141.1 L789.4 140.5 L789.4 142.2 L789.7 142.4 L790.1 142.4 L790.6 142.5 L790.9 141.2 L790.9 140.6 L791.3 140.8 L791.5 140.2 L791.6 139.5 L792.2 141.6 L792.4 141.7 L792.9 139.6 L793.0 139.1 L793.2 138.7 L793.5 137.2 L793.8 138.2 L794.2 138.2 L794.4 138.6 L795.1 137.4 L795.0 136.2 L795.2 138.9 L795.6 139.9 L796.0 135.5 L796.3 137.6 L796.5 138.5 L796.7 136.2 L797.0 135.7 L797.3 137.2 L797.6 136.8 L798.0 136.2 L798.3 138.6 L798.8 138.3 L799.0 137.3 L799.2 136.4 L799.6 136.0 L800.1 137.2 L800.0 135.9 L800.5 137.7 L801.2 137.4 L801.3 135.3 L801.4 136.7 L801.8 137.5 L802.1 136.5 L802.8 134.7 L802.7 135.4 L803.1 135.3 L803.4 135.7 L803.6 135.6 L803.7 135.2 L804.4 136.5 L804.8 137.1 L805.0 134.9 L805.5 133.9 L805.8 136.0 L806.2 135.6 L806.2 136.1 L806.9 134.9 L807.2 136.0 L807.5 134.7 L807.7 136.9 L808.1 137.6 L808.3 134.7 L808.8 132.9 L809.2 135.3 L809.3 135.2 L809.8 136.1 L810.0 135.9 L810.4 136.5 L810.7 139.0 L811.1 135.4 L811.6 135.6 L811.7 136.5 L812.0 134.0 L812.3 137.0 L812.7 135.5 L812.9 134.7 L813.4 135.4 L813.7 137.0 L814.1 137.4 L814.2 137.9 L814.5 137.1 L814.8 135.9 L815.3 137.3 L815.5 136.7 L816.0 139.4 L816.0 134.6 L816.5 138.7 L816.9 137.8 L817.0 137.5 L817.5 136.9 L817.7 136.4 L818.2 136.0 L818.5 135.4 L818.9 139.3 L819.1 138.1 L819.3 137.8 L819.8 137.4 L820.2 134.9 L820.5 136.6 L820.9 137.0 L821.3 138.1 L821.4 135.7 L821.8 137.1 L822.0 136.4 L822.4 136.7 L822.9 135.7 L823.1 136.9 L823.1 136.5 L823.9 134.3 L823.8 137.6 L824.3 138.6 L824.8 135.1 L825.0 137.3 L825.4 134.8 L825.8 135.2 L826.0 137.7 L826.1 135.9 L826.6 137.2 L826.8 135.8 L826.9 136.5 L827.5 135.1 L827.9 136.7 L828.2 137.0 L828.5 135.7 L829.0 134.2 L829.1 134.3 L829.5 133.5 L829.7 135.1 L830.2 134.9 L830.3 133.4 L830.7 135.0 L831.1 133.2 L831.2 135.8 L831.6 134.5 L831.6 135.2 L832.1 132.5 L832.5 132.0 L832.6 130.9 L832.8 133.6 L833.3 131.4 L833.5 134.1 L833.9 132.6 L834.2 133.2 L834.6 130.8 L835.0 131.4 L835.2 132.2 L835.2 132.7 L835.8 130.3 L836.1 132.1 L836.4 130.6 L836.9 132.4 L837.0 131.2 L837.3 131.0 L837.7 131.8 L837.8 132.6 L838.4 130.9 L838.7 132.5 L839.2 130.0 L839.4 131.4 L839.7 129.8 L840.0 131.2 L840.1 130.0 L840.6 131.0 L841.0 131.7 L841.4 129.8 L841.7 128.9 L842.0 130.7 L842.3 131.5 L842.5 131.2 L843.0 129.9 L843.2 131.8 L843.4 130.5 L843.7 131.7 L844.3 129.9 L844.7 131.4 L845.1 132.2 L845.1 130.1 L845.7 130.5 L846.1 131.5 L846.1 131.4 L846.6 131.2 L847.1 130.7 L847.2 129.0 L847.7 130.8 L847.8 129.3 L848.2 130.9 L848.6 128.1 L848.9 132.4 L849.2 132.9 L849.5 131.3 L849.7 129.8 L850.4 130.5 L850.5 131.8 L850.8 131.6 L851.1 130.1 L851.5 132.3 L851.7 131.7 L852.3 131.6 L852.5 130.6 L852.9 131.1 L853.0 130.3 L853.4 131.4 L853.7 130.5 L854.1 132.6 L854.3 131.4 L854.9 131.7 L855.0 131.9 L855.5 132.0 L855.7 130.1 L856.1 133.3 L856.2 132.1 L856.5 131.4 L857.0 131.1 L857.2 131.5 L857.7 131.7 L857.8 132.6 L858.2 131.7 L858.4 133.0 L858.6 133.2 L859.2 132.4 L859.3 135.8 L859.7 133.3 L859.9 134.0 L860.0 133.9 L860.5 133.8 L860.9 134.9 L861.2 135.9 L861.5 134.5 L861.6 133.8 L861.8 135.6 L862.1 132.8 L862.2 135.5 L862.7 135.4 L862.9 136.2 L863.1 134.4 L863.2 135.8 L863.6 135.4 L863.7 136.1 L864.1 137.6 L864.1 137.0 L864.4 136.8 L864.6 139.0 L864.7 137.9 L865.0 136.0 L865.3 137.3 L865.2 139.1 L866.0 139.4 L866.0 139.4 L866.2 139.7 L866.2 138.7 L866.6 139.8 L866.7 138.9 L867.0 139.6 L867.0 139.8 L867.3 140.1 L867.3 140.9 L867.7 141.3 L867.8 140.9 L868.1 143.2 L868.3 141.8 L868.6 144.2 L868.8 143.9 L868.9 141.8 L868.9 144.3 L869.4 142.2 L869.3 145.5 L869.6 144.5 L869.8 143.4 L869.9 142.5 L870.3 144.6 L870.4 143.9 L870.6 146.7 L870.6 144.6 L870.9 145.9 L870.9 147.0 L871.1 146.8 L871.3 147.3 L871.4 147.1 L871.6 148.4 L871.6 147.0 L871.6 148.8 L871.9 147.3 L871.8 149.0 L872.2 148.0 L872.2 149.2 L872.5 150.4 L872.2 151.3 L872.9 148.5 L872.7 149.9 L872.7 150.0 L873.1 152.5 L873.2 150.7 L873.3 152.6 L873.6 151.7 L873.3 151.1 L873.5 153.0 L873.6 152.0 L873.6 154.2 L873.8 154.7 L874.0 155.5 L873.9 153.4 L874.1 156.3 L874.2 156.1 L874.3 153.6 L874.1 157.9 L874.4 157.7 L874.4 155.4 L874.7 157.0 L874.6 155.7 L874.9 157.2 L874.6 157.8 L874.9 158.6 L874.8 157.5 L875.1 158.6 L875.2 158.1 L874.9 159.7 L875.2 160.3 L875.2 160.0 L875.0 161.4 L875.2 161.3 L875.4 161.3 L875.5 162.4 L875.4 160.4 L875.5 161.9 L875.6 160.5 L875.6 162.5 L875.5 162.4 L875.7 164.0 L875.8 163.1 L875.6 163.2 L876.0 164.1 L876.0 164.4 L875.9 165.3 L876.2 164.3 L875.9 164.1 L875.9 164.3 L876.0 167.2 L876.0 165.3 L876.3 166.4 L876.2 166.1 L876.2 168.3 L876.3 167.3 L876.4 169.3 L876.3 167.8 L876.3 169.1 L876.4 169.8 L876.5 170.3 L876.4 168.7 L876.6 169.8 L876.5 170.4 L876.4 169.1 L876.5 171.7 L876.7 171.8 L876.5 172.2 L876.7 170.8 L876.6 172.6 L876.6 173.1 L876.6 174.0 L876.7 172.9 L876.7 174.3 L876.7 175.8 L876.7 174.0 L876.6 174.4 L876.6 174.8 L876.6 174.1 L876.7 175.4 L876.7 177.5 L876.7 175.5 L876.8 176.5 L876.7 178.1 L876.8 177.9 L876.9 177.9 L877.0 177.7 L876.8 178.2 L877.0 178.7 L877.0 179.6 L876.7 179.4 L876.9 180.5 L876.7 178.4 L876.8 181.0 L876.9 180.2 L876.7 181.0 L877.0 181.0 L876.9 182.2 L876.9 181.9 L877.0 182.8 L876.8 182.0 L876.7 183.1 L877.0 184.3 L876.9 184.6 L876.9 183.7 L876.8 184.4 L876.9 184.3 L876.9 184.9 L876.8 185.3 L876.9 186.6 L876.9 186.4 L877.0 187.5 L877.4 187.9 L877.0 185.9 L876.8 187.5 L877.1 187.2 L876.9 186.6 L877.0 187.4 L877.0 188.2 L877.1 190.3 L877.1 189.3 L877.1 189.4 L877.1 189.9 L877.2 189.6 L877.2 190.7 L877.1 190.8 L877.1 189.9 L877.0 191.1 L877.2 194.6 L877.1 192.7 L877.4 192.5 L877.1 193.4 L877.4 192.5 L877.1 193.6 L877.0 194.6 L877.1 193.0 L877.3 194.0 L877.4 194.6 L877.2 195.0 L877.4 195.1 L877.2 196.1 L877.2 197.0 L877.2 196.8 L877.5 197.6 L877.3 198.0 L877.3 197.1 L877.1 198.0 L877.3 197.9 L877.3 199.0 L877.4 198.6 L877.1 199.0 L877.1 200.8 L877.1 199.7 L877.1 199.0 L877.3 200.6 L877.1 201.0 L877.3 200.8 L877.2 201.5 L877.0 202.5 L877.0 201.8 L877.0 202.3 L876.9 202.3 L877.2 203.4 L877.2 203.4 L876.9 203.1 L877.0 204.0 L877.2 205.8 L876.9 203.5 L877.0 204.1 L877.1 205.7 L877.0 204.8 L876.9 207.5 L876.9 205.4 L877.0 205.8 L876.7 206.7 L876.9 208.2 L876.9 208.3 L876.7 208.5 L876.9 208.6 L876.7 209.6 L876.5 207.8 L876.6 209.6 L876.8 210.7 L876.9 209.3 L876.7 210.6 L876.6 211.5 L876.7 211.9 L876.8 211.3 L876.7 213.0 L876.5 212.4 L876.7 213.1 L876.6 212.0 L876.6 212.5 L876.6 212.8 L876.7 214.9 L876.6 212.5 L876.5 213.1 L876.5 215.2 L876.6 215.1 L876.7 213.4 L876.4 215.4 L876.5 215.8 L876.4 217.1 L876.5 215.4 L876.4 216.6 L876.1 218.0 L876.5 218.1 L876.3 217.4 L876.2 218.1 L876.2 217.7 L876.2 219.8 L876.1 219.0 L876.3 220.4 L876.3 220.5 L876.2 219.7 L876.3 220.5 L876.1 221.3 L876.3 221.5 L876.1 222.5 L876.2 222.6 L876.2 222.5 L876.1 223.0 L876.2 222.5 L876.1 222.9 L876.0 223.9 L876.2 224.1 L876.2 223.6 L875.8 224.5 L875.7 224.4 L875.8 224.9 L876.0 226.3 L876.0 225.3 L875.9 225.8 L875.8 226.9 L875.9 226.9 L875.9 227.3 L875.7 226.7 L875.7 227.8 L875.8 228.0 L875.6 228.0 L875.6 228.5 L875.5 229.0 L875.8 230.0 L875.7 230.9 L875.7 230.2 L875.5 231.3 L875.5 230.9 L875.6 230.3 L875.4 231.5 L875.6 232.5 L875.4 232.9 L875.4 232.0 L875.4 234.1 L875.4 232.7 L875.5 233.1 L875.2 233.5 L875.4 234.9 L875.1 234.7 L875.1 235.3 L874.9 233.9 L875.2 235.4 L875.3 235.7 L874.9 236.5 L875.0 236.2 L875.0 237.4 L874.8 236.7 L875.0 236.7 L875.0 236.9 L874.8 238.7 L874.8 238.8 L874.9 238.3 L874.9 239.6 L874.6 239.3 L874.7 239.7 L874.8 239.3 L874.4 240.1 L874.7 240.8 L874.8 241.1 L874.5 241.1 L874.7 242.2 L874.5 242.8 L874.6 241.9 L874.5 242.9 L874.3 242.2 L874.2 243.5 L874.7 243.2 L874.2 243.9 L874.3 244.4 L874.5 244.5 L874.3 245.5 L874.3 244.9 L874.0 245.4 L874.2 246.1 L874.0 246.3 L874.0 246.8 L874.2 246.9 L874.2 246.9 L874.0 247.9 L874.0 248.0 L874.1 248.7 L874.1 249.2 L873.8 248.8 L874.1 248.9 L874.0 249.4 L873.9 249.6 L873.7 249.3 L873.9 251.3 L873.9 251.1 L874.0 252.3 L873.6 251.3 L873.9 252.2 L873.6 252.4 L873.7 252.5 L873.6 253.3 L873.6 253.2 L873.7 253.5 L873.4 253.9 L873.6 253.2 L873.4 254.2 L873.4 254.5 L873.3 256.0 L873.4 255.8 L873.1 256.2 L873.3 256.5 L873.4 256.4 L873.3 257.6 L873.0 257.1 L873.0 256.8 L873.1 258.1 L873.3 258.7 L873.0 258.5 L873.0 259.0 L873.0 259.6 L873.0 260.2 L872.8 260.1 L873.0 260.9 L872.9 260.6 L873.0 261.8 L872.7 260.5 L872.9 261.9 L873.0 261.9 L872.8 262.1 L872.8 261.8 L872.4 263.3 L872.8 263.0 L872.9 262.9 L872.8 263.4 L872.6 264.0 L872.7 264.4 L872.9 264.3 L872.4 264.6 L872.4 265.6 L872.6 265.7 L872.5 267.0 L872.1 266.2 L872.4 267.0 L872.4 267.8 L872.2 267.3 L872.3 268.1 L872.3 268.2 L872.0 268.4 L872.3 269.4 L872.5 268.5 L872.4 269.1 L872.0 268.8 L872.0 269.9 L872.1 270.8 L872.1 270.5 L871.9 271.4 L872.0 271.0 L872.2 272.2 L872.0 271.9 L872.1 272.1 L872.0 273.4 L872.1 273.0 L871.9 273.6 L871.8 273.7 L871.8 274.3 L871.6 274.3 L871.8 274.1 L871.7 275.1 L871.7 275.5 L871.8 275.8 L871.8 275.8 L871.8 277.1 L871.7 276.2 L871.7 277.0 L871.8 277.3 L871.6 277.1 L871.6 277.4 L871.3 278.5 L871.5 278.9 L871.7 279.0 L871.5 278.5 L871.4 279.4 L871.6 280.0 L871.4 280.5 L871.6 281.1 L871.5 281.1 L871.4 281.7 L871.2 282.3 L871.6 280.8 L871.2 282.7 L871.2 282.3 L871.5 283.1 L871.2 283.3 L871.4 283.0 L871.3 283.4 L871.3 284.4 L871.2 284.4 L871.2 285.2 L871.3 285.0 L871.1 286.5 L871.3 285.7 L871.3 287.1 L871.3 286.1 L871.2 287.1 L871.3 287.7 L871.2 286.9 L871.3 287.4 L871.2 288.3 L871.2 289.0 L871.0 289.4 L870.9 289.4 L871.1 289.9 L871.2 289.2 L871.0 289.9 L870.9 291.1 L871.0 290.5 L871.1 291.0 L871.2 290.6 L871.0 291.7 L870.9 291.4 L871.0 292.6 L871.1 293.4 L871.0 293.2 L871.1 293.5 L870.9 293.6 L871.1 294.3 L871.2 293.9 L870.9 294.5 L870.9 296.1 L871.0 294.8 L871.3 295.5 L871.0 295.4 L870.9 297.0 L871.1 296.6 L870.9 296.5 L870.7 296.8 L870.8 298.2 L871.1 298.3 L870.7 298.7 L870.7 298.7 L871.0 299.4 L870.9 300.0 L871.0 300.0 L870.8 299.3 L870.8 299.4 L870.8 300.0 L870.7 301.1 L870.9 300.6 L870.9 301.2 L871.0 302.0 L870.9 301.9 L870.8 302.1 L870.9 303.4 L871.0 303.5 L871.0 304.0 L870.9 304.4 L870.8 305.0 L870.8 304.6 L870.7 304.9 L870.9 304.5 L870.9 305.5 L871.1 305.7 L870.9 306.8 L871.0 306.9 L871.1 307.6 L870.7 307.8 L870.8 308.1 L870.9 308.2 L870.9 308.3 L870.8 308.4 L871.0 308.9 L871.1 308.8 L871.0 309.8 L871.1 309.9 L870.9 309.3 L871.1 309.3 L870.9 310.6 L870.8 311.0 L871.0 311.4 L871.1 312.5 L871.0 311.9 L870.9 311.9 L871.0 313.0 L871.1 313.7 L870.8 314.3 L871.3 313.4 L871.3 314.1 L871.2 314.3 L871.4 315.5 L871.2 315.5 L871.1 315.5 L871.4 316.2 L871.4 316.0 L871.3 316.4 L871.2 316.8 L871.3 316.9 L871.6 317.4 L871.4 318.0 L871.9 318.2 L871.5 319.1 L871.7 319.2 L871.7 319.1 L871.6 318.4 L871.8 319.1 L871.6 319.9 L871.8 320.3 L871.7 320.1 L871.6 320.9 L871.9 321.5 L871.8 321.4 L871.8 322.0 L872.1 322.3 L872.0 322.4 L872.2 322.6 L872.4 323.3 L872.2 323.8 L872.3 323.5 L872.2 323.4 L872.4 324.2 L872.5 325.2 L872.3 324.6 L872.6 326.1 L872.6 325.7 L872.6 326.4 L872.7 326.3 L873.0 327.2 L872.7 327.3 L872.8 327.8 L872.9 327.0 L872.9 328.6 L872.8 327.8 L873.1 328.8 L873.2 329.5 L873.4 329.5 L873.2 330.1 L873.1 330.3 L873.4 330.6 L873.3 330.5 L873.5 331.6 L873.5 332.0 L873.6 331.6 L873.6 331.7 L873.8 332.6 L873.7 332.4 L874.2 333.2 L874.1 333.8 L874.0 334.1 L874.0 334.8 L874.2 334.6 L874.2 334.2 L874.2 334.7 L874.6 335.6 L874.6 336.6 L874.5 335.8 L874.7 335.9 L874.8 337.3 L874.9 336.9 L874.8 337.6 L875.3 338.1 L875.1 337.5 L875.4 338.1 L875.2 338.3 L875.5 339.1 L875.5 339.5 L875.8 339.3 L875.6 340.1 L875.6 339.3 L875.7 340.6 L875.9 340.9 L876.1 341.1 L876.2 340.7 L876.3 341.7 L876.5 341.5 L876.7 343.0 L876.5 342.5 L876.8 342.9 L877.1 343.2 L876.8 343.8 L877.0 343.9 L877.2 344.4 L877.3 344.1 L877.3 345.3 L877.5 344.9 L877.8 345.8 L877.8 345.9 L877.7 346.9 L877.7 346.3 L877.9 345.6 L878.2 346.1 L878.2 347.1 L878.3 348.6 L878.6 347.6 L878.7 348.2 L878.9 349.3 L879.2 348.3 L879.5 349.2 L879.7 349.3 L880.0 348.8 L880.2 349.6 L880.7 350.4 L880.7 350.5 L881.0 349.5 L881.4 352.0 L882.0 350.2 L882.3 349.8 L882.3 349.4 L882.7 349.2 L883.2 350.6 L883.4 347.9 L883.9 349.9 L884.0 349.0 L884.2 349.8 L884.8 349.9 L885.2 349.0 L885.2 349.2 L885.5 350.8 L886.0 349.4 L886.2 349.8 L886.8 349.6 L886.9 350.4 L887.5 350.6 L887.7 350.4 L888.0 350.1 L888.4 350.0 L888.7 348.7 L888.9 350.5 L889.5 349.1 L889.5 348.8 L890.2 349.2 M890.0 349.0 L890.2 349.1 L890.7 349.8 L891.0 349.8 L891.2 349.9 L891.6 348.3 L892.1 348.8 L892.4 349.8 L892.7 349.8 L892.9 349.4 L893.3 350.5 L893.7 349.4 L894.0 350.2 L894.3 350.4 L894.6 349.8 L895.0 349.3 L895.3 350.1 L895.5 349.9 L895.9 350.0 L896.2 348.8 L896.5 349.9 L897.1 350.8 L897.4 349.3 L897.8 349.6 L897.9 349.3 L898.2 350.2 L898.7 347.9 L898.9 350.8 L899.3 349.9 L899.6 349.3 L899.8 349.7 L900.5 350.4 L900.5 349.8 L900.8 350.0 L901.4 350.5 L901.5 349.6 L902.1 350.1 L902.4 350.7 L902.7 350.0 L902.9 349.0 L903.2 350.1 L903.5 351.1 L904.0 349.3 L904.3 349.9 L904.5 349.8 L904.9 350.2 L905.2 349.2 L905.7 349.5 L906.0 351.1 L906.4 350.1 L906.6 349.0 L907.2 350.1 L907.4 349.6 L907.8 350.7 L907.9 348.2 L908.4 349.6 L908.8 350.3 L908.8 348.5 L909.4 348.9 L909.7 349.9 L910.1 349.5 L910.3 349.3 L910.8 349.8 L910.9 348.4 L911.3 348.9 L911.7 350.9 L912.1 349.0 L912.2 349.9 L912.8 349.5 L913.1 350.2 L913.4 349.8 L913.6 349.8 L914.1 350.4 L914.4 349.8 L914.8 348.2 L915.0 349.0 L915.3 350.6 L915.6 350.3 L915.9 349.3 L916.4 348.3 L916.6 349.0 L916.9 351.1 L917.4 350.5 L917.6 350.5 L917.7 348.3 L918.2 348.5 L918.6 349.1 L919.2 348.5 L919.4 349.6 L919.5 348.7 L919.9 349.9 L920.3 349.3 L920.7 349.1 L920.9 350.0 L921.4 349.9 L921.5 349.6 L922.0 349.2 L922.5 349.5 L922.3 348.0 L923.0 348.0 L923.3 349.0 L923.7 349.6 L924.0 350.9 L924.3 349.8 L924.7 348.7 L925.0 349.1 L925.3 348.5 L925.8 349.5 L926.1 349.4 L926.4 349.5 L926.6 349.7 L926.9 350.3 L927.4 350.0 L927.5 348.6 L928.1 350.2 L928.2 348.7 L928.9 349.8 L929.1 349.6 L929.2 350.8 L929.6 349.4 L929.7 349.4 L930.3 349.3 L930.8 350.2 L931.1 349.8 L931.3 349.3 L931.9 350.2 L932.0 351.2 L932.4 350.8 L932.6 350.7 L933.0 349.1 L933.6 349.4 L933.7 349.6 L933.8 348.2 L934.3 350.9 L934.9 348.4 L935.1 349.8 L935.3 348.6 L935.7 349.6 L935.8 350.2 L936.4 349.9 L936.5 348.8 L936.9 349.0 L937.2 350.2 L937.6 349.5 L938.2 349.6 L938.5 350.2 L938.6 347.6 L939.0 349.7 L939.5 350.5 L939.6 350.9 L939.9 350.1 L940.2 348.9 L940.8 350.3 L941.0 351.0 L941.3 349.0 L941.6 349.0 L941.9 349.4 L942.4 349.2 L942.6 347.9 L942.9 347.7 L943.1 348.5 L943.5 349.0 L943.9 349.9 L944.2 349.1 L944.5 349.7 L944.9 350.6 L945.3 351.9 L945.3 350.2 L946.0 348.8 L946.3 350.3 L946.5 349.5 L946.9 349.8 L947.4 350.3 L947.6 350.1 L948.0 348.5 L948.3 348.6 L948.7 349.7 L948.8 350.1 L949.2 351.2 L949.7 350.0 L950.0 349.2 L950.2 349.1 L950.6 349.0 L950.9 348.5 L951.3 348.5 L951.4 349.1 L951.8 349.6 L952.1 348.9 L952.6 349.5 L953.3 349.3 L953.4 349.3 L953.8 349.2 L954.0 349.7 L954.5 349.5 L954.7 347.5 L955.0 349.7 L955.4 349.6 L955.5 349.0 L955.7 349.6 L956.2 349.0" fill="none" stroke="#ff0000" stroke-width="5.0" stroke-linejoin="round" stroke-linecap="butt"/>
<path d="M565.9 351.0 L565.8 350.6 L565.1 350.0 L565.0 349.6 L564.4 349.6 L564.4 350.1 L563.8 349.0 L563.5 350.5 L563.4 348.9 L562.9 351.0 L562.7 349.5 L562.3 349.0 L562.3 349.5 L561.6 349.0 L561.3 349.7 L561.1 348.2 L560.7 349.4 L560.4 349.9 L560.0 350.2 L559.8 349.5 L559.4 350.9 L559.2 348.3 L558.6 349.6 L558.4 349.4 L558.0 349.8 L557.8 349.6 L557.3 351.1 L557.2 349.8 L556.6 349.0 L556.5 352.1 L556.1 349.9 L555.5 349.7 L555.5 350.6 L554.9 349.3 L554.8 349.6 L554.2 350.6 L554.1 348.8 L553.7 349.4 L553.2 350.7 L552.9 351.5 L552.8 349.8 L552.4 349.8 L552.2 350.8 L551.8 348.5 L551.8 349.2 L551.1 349.1 L551.0 348.0 L550.5 347.3 L550.1 349.5 L549.9 350.7 L549.4 350.5 L549.1 351.0 L549.0 347.4 L548.5 349.7 L548.0 351.1 L547.9 349.1 L547.4 348.7 L547.2 350.2 L547.0 349.9 L546.7 350.5 L546.4 349.9 L546.0 351.0 L545.6 350.5 L545.2 350.1 L544.9 349.5 L544.5 350.5 L544.5 349.3 L543.8 350.8 L543.7 350.9 L543.2 350.7 L543.0 348.7 L542.2 350.3 L542.2 350.2 L541.8 350.7 L541.7 348.5 L541.4 349.4 L540.8 349.8 L540.5 351.2 L540.3 349.4 L539.9 350.7 L539.6 350.0 L539.4 351.7 L538.7 350.2 L538.8 348.5 L538.3 349.7 L537.6 350.2 L537.5 351.1 L537.2 350.5 L537.2 349.7 L536.6 348.8 L536.1 350.0 L536.1 349.8 L535.6 351.1 L535.3 350.8 L535.1 348.7 L534.6 347.8 L534.3 349.6 L534.1 350.2 L533.7 349.1 L533.4 349.5 L532.9 351.0 L532.8 350.6 L532.1 348.4 L531.8 350.3 L531.7 350.1 L531.3 349.8 L531.0 350.5 L530.7 350.5 L530.3 352.2 L529.9 350.2 L529.7 349.3 L529.5 349.5 L528.9 350.6 L528.9 351.7 L528.5 350.5 L527.9 350.5 L527.8 350.2 L527.2 349.6 L527.0 350.0 L526.6 348.9 L526.3 350.6 L525.8 350.4 L525.7 350.1 L525.2 349.2 L524.9 349.7 L524.5 349.5 L524.4 350.3 L524.3 349.7 L523.7 350.3 L523.4 350.8 L522.9 351.1 L522.7 349.1 L522.3 349.7 L521.9 349.0 L521.6 351.1 L521.3 349.2 L521.1 351.2 L520.7 349.5 L520.4 350.9 L520.2 349.5 L519.9 349.8 L519.4 350.1 L518.9 350.1 L518.7 349.9 L518.4 350.6 L518.2 351.1 L517.8 350.8 L517.8 349.6 L517.1 348.3 L516.8 350.1 L516.3 347.4 L516.0 350.6 L515.7 350.6 L515.5 348.9 L515.2 350.5 L514.4 349.4 L514.6 351.2 L514.3 349.3 L514.0 349.3 L513.6 349.4 L513.1 350.2 L512.9 349.1 L512.6 352.0 L512.0 349.7 L511.9 351.6 L511.5 349.8 L511.1 349.7 L511.0 349.4 L510.4 349.3 L510.0 350.4 L509.8 351.1 L509.4 350.1 L509.3 349.2 L508.6 350.2 L508.3 349.3 L508.2 347.6 L507.9 350.1 L507.4 348.4 L507.3 349.4 L506.6 350.1 L506.6 349.6 L506.1 349.8 L505.8 351.4 L505.7 350.9 L505.2 351.4 L504.8 350.2 L504.6 350.2 L504.4 351.6 L503.9 349.4 L503.4 350.3 L503.2 350.1 L502.7 350.3 L502.5 350.6 L502.1 350.1 L502.0 350.7 L501.5 349.2 L501.3 350.5 L501.0 349.1 L500.8 351.0 L500.0 350.9 L499.9 349.8 L499.4 349.6 L499.3 350.0 L498.9 350.5 L498.6 348.6 L498.2 349.1 L497.8 350.9 L497.4 349.8 L497.4 348.8 L496.9 348.0 L496.6 349.6 L496.3 348.4 L496.0 350.1 L495.8 349.9 L495.3 351.7 L495.0 348.9 L494.4 350.6 L494.2 348.9 L493.9 349.1 L493.5 349.8 L493.4 349.2 L493.0 351.6 L492.6 349.9 L492.3 349.3 L491.9 352.1 L491.6 349.3 L491.2 349.6 L490.9 349.8 L490.6 349.3 L490.3 350.5 L489.8 351.1 L489.7 348.8 L489.3 349.5 L489.0 349.6 L488.5 348.7 L488.2 348.8 L488.1 349.6 L487.6 349.2 L487.4 350.3 L486.9 350.7 L486.5 350.1 L486.2 350.2 L485.9 349.1 L485.6 349.4 L485.2 350.3 L485.2 350.5 L484.7 349.9 L484.3 350.5 L484.2 349.7 L483.8 348.9 L483.3 350.2 L482.9 349.6 L482.7 348.4 L482.5 350.7 L481.9 350.3 L481.9 350.6 L481.3 349.5 L481.2 351.3 L480.7 350.4 L480.5 350.8 L480.1 349.4 L479.9 349.7 L479.3 351.1 L479.3 349.9 L478.6 350.0 L478.5 351.3 L478.2 351.0 L477.8 350.2 L477.5 351.7 L476.9 348.6 L476.8 349.9 L476.6 349.5 L476.1 351.3 L475.6 351.4 L475.5 349.5 L475.1 350.1 L474.7 350.8 L474.6 350.4 L474.1 350.2 L473.7 350.8 L473.5 351.7 L473.1 350.1 L472.8 349.0 L472.5 349.9 L472.1 349.9 L471.9 349.6 L471.5 350.6 L471.3 350.6 L470.7 350.8 L470.5 350.4 L470.2 350.2 L469.9 349.1 L469.2 349.7 L469.0 349.2 L468.9 350.3 L468.6 349.9 L468.2 349.9 L467.9 350.4 L467.7 349.7 L467.1 350.9 L466.8 350.9 L466.7 349.1 L466.3 351.1 L465.8 349.7 L465.4 349.3 L465.4 349.7 L464.8 348.8 L464.4 350.3 L464.4 351.0 L463.7 348.6 L463.5 350.3 L463.3 350.5 L462.8 350.5 L462.5 350.5 L462.3 350.3 L461.7 349.6 L461.5 350.8 L461.3 350.3 L460.8 350.7 L460.7 350.2 L460.2 349.7 L459.9 349.9 L459.5 350.5 L459.3 350.9 L458.9 348.3 L458.6 348.8 L458.4 348.5 L458.1 349.5 L457.4 349.4 L457.4 350.1 L456.9 349.7 L456.6 351.1 L456.3 349.4 L456.0 349.3 L455.5 349.2 L455.3 349.7 L455.1 350.1 L454.6 349.5 L454.3 349.1 L454.1 348.8 L453.8 350.1 L453.3 349.5 L453.0 349.1 L452.7 349.7 L452.3 350.3 L452.0 351.8 L451.6 351.4 L451.3 349.2 L450.7 349.6 L450.4 348.2 L450.4 348.2 L450.1 348.3 L449.7 350.8 L449.3 349.8 L449.0 348.7 L448.7 349.4 L448.3 349.5 L448.0 349.4 L447.9 351.2 L447.2 348.3 L446.9 349.6 L446.7 350.2 L446.1 350.4 L445.9 348.0 L445.8 350.1 L445.4 348.8 L445.0 349.4 L444.9 348.6 L444.3 350.6 L444.3 352.7 L443.7 350.8 L443.3 349.7 L443.2 348.4 L442.8 350.7 L442.4 351.0 L442.0 349.0 L441.5 350.8 L441.1 348.4 L441.1 348.8 L440.8 350.1 L440.3 348.7 L440.1 350.6 L439.6 351.2 L439.2 350.0 L439.1 350.4 L438.8 351.4 L438.5 350.4 L438.2 351.1 L437.7 351.2 L437.4 349.0 L437.2 351.9 L436.6 351.0 L436.4 350.1 L436.1 350.7 L435.8 350.3 L435.5 350.2 L435.2 349.1 L434.7 349.6 L434.2 349.7 L434.2 350.9 L433.9 350.4 L433.5 350.3 L433.2 349.9 L432.9 351.1 L432.6 347.8 L432.1 349.2 L431.8 350.8 L431.4 349.6 L431.1 350.6 L430.7 351.4 L430.4 350.7 L429.9 348.7 L429.8 349.8 L429.6 349.0 L428.8 350.4 L429.0 350.9 L428.5 349.8 L428.1 350.4 L427.9 349.8 L427.5 351.7 L427.2 350.1 L427.0 350.2 L426.5 350.5 L426.2 350.9 L425.8 350.6 L425.5 350.0 L425.1 350.0 L424.8 350.4 L424.4 350.5 L424.3 349.7 L423.8 349.5 L423.6 349.8 L423.4 350.4 L423.0 349.6 L422.5 349.0 L422.4 349.7 L421.7 349.6 L421.7 350.5 L420.9 349.5 L420.8 349.6 L420.6 351.6 L420.2 350.4 L419.7 349.2 L419.4 351.1 L419.3 349.7 L418.7 349.3 L418.7 350.6 L418.4 348.8 L418.1 349.9 L417.6 350.5 L417.3 350.7 L416.9 349.5 L416.9 349.6 L416.4 349.9 L416.0 351.1 L415.6 348.4 L415.4 350.7 L414.7 350.3 L414.7 351.2 L414.2 349.0 L413.7 351.0 L413.8 349.2 L413.2 350.3 L413.0 349.7 L412.5 347.9 L412.3 350.0 L412.2 350.3 L411.7 350.8 L411.4 349.5 L410.8 349.0 L410.8 350.6 L410.2 349.7 L410.0 350.9 L409.5 351.3 L409.4 349.8 L409.1 349.9 L408.5 349.4 L408.4 348.2 L407.9 350.0 L407.8 350.6 L407.4 350.9 L407.0 350.0 L407.0 351.6 L406.5 349.5 L406.0 350.0 L405.8 349.5 L405.4 349.6 L405.2 349.8 L404.6 349.4 L404.6 349.6 L404.0 350.3 L403.7 350.1 L403.3 349.1 L403.0 350.5 L402.9 349.3 L402.4 350.4 L401.9 350.1 L401.7 348.3 L401.4 349.1 L401.2 350.8 L400.7 349.4 L400.4 349.4 L400.4 349.6 L399.7 350.1 L399.4 350.5 L398.9 349.8 L398.9 351.5 L398.4 349.5 L398.3 349.6 L397.9 349.9 L397.5 350.2 L397.0 351.3 L396.7 352.1 L396.4 349.7 L396.1 349.9 L395.7 350.6 L395.4 349.9 L395.1 350.8 L394.8 349.1 L394.4 350.8 L394.2 348.1 L393.9 350.5 L393.4 350.6 L393.4 352.2 L392.8 349.2 L392.6 350.6 L392.4 350.6 L391.6 349.2 L391.5 350.2 L391.3 349.3 L391.0 349.0 L390.6 348.7 L390.3 349.8 L389.6 349.1 L389.4 348.2 L389.2 350.3 L388.6 348.5 L388.4 350.6 L388.2 350.2 L387.9 349.3 L387.6 348.6 L387.2 349.2 L386.8 348.8 L386.4 349.7 L386.2 349.7 L385.9 352.2 L385.6 348.1 L385.2 349.5 L384.9 350.5 L384.4 350.9 L384.2 351.2 L384.0 349.1 L383.4 350.7 L383.3 347.4 L383.0 349.8 L382.8 350.8 L382.2 350.6 L381.9 348.7 L381.4 349.3 L381.1 348.1 L380.7 349.3 L380.4 348.8 L380.3 350.2 L379.9 349.3 L379.6 350.5 L379.1 349.9 L378.7 349.7 L378.4 351.6 L378.5 351.0 L378.1 348.8 L377.4 351.2 L377.3 350.7 L377.0 351.2 L376.5 350.4 L376.2 348.4 L376.1 349.7 L375.7 347.8 L375.4 348.7 L375.0 349.4 L374.6 351.1 L374.4 350.0 L373.9 350.2 L373.8 350.7 L373.3 349.2 L373.0 351.0 L372.6 350.2 L372.2 349.1 L372.0 349.5 L371.6 349.8 L371.2 350.5 L371.1 351.3 L370.9 349.7 L370.4 349.8 L370.0 351.6 L369.6 352.9 L369.2 351.6 L369.1 350.2 L368.7 349.7 L368.3 350.6 L368.0 350.3 L367.6 349.3 L367.5 351.2 L367.0 352.3 L366.7 349.2 L366.6 349.3 L365.8 349.5 L365.8 348.8 L365.4 350.7 L365.0 348.7 L364.7 350.6 L364.5 350.3 L364.0 350.7 L363.6 348.6 L363.6 350.1 L363.2 350.2 L362.8 350.8 L362.5 350.3 L362.1 349.5 L361.7 351.0 L361.4 351.2 L361.1 351.2 L360.7 349.3 L360.2 350.5 L360.1 349.2 L359.8 349.8 L359.4 350.7 L359.2 348.7 L358.8 352.5 L358.5 351.1 L358.1 349.3 L357.8 349.5 L357.5 349.9 L357.2 349.9 L356.7 348.9 L356.3 349.9 L356.3 348.6 L355.7 349.4 L355.5 351.6 L355.1 349.9 L354.8 349.6 L354.6 351.4 L354.3 350.3 L353.7 350.6 L353.3 349.5 L352.7 351.0 L352.9 349.7 L352.7 350.8 L352.2 350.6 L351.8 351.6 L351.6 350.9 L351.1 350.0 L350.9 349.0 L350.7 349.7 L350.3 349.4 L349.9 351.4 L349.4 349.6 L349.1 347.9 L348.7 350.3 L348.7 350.7 L348.3 349.2 L347.8 350.6 L347.5 348.8 L347.2 350.2 L346.8 349.8 L346.6 350.3 L346.3 350.4 L345.9 349.4 L345.5 350.7 L344.9 349.5 L344.9 350.1 L344.4 351.3 L344.0 349.1 L344.2 350.1 L343.5 351.5 L343.2 351.1 L342.9 349.4 L342.5 349.4 L342.4 350.5 L341.7 349.4 L341.6 350.1 L341.2 348.7 L341.1 350.6 L340.7 348.5 L340.3 350.1 L339.7 350.6 L339.7 349.4 L339.4 348.6 L339.0 348.8 L338.6 348.2 L338.3 351.6 L337.8 348.2 L337.6 348.8 L337.3 350.3 L336.9 350.0 L336.5 350.9 L336.3 351.2 L335.8 350.4 L335.5 349.9 L335.4 349.5 L334.9 349.8 L334.6 350.9 L334.2 350.6 L334.0 350.6 L333.6 348.5 L333.2 349.3 L333.0 349.4 L332.7 349.5 L332.2 349.1 L331.9 350.7 L331.8 351.0 L331.3 351.7 L331.1 349.6 L330.7 350.0 L330.3 350.2 L330.0 350.1 M329.9 351.9 L329.5 349.4 L329.3 349.7 L329.0 349.2 L328.4 350.0 L328.3 349.1 L327.9 350.3 L327.5 348.8 L327.4 350.7 L327.2 350.5 L326.5 350.4 L326.4 349.5 L326.0 351.5 L325.8 352.3 L325.4 350.0 L325.0 349.3 L324.8 350.8 L324.4 349.9 L323.9 350.3 L323.5 350.8 L323.3 348.6 L323.1 350.9 L322.8 349.0 L322.3 348.8 L322.0 349.7 L321.5 351.7 L321.4 349.4 L321.1 350.6 L320.7 349.1 L320.4 350.8 L320.0 350.5 L319.6 351.4 L319.5 350.3 L318.9 350.1 L318.8 348.1 L318.6 350.4 L318.0 351.0 L317.7 350.3 L317.3 350.3 L317.0 350.7 L316.7 351.0 L316.3 349.1 L316.1 350.0 L315.7 350.6 L315.3 350.4 L315.1 349.1 L314.9 347.9 L314.6 350.4 L314.1 350.9 L313.8 351.9 L313.4 350.5 L313.1 349.1 L312.9 350.6 L312.6 350.0 L312.3 349.4 L311.6 348.5 L311.7 348.1 L311.2 349.3 L311.0 349.6 L310.5 350.2 L310.3 350.1 L309.8 350.3 L309.4 352.2 L309.2 350.0 L308.8 351.6 L308.5 349.2 L308.3 349.3 L308.0 349.5 L307.6 348.1 L307.3 351.9 L306.7 350.4 L306.7 350.9 L306.1 352.0 L305.9 350.6 L305.5 351.9 L305.1 347.5 L305.0 351.5 L304.4 350.4 L304.2 349.5 L304.1 351.3 L303.3 350.1 L303.0 349.3 L303.0 348.0 L302.5 352.0 L302.3 347.3 L301.9 350.2 L301.5 351.8 L301.3 350.8 L300.8 349.4 L300.5 349.8 L300.3 349.4 L299.8 350.4 L299.4 350.0 L299.1 348.7 L299.1 348.5 L298.8 351.4 L298.4 348.7 L297.9 348.9 L297.6 352.7 L297.2 349.2 L297.0 348.7 L296.8 349.1 L296.3 351.0 L296.0 349.3 L295.3 350.0 L295.3 347.6 L294.8 349.5 L294.6 350.2 L294.4 350.2 L294.0 351.8 L293.7 350.7 L293.5 347.0 L292.7 348.4 L292.5 349.2 L292.5 349.9 L292.1 350.2 L291.6 350.9 L291.3 348.3 L291.0 347.7 L290.8 351.1 L290.3 349.1 L290.0 347.6 L289.5 349.2 L289.5 349.7 L289.1 348.9 L288.7 348.9 L288.2 351.3 L288.0 349.0 L287.8 350.6 L287.7 350.5 L287.3 349.9 L286.7 352.9 L286.3 348.8 L285.9 353.1 L285.8 349.2 L285.3 350.0 L285.1 350.7 L284.8 351.5 L284.5 351.1 L284.0 350.0 L283.9 350.0 L283.4 351.7 L283.0 352.1 L282.8 349.8 L282.5 351.8 L282.1 351.1 L281.9 350.8 L281.6 349.3 L281.4 349.1 L280.8 351.0 L280.6 347.5 L279.8 350.0 L280.0 351.1 L279.5 348.8 L279.3 352.5 L278.8 352.5 L278.6 349.6 L278.2 350.6 L277.8 350.7 L277.4 350.3 L276.8 350.4 L276.9 351.5 L276.5 352.8 L276.2 351.1 L276.0 351.2 L275.6 351.3 L275.2 350.4 L274.7 351.9 L274.6 350.8 L274.2 350.3 L274.0 352.2 L273.5 349.5 L273.1 351.0 L272.9 351.2 L272.9 351.6 L272.2 350.1 L272.1 350.8 L271.6 351.8 L271.1 352.7 L271.1 352.0 L271.0 351.9 L270.4 351.3 L269.9 352.3 L269.7 349.3 L269.3 353.1 L269.4 353.6 L268.8 352.5 L268.1 351.6 L268.2 354.2 L267.8 352.0 L267.3 354.3 L267.1 352.6 L266.8 352.1 L266.7 352.8 L266.1 352.3 L265.7 353.0 L265.6 353.8 L265.1 353.0 L264.7 352.9 L264.5 353.4 L264.3 353.9 L263.9 353.6 L263.5 354.3 L263.4 354.4 L263.1 354.1 L262.4 354.7 L262.2 354.0 L261.9 355.3 L261.6 354.6 L261.4 355.2 L261.0 354.1 L260.7 352.9 L260.4 354.0 L259.9 354.7 L259.5 355.1 L259.5 354.8 L259.3 356.5 L258.8 353.6 L258.5 353.2 L258.3 355.0 L257.8 354.6 L257.4 355.5 L257.2 356.3 L257.0 358.6 L256.7 354.3 L256.4 354.7 L255.9 355.9 L255.8 354.5 L255.6 355.4 L255.0 357.7 L254.7 356.4 L254.6 356.5 L254.2 357.9 L253.7 355.0 L253.5 357.1 L253.4 357.0 L253.0 357.5 L252.8 356.2 L252.4 357.0 L252.0 357.4 L251.8 358.5 L251.3 357.0 L251.2 358.6 L250.8 355.7 L250.4 358.6 L250.2 359.1 L249.8 357.4 L249.4 358.2 L249.1 358.6 L249.0 359.1 L248.7 360.2 L248.3 359.2 L248.1 358.9 L247.6 359.1 L247.4 359.7 L247.3 360.4 L246.7 359.9 L246.7 359.2 L246.2 359.5 L246.0 359.2 L245.6 359.2 L245.3 359.8 L245.0 359.8 L244.8 361.4 L244.3 359.4 L244.0 360.9 L243.9 359.7 L243.4 361.9 L243.1 361.5 L242.8 362.7 L242.5 362.1 L242.0 360.5 L241.9 361.8 L241.6 361.2 L241.2 361.4 L241.0 361.0 L240.8 361.9 L240.6 362.5 L240.1 362.8 L240.0 365.3 L239.5 362.6 L239.3 363.0 L238.9 363.0 L238.7 362.9 L238.3 363.0 L238.0 363.5 L237.5 363.4 L237.5 364.5 L236.9 364.3 L236.8 363.1 L236.7 364.2 L236.3 364.6 L235.9 364.2 L235.6 364.3 L235.4 364.6 L235.0 365.5 L234.8 365.2 L234.4 364.6 L234.1 365.2 L233.9 366.7 L233.6 364.6 L233.3 366.4 L233.0 365.6 L232.9 369.9 L232.5 366.8 L232.1 366.3 L231.6 366.3 L231.6 365.0 L231.2 366.2 L231.0 369.0 L230.5 367.4 L230.4 366.9 L229.8 367.3 L229.7 367.5 L229.2 366.6 L229.3 367.9 L228.8 368.5 L228.3 366.5 L228.4 368.0 L228.0 365.5 L227.8 366.7 L227.2 369.5 L227.1 370.1 L226.9 370.9 L226.4 367.8 L226.2 369.2 L225.8 369.1 L225.5 370.7 L225.4 370.1 L224.9 370.0 L224.7 370.7 L224.5 369.7 L224.1 371.4 L223.9 370.2 L223.3 371.9 L223.4 371.1 L222.8 371.3 L222.7 370.0 L222.4 369.7 L222.2 369.9 L221.8 372.2 L221.5 369.6 L221.4 373.5 L221.2 371.9 L220.7 371.0 L220.4 372.9 L220.1 371.5 L219.8 373.0 L219.5 372.9 L219.3 374.6 L219.2 374.5 L218.7 374.7 L218.4 373.4 L218.3 375.4 L217.9 374.2 L218.1 374.6 L217.6 375.1 L217.2 375.1 L216.7 373.7 L216.6 375.9 L216.3 373.8 L216.0 376.1 L215.6 375.8 L215.6 376.1 L215.3 375.1 L215.0 377.5 L214.7 376.5 L214.6 377.8 L214.2 376.3 L213.8 376.5 L213.7 377.6 L213.7 378.8 L213.4 376.5 L212.9 377.5 L212.8 377.8 L212.6 378.3 L212.4 378.3 L212.0 380.1 L211.8 379.9 L211.5 379.4 L211.1 380.5 L211.1 380.9 L210.8 379.4 L210.6 379.5 L210.2 381.2 L209.9 382.9 L209.7 378.4 L209.6 380.5 L209.1 382.1 L209.2 380.7 L209.0 382.7 L208.2 382.2 L208.4 380.9 L208.0 381.9 L207.8 383.0 L207.5 381.9 L207.3 383.7 L207.1 383.6 L206.8 383.2 L206.7 384.1 L206.3 383.6 L205.9 384.4 L205.8 383.4 L205.6 386.1 L205.3 384.6 L204.9 386.3 L205.1 387.5 L204.6 387.2 L204.4 385.7 L203.9 386.1 L203.9 386.2 L203.6 386.8 L203.5 385.8 L203.4 385.0 L202.9 387.5 L202.6 387.4 L202.6 389.2 L202.3 389.7 L202.0 386.6 L201.8 387.3 L201.5 389.3 L201.3 390.0 L201.1 389.1 L200.6 389.3 L200.7 387.5 L200.5 392.1 L200.0 389.2 L199.9 390.8 L199.7 390.8 L199.6 389.7 L199.3 391.8 L199.0 392.7 L198.9 391.4 L198.6 391.8 L198.3 392.6 L198.1 393.2 L197.9 393.3 L197.8 391.7 L197.4 391.9 L197.2 392.6 L197.0 390.6 L196.9 392.3 L197.0 393.7 L196.4 393.5 L196.4 393.6 L196.1 395.6 L196.0 395.3 L195.8 396.1 L195.5 395.3 L195.1 395.3 L195.0 395.1 L195.0 396.5 L194.8 394.6 L194.5 395.8 L194.5 397.6 L194.0 398.2 L193.7 397.5 L193.6 396.6 L193.4 398.6 L193.2 397.5 L193.0 398.4 L192.6 397.8 L192.7 401.0 L192.2 400.9 L192.1 398.7 L192.0 398.6 L191.8 400.0 L191.5 401.0 L191.2 401.9 L191.0 400.8 L191.0 399.8 L190.6 401.7 L190.3 401.9 L189.9 400.2 L190.0 401.8 L189.7 402.1 L189.6 401.6 L189.2 403.1 L189.1 404.2 L188.9 404.4 L188.8 402.7 L188.4 403.3 L188.1 404.8 L188.1 404.0 L187.9 404.3 L187.5 407.2 L187.5 402.4 L187.2 404.7 L187.0 404.7 L186.5 405.8 L186.6 407.9 L186.3 406.2 L186.1 406.3 L185.8 407.0 L185.7 406.8 L185.2 407.8 L185.3 410.3 L185.2 407.2 L184.8 407.9 L184.6 408.3 L184.4 406.4 L184.3 409.5 L183.9 409.1 L183.6 407.3 L183.4 409.3 L183.2 410.0 L183.1 409.2 L183.0 411.5 L182.6 410.0 L182.3 409.3 L182.3 411.9 L182.1 411.2 L181.7 411.7 L181.6 410.2 L181.3 410.6 L181.1 411.3 L180.9 412.4 L180.6 412.7 L180.3 414.5 L180.1 414.9 L179.9 413.7 L179.8 413.7 L179.6 416.1 L179.5 414.4 L179.0 415.6 L178.9 414.3 L178.5 414.9 L178.3 415.0 L178.3 414.8 L178.0 416.2 L178.0 415.1 L177.6 416.1 L177.3 416.9 L177.0 418.9 L176.6 414.9 L176.8 417.3 L176.5 418.1 L176.6 417.3 L176.2 418.8 L175.7 418.7 L175.4 418.9 L175.0 418.2 L175.0 418.6 L174.8 418.9 L174.4 418.3 L174.4 419.8 L174.2 418.7 L173.8 419.1 L173.7 418.9 L173.3 421.7 L173.4 420.2 L172.9 420.1 L172.7 422.2 L172.4 421.1 L172.3 422.2 L172.0 421.9 L172.1 422.7 L171.9 422.8 L171.4 420.6 L171.3 424.7 L171.2 424.4 L171.0 422.1 L170.6 424.8 L170.7 423.9 L170.4 424.5 L170.4 426.0 L169.6 426.0 L169.6 426.2 L169.6 427.6 L169.4 426.9 L169.1 425.4 L168.8 424.9 L168.8 427.4 L168.5 425.0 L168.5 426.7 L168.3 426.9 L168.1 426.8 L167.5 429.3 L167.6 428.4 L167.6 428.1 L167.4 429.6 L167.1 428.5 L166.9 430.4 L166.5 431.6 L166.5 429.5 L166.4 429.8 L166.0 431.4 L165.8 428.4 L165.5 429.4 L165.4 429.9 L165.1 429.5 L165.0 431.5 L164.7 432.1 L164.3 432.0 L164.2 432.2 L164.2 433.5 L163.9 433.9 L163.9 434.3 L163.6 433.2 L163.4 433.6 L163.1 435.4 L163.0 434.5 L162.6 435.7 L162.4 434.1 L162.4 434.8 L162.1 434.4 L161.7 435.3 L161.8 436.1 L161.6 435.4 L161.3 438.2 L161.2 434.8 L160.9 437.6 L160.7 435.8 L160.3 437.5 L160.0 436.6 L160.0 437.8 L159.4 438.0 L159.5 437.4 L159.2 437.2 L159.2 438.0 L158.9 439.0 L158.8 440.1 L158.5 441.2 L158.3 438.0 L158.3 440.5 L157.8 439.8 L157.5 440.6 L157.7 441.1 L157.4 441.9 L157.1 441.7 L156.9 441.6 L156.8 443.5 L156.5 442.4 L156.4 442.4 L156.1 443.8 L155.8 441.7 L155.8 442.2 L155.4 444.9 L155.4 443.4 L154.9 442.0 L154.8 445.0 L154.7 445.7 L154.4 443.9 L154.4 443.6 L154.1 445.2 L153.9 445.8 L153.4 445.1 L153.5 445.0 L153.3 446.8 L152.8 447.1 L152.9 445.1 L152.7 445.9 L152.4 447.0 L152.1 446.9 L151.9 448.0 L151.8 448.6 L151.6 450.3 L151.4 449.0 L151.5 449.8 L151.1 447.5 L150.9 448.7 L150.5 450.8 L150.5 448.4 L150.4 451.6 L150.0 451.1 L150.2 450.9 L149.7 450.9 L149.6 450.1 L149.3 450.5 L149.2 451.3 L148.7 451.7 L149.0 453.7 L148.4 451.7 L148.7 452.4 L148.2 451.5 L148.1 453.8 L148.4 453.9 L147.8 455.3 L147.7 456.5 L147.5 455.3 L147.5 454.2 L147.4 455.6 L147.4 456.0 L146.8 455.9 L147.0 455.2 L147.0 457.0 L147.0 455.7 L146.7 457.2 L146.9 457.3 L147.2 455.2 L147.1 458.8 L147.4 460.7 L147.2 458.4 L147.5 458.4 L147.8 460.3 L147.9 458.2 L148.3 459.8 L148.3 460.3 L148.7 459.7 L148.8 460.3 L149.2 459.6 L149.6 460.0 L150.0 461.4 L150.1 459.9 L150.4 460.3 L150.9 460.3 L151.1 461.6 L151.5 460.8 L152.0 460.4 L152.2 461.7 L152.3 459.4 L152.9 459.6 L153.2 461.9 L153.3 463.7 L153.7 461.3 L154.2 462.2 L154.4 460.5 L154.7 462.2 L155.1 462.3 L155.4 462.8 L156.0 461.5 L156.1 464.4 L156.3 461.5 L156.6 464.1 L156.9 461.5 L157.4 463.5 L157.4 464.2 L158.0 465.1 L158.2 462.8 L158.3 461.3 L159.0 463.9 L159.2 462.4 L159.6 462.0 L159.8 462.6 L160.2 462.3 L160.4 464.1 L161.0 463.6 L161.3 464.2 L161.5 464.4 L161.8 463.2 L162.2 464.3 L162.6 464.9 L162.8 465.6 L163.1 463.9 L163.4 463.5 L163.8 462.9 L164.1 463.5 L164.4 463.9 L164.9 464.2 L165.1 462.6 L165.5 463.6 L165.6 463.8 L166.2 463.5 L166.4 463.5 L166.7 464.5 L167.0 463.1 L167.3 464.7 L167.7 463.1 L168.1 464.4 L168.4 463.1 L168.9 465.5 L169.1 465.0 L169.4 465.7 L169.7 463.4 L169.9 462.9 L170.3 462.9 L170.7 464.1 L170.8 465.4 L171.5 465.0 L171.9 465.0 L171.8 463.0 L172.5 465.4 L172.8 465.0 L173.1 463.7 L173.4 461.6 L173.9 463.4 L173.9 464.1 L174.3 465.8 L174.7 464.4 L175.0 464.1 L175.1 465.8 L175.7 465.7 L176.1 464.5 L176.3 464.7 L176.7 465.3 L177.1 463.2 L177.0 464.4 L177.5 463.5 L177.8 462.9 L178.2 464.4 L178.4 465.0 L178.8 465.7 L179.3 464.5 L179.8 464.9 L179.7 463.4 L180.4 462.0 L180.7 462.9 L181.0 463.9 L181.4 462.8 L181.5 465.4 L182.0 464.6 L182.0 463.0 L182.4 465.0 L182.9 463.8 L183.2 464.8 L183.3 462.8 L183.6 463.7 L184.2 462.6 L184.5 462.8 L184.8 463.9 L185.1 464.6 L185.2 462.7 L185.9 462.8 L186.1 461.5 L186.4 462.1 L186.9 462.7 L187.0 460.8 L187.5 461.6 L187.6 460.8 L187.6 462.1 L188.1 462.7 L188.3 462.1 L188.9 461.3 L189.4 460.5 L189.4 459.8 L190.0 461.4 L190.2 462.9 L190.6 460.9 L190.9 461.1 L191.0 460.6 L191.5 459.8 L191.8 462.0 L192.2 461.5 L192.7 459.1 L192.7 459.3 L193.3 461.9 L193.4 459.5 L193.8 460.3 L194.0 459.1 L194.2 460.5 L194.7 459.2 L194.9 459.3 L195.3 458.7 L195.5 461.7 L195.8 462.4 L196.3 459.8 L196.6 460.1 L196.9 459.9 L197.2 459.3 L197.6 459.1 L197.9 458.7 L198.2 459.8 L198.3 457.6 L198.8 457.9 L199.0 459.4 L199.2 457.1 L199.7 460.2 L200.1 458.1 L200.3 458.5 L200.9 459.6 L201.0 458.0 L201.3 458.1 L201.6 457.3 L201.7 458.3 L202.2 458.4 L202.5 456.7 L203.1 458.2 L203.1 458.4 L203.5 457.8 L203.7 456.4 L204.1 458.1 L204.2 458.5 L204.8 456.4 L205.1 454.9 L205.4 456.0 L206.0 456.7 L206.0 457.9 L206.4 457.7 L206.6 457.1 L207.1 455.6 L207.5 457.0 L207.8 456.1 L207.9 454.9 L208.1 454.0 L208.6 456.8 L208.7 454.0 L209.1 456.9 L209.4 457.9 L209.7 455.4 L210.1 454.4 L210.4 454.5 L210.7 454.4 L211.1 455.4 L211.3 456.0 L211.9 454.0 L212.1 454.4 L212.3 453.9 L212.7 455.7 L212.9 455.5 L213.2 453.4 L213.7 453.9 L213.7 454.3 L214.3 452.2 L214.8 453.4 L214.6 454.0 L215.5 452.3 L215.3 453.9 L215.5 453.6 L215.9 452.9 L216.3 454.5 L216.7 452.3 L216.8 453.6 L217.4 452.8 L217.8 454.1 L217.9 452.0 L218.3 453.4 L218.7 453.3 L219.1 453.7 L219.2 454.1 L219.6 450.7 L219.9 452.1 L220.2 450.9 L220.4 453.0 L220.8 453.3 L221.2 451.4 L221.3 451.8 L221.7 452.9 L222.1 451.6 L222.4 451.1 L222.7 449.4 L223.2 450.2 L223.4 451.9 L223.4 449.2 L224.1 451.0 L224.1 450.8 L224.4 450.4 L224.9 451.1 L225.1 449.4 L225.2 451.5 L225.8 449.5 L226.1 450.9 L226.4 449.1 L226.5 449.9 L227.1 449.1 L227.2 451.1 L227.7 448.1 L227.7 448.4 L228.1 450.5 L228.3 449.7 L228.7 448.7 L229.2 448.3 L229.5 447.1 L229.7 448.1 L230.2 448.6 L230.4 449.4 L230.7 449.0 L231.0 449.4 L231.3 448.2 L231.6 446.9 L231.9 447.2 L232.3 449.0 L232.6 447.4 L232.9 448.7 L233.0 445.4 L233.2 446.4 L233.8 445.9 L234.0 446.9 L234.4 445.7 L234.5 445.0 L235.0 446.2 L235.1 443.7 L235.6 445.4 L235.8 446.4 L236.1 444.6 L236.5 445.6 L236.7 444.6 L237.1 445.0 L237.5 445.5 L237.9 445.6 L238.0 445.5 L238.4 444.1 L238.7 446.4 L239.1 445.0 L239.5 443.8 L239.4 445.8 L239.9 443.8 L240.2 446.2 L240.6 444.9 L240.4 443.7 L240.9 443.2 L241.1 442.7 L241.8 442.6 L242.0 443.0 L242.3 444.6 L242.6 443.2 L242.9 442.8 L243.2 443.2 L243.4 442.3 L243.5 441.2 L244.1 440.8 L244.3 443.8 L244.6 441.8 L244.9 443.7 L245.4 443.9 L245.5 442.0 L245.7 442.4 L246.2 441.1 L246.6 441.2 L246.6 441.3 L246.9 441.0 L247.2 442.5 L247.7 440.7 L248.0 441.6 L248.4 440.6 L248.5 441.0 L248.8 442.2 L249.1 438.4 L249.6 441.2 L249.7 439.1 L250.0 439.9 L250.3 439.1 L250.6 438.9 L251.0 437.8 L251.2 436.2 L251.8 441.3 L252.1 439.7 L252.0 438.4 L252.5 436.5 L252.6 439.1 L253.0 439.9 L253.2 438.6 L253.6 436.1 L254.0 437.2 L254.2 437.9 L254.4 437.4 L254.6 438.6 L254.9 436.2 L255.6 436.4 L255.7 434.2 L256.0 438.0 L256.5 437.3 L256.5 436.0 L256.9 434.4 L257.1 437.1 L257.5 434.5 L257.5 434.5 L258.0 433.6 L258.3 434.0 L258.7 434.4 L258.8 434.1 L259.2 436.3 L259.6 435.7 L259.8 434.9 L260.2 434.0 L260.5 434.4 L260.7 432.9 L260.9 434.6 L261.3 433.0 L261.5 433.3 L261.9 434.1 L262.2 432.6 L262.6 431.8 L263.0 434.3 L263.1 431.2 L263.4 431.5 L263.6 431.4 L264.0 431.8 L264.3 432.2 L264.4 428.7 L264.6 431.5 L264.9 433.5 L265.4 433.1 L265.7 432.5 L265.9 431.3 L266.0 431.5 L266.4 430.5 L266.5 429.1 L266.9 431.1 L267.2 431.8 L267.5 430.7 L268.1 430.2 L268.0 431.0 L268.4 430.2 L268.6 431.0 L269.0 429.1 L269.4 427.4 L269.5 429.8 L269.6 430.0 L270.1 428.0 L270.5 429.0 L270.6 429.3 L271.1 425.3 L271.1 430.9 L271.5 428.9 L271.8 427.6 L272.3 426.4 L272.5 425.8 L272.7 431.0 L272.8 426.8 L273.1 427.8 L273.4 426.1 L274.0 426.3 L274.3 427.2 L274.4 425.3 L274.6 426.1 L274.7 425.7 L275.2 426.3 L275.6 426.6 L275.9 425.3 L276.1 426.9 L276.3 424.6 L276.7 424.5 L276.9 424.9 L277.3 424.3 L277.5 425.3 L277.9 421.1 L278.1 422.1 L278.3 421.5 L278.8 425.4 L278.8 424.5 L279.3 422.7 L279.4 423.7 L279.7 421.2 L280.1 422.6 L280.3 424.5 L280.5 423.4 L280.8 424.9 L281.1 421.8 L281.5 423.4 L281.8 422.1 L282.1 422.2 L282.2 421.9 L282.7 422.3 L283.0 422.8 L283.1 421.2 L283.4 421.4 L283.9 420.7 L284.1 421.0 L284.5 419.6 L284.6 421.5 L284.8 421.0 L285.2 420.4 L285.5 419.8 L285.8 418.9 L286.0 418.5 L286.3 418.1 L286.9 418.3 L286.9 420.1 L287.4 419.4 L287.4 417.1 L287.8 417.5 L288.1 419.9 L288.5 420.1 L288.7 419.0 L288.9 420.3 L289.3 417.0 L289.3 418.1 L289.5 416.7 L289.9 419.7 L290.6 417.6 L290.8 417.4 L291.2 417.2 L291.3 415.8 L291.4 416.4 L291.7 413.7 L292.2 415.6 L292.3 414.8 L292.6 416.7 L292.8 417.1 L293.2 415.8 L293.3 414.2 L293.9 413.9 L294.0 415.8 L294.6 414.5 L294.9 414.4 L295.0 413.3 L295.4 414.6 L295.7 414.4 L295.9 414.9 L296.1 412.8 L296.6 413.7 L296.8 412.0 L297.0 413.6 L297.2 413.2 L297.6 412.7 L298.0 413.9 L298.2 411.3 L298.4 414.3 L298.7 412.9 L299.0 412.9 L299.3 412.4 L299.6 411.2 L299.8 411.2 L300.1 412.7 L300.5 411.4 L300.8 411.7 L301.0 410.7 L301.6 411.9 L301.6 411.5 L302.0 409.2 L302.2 412.7 L302.4 411.5 L302.8 411.1 L303.2 410.4 L303.3 409.8 L303.7 410.6 L304.3 412.4 L304.1 409.3 L304.5 408.0 L304.8 409.0 L305.1 409.0 L305.3 409.8 L305.6 407.2 L305.9 407.9 L306.2 407.9 L306.5 409.2 L307.0 409.2 L307.1 408.0 L307.3 408.8 L307.7 407.6 L308.0 407.4 L308.1 404.6 L308.5 405.9 L308.7 405.5 L309.1 407.1 L309.5 406.5 L309.7 405.1 L310.1 406.2 L310.2 405.8 L310.5 406.2 L310.8 405.0 L311.2 404.7 L311.6 406.7 L311.6 404.9 L312.1 406.1 L312.3 403.9 L312.7 404.4 L312.7 404.2 L313.0 403.3 L313.7 405.0 L313.9 402.5 L314.2 404.1 L314.3 401.3 L314.7 404.3 L314.9 403.4 L315.1 404.5 L315.5 405.3 L315.7 402.2 L315.9 402.8 L316.3 401.2 L316.5 401.9 L317.0 402.3 L317.3 402.2 L317.6 402.8 L317.9 402.4 L318.0 402.7 L318.4 400.7 L318.8 401.5 L319.0 400.0 L319.1 400.8 L319.2 397.8 L319.8 400.6 L320.0 400.6 L320.5 399.9 L320.5 399.8 L321.0 398.2 L321.2 399.2 L321.4 399.1 L321.8 399.8 L322.1 399.9 L322.5 398.8 L322.8 398.9 L323.2 399.3 L323.4 397.8 L323.5 399.7 L323.8 400.7 L324.2 398.7 L324.4 397.6 L324.6 398.2 L324.8 399.1 L325.4 399.1 L325.6 396.0 L326.2 397.7 L326.1 396.4 L326.6 396.6 L326.8 397.2 L327.1 397.3 L327.4 396.3 L327.8 395.5 L328.0 396.1 L328.2 395.0 L328.5 397.9 L328.8 394.1 L329.1 396.3 L329.4 395.6 L329.6 395.3 L329.9 394.0 L330.3 394.5 L330.4 394.5 L330.9 394.1 L331.2 394.3 L331.1 394.5 L331.6 393.7 L332.0 394.6 L332.0 394.7 L332.7 393.2 L333.0 394.4 L333.2 393.5 L333.6 392.7 L333.8 393.7 L334.2 394.2 L334.4 392.5 L334.6 390.7 L335.0 393.4 L335.0 393.5 L335.4 391.0 L335.9 391.9 L336.2 392.4 L336.3 389.1 L336.5 392.4 L336.7 392.2 L337.4 392.2 L337.6 392.7 L338.1 389.8 L338.3 391.8 L338.7 393.1 L338.8 388.0 L339.0 389.9 L339.3 390.9 L339.7 389.2 L339.7 387.9 L340.3 390.1 L340.4 389.7 L340.9 388.6 L341.0 389.5 L341.3 390.1 L341.8 390.0 L341.6 389.2 L342.4 387.3 L342.6 388.1 L342.7 385.8 L343.2 387.0 L343.3 388.2 L343.8 388.4 L344.0 387.7 L344.4 387.5 L344.5 385.2 L344.8 385.8 L345.4 385.8 L345.5 386.3 L345.7 386.1 L345.9 389.0 L346.3 387.6 L346.6 385.2 L346.8 385.4 L347.2 385.4 L347.5 385.2 L347.6 385.1 L348.1 383.3 L348.5 386.7 L348.6 386.0 L348.9 385.8 L349.3 385.0 L349.5 385.3 L349.6 384.2 L350.1 382.3 L350.4 384.5 L350.7 384.2 L351.2 382.6 L351.3 381.4 L351.5 385.0 L351.8 382.4 L352.4 383.2 L352.6 382.5 L352.6 385.0 L353.2 381.3 L353.3 384.0 L353.6 379.9 L354.1 383.6 L354.4 381.8 L354.5 379.8 L354.9 382.2 L355.2 381.9 L355.4 380.0 L355.8 382.1 L356.0 381.5 L356.5 381.9 L356.8 379.7 L356.9 380.3 L357.1 379.9 L357.5 381.0 L358.0 380.1 L358.2 379.5 L358.5 382.0 L358.8 379.7 L358.9 381.4 L359.4 381.0 L359.7 379.1 L359.9 377.7 L360.4 379.9 L360.5 380.3 L360.8 380.7 L361.3 379.7 L361.6 379.6 L361.8 378.3 L362.1 378.1 L362.5 382.3 L362.8 379.9 L362.9 377.1 L363.5 378.8 L363.9 378.8 L364.0 376.2 L364.2 377.8 L364.7 378.6 L365.0 379.7 L365.1 379.5 L365.5 377.2 L365.7 377.1 L366.3 376.9 L366.3 377.5 L366.9 378.1 L367.0 375.9 L367.4 376.7 L367.6 376.1 L368.0 375.8 L368.4 375.9 L368.7 378.4 L368.7 378.2 L369.2 377.7 L369.5 374.1 L370.0 376.2 L370.0 378.4 L370.3 376.0 L370.6 374.6 L371.0 375.9 L371.4 374.9 L371.5 374.6 L372.0 375.1 L372.3 375.2 L372.6 374.4 L372.8 374.4 L373.3 373.1 L373.2 374.1 L373.6 374.8 L374.2 373.9 L374.1 373.5 L374.6 371.9 L374.8 374.6 L375.0 371.9 L375.3 373.8 L375.7 372.5 L376.0 373.6 L376.3 373.7 L376.6 372.0 L376.8 368.9 L377.1 369.8 L377.5 370.8 L377.6 370.7 L377.8 371.9 L378.4 373.6 L378.3 372.0 L378.9 370.9 L379.3 372.4 L379.3 370.6 L379.4 371.6 L379.9 370.9 L380.3 368.2 L380.5 371.2 L381.0 371.9 L381.2 369.4 L381.3 370.5 L381.8 370.1 L381.8 369.0 L382.3 368.8 L382.6 370.1 L383.0 368.1 L383.3 368.1 L383.6 369.5 L383.6 369.4 L384.4 369.9 L384.2 367.4 L384.6 366.4 L385.1 368.9 L385.2 365.8 L385.6 366.9 L385.6 367.0 L385.9 368.9 L386.3 366.9 L386.5 365.4 L386.9 366.5 L387.1 367.9 L387.3 364.2 L387.8 364.6 L387.9 367.0 L388.2 365.9 L388.6 364.4 L388.8 365.2 L389.2 365.3 L389.6 363.8 L389.9 364.3 L390.2 366.4 L390.4 364.9 L390.7 365.7 L390.8 364.2 L391.1 363.5 L391.4 364.3 L391.7 362.8 L392.0 364.0 L392.2 363.1 L392.6 363.0 L393.1 362.8 L393.1 361.9 L393.3 364.3 L393.7 361.0 L394.0 362.7 L394.3 360.9 L394.9 363.1 L395.0 361.7 L395.4 362.0 L395.4 362.2 L395.9 361.9 L396.1 361.5 L396.4 361.6 L396.6 361.4 L397.0 360.3 L397.0 360.4 L397.6 360.3 L398.1 359.6 L398.3 359.6 L398.1 361.5 L398.7 358.3 L398.9 361.6 L399.2 359.0 L399.5 360.1 L400.0 359.3 L400.2 358.9 L400.3 359.6 L400.8 360.7 L401.0 358.5 L401.6 358.5 L401.4 357.8 L401.9 360.4 L402.1 359.3 L402.5 359.1 L402.5 357.8 L403.0 355.5 L403.3 358.0 L403.6 355.3 L403.8 356.4 L404.2 358.1 L404.5 356.2 L404.7 355.9 L405.1 354.2 L405.4 357.2 L405.8 356.7 L405.8 355.6 L406.3 356.4 L406.8 354.1 L406.7 354.7 L407.2 355.8 L407.5 356.4 L408.0 355.3 L408.3 353.8 L408.5 354.5 L408.7 356.1 L408.9 354.1 L409.3 354.9 L409.6 355.0 L410.0 353.8 L410.5 354.3 L410.8 352.2 L410.9 353.5 L411.2 354.0 L411.5 354.6 L411.9 355.2 L412.1 353.2 L412.7 354.2 L412.7 353.4 L413.1 352.6 L413.4 352.5 L413.9 353.2 L414.3 353.2 L414.5 352.3 L414.8 356.1 L415.1 353.0 L415.4 353.6 L415.6 352.6 L416.2 355.8 L416.6 350.3 L416.8 352.2 L417.1 352.8 L417.3 353.8 L417.9 352.4 L417.8 351.3 L418.2 354.0 L418.9 353.0 L418.9 351.9 L419.2 351.8 L419.4 351.8 L420.0 352.2 L420.4 350.0 L420.6 352.0 L420.7 351.1 L421.2 352.3 L421.4 352.0 L422.0 350.4 L422.4 353.0 L422.6 352.3 L422.9 350.4 L423.3 350.2 L423.7 350.6 L423.7 351.6 L424.2 352.6 L424.3 350.2 L424.7 350.2 L425.2 351.6 L425.3 350.9 L425.7 350.9 L426.2 350.7 L426.5 350.5 L426.5 352.7 L427.1 351.8 L427.4 350.3 L427.6 352.0 L428.3 352.6 L428.4 351.0 L428.7 350.8 L429.1 349.9 L429.4 350.5 L429.5 350.6 L430.0 351.7 M430.1 350.7 L430.4 350.5 L430.6 351.3 L430.9 351.1 L431.4 350.8 L431.7 350.2 L432.1 350.4 L432.3 352.1 L432.6 348.8 L432.9 351.4 L433.4 350.8 L433.5 349.7 L433.7 350.3 L434.2 350.9 L434.5 349.1 L435.0 350.5 L435.2 350.9 L435.8 349.5 L436.0 350.5 L436.4 351.6 L436.8 350.5 L437.1 349.6 L437.4 348.9 L437.5 348.7 L438.0 351.2 L438.2 350.2 L438.7 350.2 L438.8 350.1 L439.3 349.7 L439.5 351.9 L440.0 351.0 L440.4 351.7 L440.7 349.2 L440.8 350.9 L441.4 350.9 L441.4 349.3 L441.9 349.5 L442.0 349.6 L442.6 351.2 L442.7 350.5 L443.2 349.7 L443.5 350.9 L444.0 349.7 L444.5 350.4 L444.6 350.2 L445.0 349.5 L445.2 351.2 L445.5 350.4 L445.8 348.2 L446.0 350.1 L446.4 351.7 L446.9 348.3 L447.1 351.1 L447.6 350.5 L447.7 349.2 L448.4 350.3 L448.7 349.3 L448.8 348.9 L449.4 350.6 L449.5 350.5 L450.0 348.6 L450.1 349.8 L450.4 350.3 L451.0 348.8 L451.2 351.3 L451.6 349.6 L451.9 350.6 L452.1 350.9 L452.4 349.4 L452.8 350.6 L452.9 350.4 L453.5 350.6 L453.9 349.9 L454.1 351.2 L454.7 350.9 L454.7 351.7 L455.0 351.2 L455.5 349.0 L455.7 349.7 L456.2 350.7 L456.3 351.2 L456.8 349.6 L457.1 350.3 L457.4 350.5 L457.9 350.2 L458.0 351.2 L458.4 349.4 L458.9 350.7 L459.2 349.5 L459.5 350.6 L459.6 349.4 L460.1 350.0 L460.3 351.1 L460.7 349.4 L460.9 350.3 L461.1 350.8 L461.8 350.1 L462.1 350.0 L462.2 350.2 L462.7 349.4 L463.0 350.9 L463.3 350.9 L463.7 351.8 L464.0 350.5 L464.2 351.2 L464.6 349.8 L465.1 350.7 L465.2 349.4 L465.8 350.4 L466.1 349.9 L466.4 351.1 L466.7 348.4 L467.0 350.1 L467.4 349.9 L467.6 350.8 L467.7 349.6 L468.2 349.8 L468.8 351.3 L469.1 349.6 L469.2 349.9 L469.6 351.2 L469.9 348.3 L470.1 350.6 L470.6 350.5 L471.0 350.4 L471.3 348.6 L471.6 348.9 L471.7 349.4 L472.5 349.4 L472.5 350.8 L472.9 349.8 L473.4 351.5 L473.6 350.2 L474.0 350.7 L474.0 349.6 L474.5 349.6 L474.8 350.6 L475.1 351.0 L475.4 349.6 L476.0 351.3 L476.1 350.0 L476.7 351.6 L477.0 349.1 L477.2 349.9 L477.4 350.8 L477.8 350.1 L478.1 349.7 L478.5 350.8 L478.8 351.0 L479.2 349.8 L479.5 350.9 L479.9 349.8 L480.2 349.4 L480.7 351.3 L481.1 349.7 L481.2 349.7 L481.5 350.8 L481.8 349.3 L482.3 349.3 L482.6 349.9 L482.8 350.2 L483.1 351.0 L483.6 350.0 L484.0 349.6 L484.1 349.0 L484.5 349.9 L484.6 349.7 L485.1 351.1 L485.5 348.7 L485.6 348.5 L486.0 348.5 L486.5 349.9 L486.6 350.5 L487.1 351.6 L487.7 348.7 L487.8 350.3 L488.3 349.6 L488.6 351.6 L488.7 350.4 L489.1 351.5 L489.5 350.1 L489.9 351.1 L490.3 350.4 L490.5 349.5 L490.8 351.0 L491.0 349.8 L491.5 348.1 L491.7 350.0 L492.2 349.0 L492.6 350.6 L492.6 351.5 L493.3 350.4 L493.4 350.6 L493.9 349.0 L494.2 349.4 L494.6 349.6 L494.9 351.9 L495.3 349.7 L495.5 350.3 L495.6 348.4 L496.0 349.6 L496.5 350.2 L496.8 349.9 L497.1 349.8 L497.3 350.5 L497.5 350.5 L498.0 349.0 L498.7 348.8 L498.7 350.6 L499.0 350.8 L499.4 348.8 L499.8 350.7 L500.0 348.8 L500.1 349.9 L500.6 351.2 L500.9 348.6 L501.4 350.0 L501.6 349.8 L502.0 349.0 L502.2 350.7 L502.6 349.2 L503.2 349.4 L503.4 349.0 L503.7 350.4 L503.9 350.5 L504.2 351.2 L504.8 349.8 L505.0 349.3 L505.4 351.4 L505.7 349.4 L506.0 350.6 L506.0 351.5 L506.7 350.7 L507.2 348.3 L507.3 349.0 L507.6 349.3 L508.0 350.7 L508.2 349.3 L508.4 350.7 L508.9 350.2 L509.3 350.1 L509.7 349.9 L509.8 349.3 L510.2 351.2 L510.6 350.1 L511.0 351.3 L511.5 349.1 L511.6 348.4 L512.0 351.2 L512.1 348.9 L512.8 350.0 L512.7 349.6 L513.4 349.8 L513.7 349.6 L513.9 348.9 L514.1 348.8 L514.6 350.1 L514.8 349.3 L515.4 351.5 L515.2 350.0 L515.9 351.2 L515.9 349.5 L516.5 350.6 L516.8 349.3 L517.3 349.0 L517.4 349.7 L517.7 349.7 L517.9 352.2 L518.5 348.7 L518.9 349.3 L519.1 350.5 L519.4 349.7 L519.8 350.0 L520.2 350.6 L520.5 349.7 L520.6 349.2 L521.1 348.6 L521.4 349.8 L521.5 350.3 L522.2 350.0 L522.5 350.9 L522.7 349.4 L523.2 350.1 L523.5 349.1 L523.7 348.1 L524.2 350.3 L524.4 349.4 L524.7 350.4 L525.2 349.2 L525.2 348.4 L526.0 349.0 L526.1 349.5 L526.4 349.2 L526.8 349.5 L527.0 350.3 L527.4 349.8 L528.0 350.2 L528.1 349.6 L528.4 349.1 L528.7 348.9 L529.2 347.8 L529.5 350.3 L529.7 350.8 L530.2 348.8 L530.4 348.9 L530.7 349.0 L531.1 350.1 L531.3 349.8 L531.5 349.5 L532.0 349.7 L532.5 348.2 L532.7 349.6 L533.1 349.6 L533.5 350.2 L533.7 349.1 L534.0 349.2 L534.3 349.9 L534.8 352.2 L535.1 349.2 L535.4 351.6 L535.8 348.9 L536.1 349.8 L536.4 348.8 L536.6 350.9 L537.0 349.8 L537.5 349.9 L537.7 350.6 L538.0 350.9 L538.3 349.1 L538.5 349.9 L538.9 349.2 L539.4 350.7 L539.6 347.8 L540.0 351.7 L540.5 349.5 L540.6 347.8 L540.9 349.9 L541.5 348.9 L541.7 349.7 L541.8 349.8 L542.3 350.7 L542.5 348.0 L542.9 350.0 L543.2 350.7 L543.4 348.5 L543.8 350.4 L544.5 350.4 L544.6 349.2 L544.9 347.9 L545.4 349.8 L545.4 349.2 L545.9 351.1 L546.4 349.5 L546.6 350.3 L546.9 350.0 L547.2 349.8 L547.6 348.5 L548.0 349.0 L548.2 349.8 L548.6 349.6 L548.9 349.6 L549.0 350.4 L549.7 349.7 L550.1 350.3 L550.3 349.8 L550.6 350.0 L550.8 349.2 L551.2 348.3 L551.8 350.5 L552.0 350.5 L552.1 350.3 L552.7 349.0 L552.8 350.7 L553.1 349.8 L553.5 349.9 L553.9 349.1 L554.1 349.3 L554.6 349.2 L554.9 350.1 L555.4 349.1 L555.3 349.7 L555.8 349.2 L556.2 348.6 L556.7 349.8 L556.6 349.9 L557.1 349.8 L557.2 347.0 L557.9 350.7 L558.1 349.7 L558.5 348.9 L558.9 351.5 L559.2 349.7 L559.4 350.4 L559.9 349.8 L560.5 347.6 L560.4 350.8 L560.8 348.6 L561.1 350.6 L561.5 349.5 L561.7 348.8 L562.2 347.4 L562.3 349.2 L562.8 348.7 L563.4 349.6 L563.3 348.5 L563.7 350.2 L564.2 349.0 L564.3 349.1 L564.5 351.3 L564.9 350.2 L565.4 348.8 L565.9 349.7 L566.1 347.9 L566.4 348.7 L566.8 349.2 L567.0 348.6 L567.5 348.3 L567.9 349.8 L568.0 348.6 L568.5 348.4 L568.8 348.5 L569.0 348.4 L569.3 349.7 L569.8 349.2 L569.8 347.5 L570.1 350.0 L570.8 349.8 L571.2 348.5 L571.3 347.8 L571.7 348.6 L571.7 348.0 L572.1 348.9 L572.5 348.4 L572.9 349.5 L573.3 346.8 L573.5 347.6 L573.9 348.4 L574.2 347.6 L574.6 347.6 L575.0 346.9 L575.3 349.6 L575.6 347.6 L575.8 348.3 L576.1 346.9 L576.2 347.1 L576.6 347.3 L577.2 348.8 L577.4 348.4 L577.7 349.0 L578.0 348.3 L578.2 348.2 L578.4 346.5 L578.9 346.0 L579.2 347.7 L579.2 345.7 L580.0 346.7 L580.1 345.6 L580.5 345.5 L580.9 345.9 L581.2 345.3 L581.3 345.4 L581.8 345.8 L582.0 345.2 L582.2 345.6 L582.6 344.7 L582.7 345.0 L583.1 344.1 L583.3 345.1 L583.6 343.3 L584.0 344.3 L584.4 344.2 L584.5 342.6 L584.8 342.8 L585.0 342.7 L585.7 343.2 L585.6 343.0 L586.0 342.7 L586.0 343.0 L586.5 343.6 L586.6 341.9 L586.9 342.3 L587.4 342.0 L587.8 342.3 L587.8 340.6 L588.2 340.6 L588.4 340.7 L588.6 340.5 L588.9 340.9 L589.3 340.4 L589.4 339.5 L589.6 339.9 L589.9 339.3 L590.3 339.5 L590.4 339.5 L590.8 339.0 L590.8 339.8 L591.3 340.1 L591.4 339.0 L591.7 337.8 L592.2 339.0 L592.4 339.1 L592.4 337.8 L592.7 337.9 L593.1 338.0 L593.3 337.4 L593.5 337.6 L593.8 337.1 L593.9 336.3 L593.9 336.1 L594.6 336.0 L594.6 335.6 L595.0 336.3 L595.2 335.6 L595.4 335.2 L595.5 335.4 L596.0 334.8 L596.2 335.1 L596.5 335.1 L596.7 334.2 L596.9 333.6 L597.0 333.1 L597.3 334.3 L597.6 333.4 L597.5 332.7 L597.9 332.7 L598.2 332.0 L598.6 332.9 L598.9 332.2 L599.2 331.6 L599.1 330.9 L599.4 332.3 L599.6 331.2 L599.8 329.8 L600.1 330.4 L600.4 330.4 L600.7 330.3 L600.7 329.4 L601.1 330.3 L601.2 329.8 L601.7 329.3 L602.0 328.7 L602.0 327.9 L602.2 328.3 L602.6 328.2 L602.8 327.5 L602.8 328.0 L603.1 328.0 L603.5 327.2 L603.5 327.0 L604.1 326.9 L604.1 327.5 L604.4 327.1 L604.5 325.4 L605.0 325.7 L604.9 327.0 L605.2 325.4 L605.4 326.1 L605.7 325.3 L605.8 325.4 L606.1 324.4 L606.5 324.4 L606.7 324.3 L606.9 323.8 L607.2 323.6 L607.4 324.0 L607.7 323.1 L607.8 323.5 L607.9 322.4 L608.5 322.3 L608.3 322.5 L608.6 322.2 L608.8 322.2 L609.5 321.5 L609.4 321.2 L609.8 320.8 L609.7 320.0 L609.9 320.3 L610.3 320.8 L610.5 320.0 L610.8 319.9 L611.1 320.1 L611.2 318.9 L611.4 319.2 L611.7 318.6 L611.9 319.1 L612.1 317.6 L612.5 317.9 L612.4 317.6 L612.8 317.4 L613.1 317.1 L613.2 318.0 L613.4 316.8 L613.9 316.6 L614.0 315.7 L614.4 315.5 L614.6 315.5 L614.5 315.1 L614.7 315.7 L615.0 314.9 L615.3 314.7 L615.0 314.6 L615.7 314.0 L616.0 313.6 L616.1 313.6 L616.4 313.8 L616.5 313.4 L616.6 312.8 L617.1 313.7 L617.2 312.9 L617.5 312.8 L617.7 312.9 L618.1 311.5 L618.2 312.2 L618.4 311.6 L618.5 311.4 L618.7 310.3 L619.0 310.4 L619.3 310.5 L619.4 310.2 L619.4 310.7 L619.8 309.6 L620.3 309.6 L620.2 309.1 L620.5 308.4 L620.5 308.6 L620.9 308.6 L621.1 309.1 L621.5 308.6 L621.7 307.5 L621.9 307.1 L622.2 307.3 L622.2 306.8 L622.7 307.9 L622.7 306.9 L623.0 306.3 L623.4 305.8 L623.3 305.3 L623.6 305.5 L623.8 304.1 L624.0 304.9 L624.2 304.6 L624.4 305.3 L624.6 303.5 L624.9 304.5 L624.9 303.6 L625.2 303.9 L625.4 302.9 L625.6 303.2 L626.0 303.2 L626.1 303.7 L626.3 301.9 L626.4 302.0 L626.7 301.7 L627.1 301.3 L627.1 301.2 L627.5 301.0 L627.7 300.6 L627.9 299.7 L627.9 300.4 L628.2 299.3 L628.6 299.7 L628.7 300.0 L628.8 298.7 L629.1 299.0 L629.4 298.9 L629.3 298.5 L629.9 298.0 L630.0 298.0 L630.1 298.1 L630.5 297.0 L630.3 297.2 L630.7 297.3 L631.1 296.5 L631.4 295.9 L631.3 296.6 L631.5 296.3 L631.9 296.2 L632.1 295.5 L632.2 294.9 L632.4 295.7 L632.9 295.3 L632.8 294.8 L632.9 293.9 L633.3 294.0 L633.7 293.3 L633.8 292.9 L634.0 293.2 L634.0 293.0 L634.4 292.9 L634.9 292.4 L634.9 293.1 L635.1 291.4 L635.0 292.2 L635.4 291.2 L635.5 291.5 L636.0 290.4 L636.0 291.6 L636.2 291.0 L636.4 289.3 L636.3 290.4 L637.0 289.6 L636.8 289.7 L637.2 289.0 L637.3 288.7 L637.6 287.9 L637.8 288.1 L638.0 288.0 L638.5 287.0 L638.4 287.1 L638.7 287.3 L639.0 287.2 L639.1 286.5 L639.3 287.1 L639.8 286.0 L639.9 286.3 L639.9 286.3 L640.2 285.1 L640.3 285.8 L640.7 284.9 L640.7 284.3 L641.2 285.2 L641.3 285.0 L641.5 283.8 L641.7 284.2 L642.0 283.9 L642.0 283.2 L642.4 284.0 L642.7 282.7 L642.9 282.2 L642.9 282.3 L643.3 281.9 L643.3 281.5 L643.6 281.4 L643.8 280.6 L644.1 281.3 L644.3 280.1 L644.7 281.0 L644.9 280.6 L645.1 279.9 L645.2 279.6 L645.6 279.3 L645.8 279.3 L645.8 279.9 L646.0 279.0 L646.4 278.4 L646.8 279.2 L646.8 277.9 L647.0 277.7 L647.4 278.7 L647.4 277.7 L647.6 277.7 L648.0 277.2 L648.3 277.0 L648.4 276.8 L648.6 276.6 L648.7 277.0 L649.3 275.2 L649.2 274.4 L649.7 275.1 L649.7 274.3 L650.2 274.9 L650.5 274.0 L650.4 274.3 L650.8 274.6 L651.1 273.6 L651.3 273.3 L651.4 273.8 L651.8 272.8 L651.9 272.9 L652.0 272.6 L652.5 271.8 L652.7 272.6 L652.8 271.4 L653.0 272.1 L653.3 271.7 L653.7 270.7 L653.6 270.8 L654.1 271.2 L654.4 270.4 L654.3 271.3 L654.7 269.6 L654.9 270.4 L655.1 268.8 L655.4 269.2 L655.3 269.6 L655.7 267.9 L655.8 268.7 L656.2 267.8 L656.6 267.5 L656.5 267.5 L656.8 267.3 L657.0 267.1 L657.4 266.8 L657.5 266.5 L657.7 265.3 L657.9 267.1 L658.2 267.2 L658.3 266.1 L658.4 265.5 L659.0 264.9 L659.1 265.3 L659.2 265.1 L659.5 264.2 L659.8 264.4 L659.9 264.6 L660.2 264.1 L660.4 263.7 L660.8 263.5 L660.6 262.8 L660.9 262.9 L661.5 262.8 L661.4 262.1 L661.7 262.2 L661.8 262.5 L661.9 262.3 L662.4 260.3 L662.7 260.5 L662.9 261.6 L662.9 261.0 L663.2 260.8 L663.7 259.5 L663.7 260.1 L663.9 260.1 L664.3 259.8 L664.4 258.9 L664.4 258.7 L664.8 259.0 L665.2 258.7 L665.3 259.1 L665.5 256.8 L665.8 257.5 L665.9 258.3 L666.0 256.7 L666.4 257.2 L666.6 257.7 L666.9 256.0 L667.0 256.6 L667.2 257.3 L667.4 255.1 L667.8 254.5 L668.2 256.0 L668.1 254.9 L668.6 254.9 L668.7 254.7 L668.8 255.2 L669.0 254.0 L669.4 254.5 L669.5 254.2 L669.7 253.5 L669.9 253.9 L670.4 253.2 L670.2 252.7 L670.7 254.3 L671.1 251.0 L671.1 251.3 L671.6 251.1 L671.5 251.2 L671.8 251.4 L672.1 250.9 L672.1 252.2 L672.4 250.2 L672.7 249.6 L672.8 250.1 L673.2 249.5 L673.5 249.2 L673.4 249.9 L673.8 249.3 L674.0 249.5 L674.1 247.9 L674.6 248.7 L674.8 248.1 L674.8 247.4 L675.1 246.6 L675.3 247.3 L675.6 246.4 L675.8 247.4 L676.0 246.9 L676.3 246.7 L676.4 248.0 L676.8 246.8 L677.0 244.3 L677.1 245.8 L677.4 245.3 L677.9 245.1 L677.8 244.4 L678.2 245.1 L678.6 242.3 L678.5 243.1 L678.8 244.2 L678.7 243.6 L679.4 243.9 L679.5 242.8 L679.7 242.4 L679.9 243.1 L680.2 242.4 L680.5 240.9 L680.6 242.5 L680.8 240.8 L681.0 242.0 L681.3 241.3 L681.5 241.3 L681.6 241.4 L681.8 239.7 L682.2 240.7 L682.3 239.9 L682.6 239.5 L682.7 239.5 L682.9 238.9 L683.3 239.0 L683.5 239.0 L684.1 238.1 L684.0 239.1 L684.4 238.1 L684.6 237.0 L684.8 237.9 L684.9 237.8 L685.3 236.1 L685.5 237.1 L685.5 236.4 L686.0 236.6 L686.1 236.1 L686.2 236.3 L686.5 235.9 L686.9 233.8 L687.2 235.3 L687.3 235.5 L687.7 235.4 L687.9 235.5 L687.8 234.6 L688.1 235.1 L688.5 234.6 L688.6 233.3 L688.9 232.9 L689.3 234.2 L689.4 233.5 L689.6 231.4 L689.8 231.7 L690.4 233.2 L690.2 232.2 L690.6 230.5 L691.0 231.9 L691.1 232.1 L691.2 231.7 L691.4 230.9 L692.0 230.5 L692.1 230.0 L692.1 229.8 L692.4 230.2 L692.8 231.8 L693.2 231.6 L693.2 229.2 L693.6 227.9 L693.5 228.8 L693.7 228.4 L694.0 228.2 L694.5 226.8 L694.7 227.9 L695.0 227.1 L694.9 227.5 L695.6 225.9 L695.6 227.0 L696.2 225.8 L696.1 225.8 L696.1 225.8 L696.5 225.6 L696.7 225.4 L697.2 225.1 L697.3 224.9 L697.7 224.6 L697.6 224.4 L697.9 224.4 L698.2 226.1 L698.5 225.0 L698.6 223.5 L699.0 222.6 L699.3 224.5 L699.4 223.3 L699.6 223.4 L699.8 223.9 L700.2 221.0 L700.3 221.9 L700.6 222.3 L701.0 223.2 L701.0 221.6 L701.3 221.6 L701.5 221.2 L702.0 221.0 L702.0 220.9 L702.3 220.1 L702.5 219.7 L702.9 219.8 L703.0 220.4 L703.1 220.7 L703.6 219.6 L703.8 219.0 L704.1 220.1 L704.2 219.3 L704.4 219.2 L704.5 218.2 L705.0 217.7 L705.3 218.3 L705.3 217.5 L705.6 218.5 L705.9 216.4 L706.1 217.3 L706.4 216.7 L706.5 215.6 L706.8 216.0 L707.2 215.1 L707.1 215.5 L707.6 215.4 L707.7 217.8 L708.0 214.2 L708.2 215.5 L708.5 214.3 L708.7 214.8 L709.0 213.9 L709.1 213.3 L709.4 215.1 L709.7 214.6 L710.1 211.7 L710.1 213.0 L710.7 212.6 L710.7 211.2 L711.0 212.6 L711.0 212.7 L711.3 212.1 L711.6 212.2 L711.8 213.2 L712.0 210.9 L712.4 212.3 L712.5 213.0 L713.1 207.9 L713.1 210.2 L713.4 211.5 L713.4 210.3 L714.0 209.2 L714.3 210.9 L714.2 210.2 L714.5 207.6 L714.7 209.7 L715.3 208.5 L715.2 208.7 L715.4 207.1 L715.6 208.5 L716.1 208.0 L716.4 206.7 L716.4 207.0 L716.9 208.5 L717.1 208.4 L717.2 205.2 L717.6 207.0 L717.9 206.0 L718.2 205.5 L718.3 206.1 L718.7 207.1 L718.8 205.9 L719.1 204.2 L719.5 205.0 L719.5 205.2 L719.7 205.6 L719.9 204.2 L720.2 204.2 L720.3 204.1 L720.7 204.3 L720.9 201.6 L721.2 204.6 L721.4 203.3 L721.8 202.8 L722.0 201.5 L722.4 202.6 L722.7 204.1 L723.0 201.3 L723.0 200.1 L723.1 201.9 L723.6 201.3 L723.8 201.0 L724.0 199.3 L724.4 201.1 L724.8 201.1 L724.8 195.9 L725.0 200.2 L725.3 200.5 L725.4 198.7 L726.0 197.2 L725.9 199.2 L726.2 201.1 L726.6 199.1 L726.7 200.7 L726.9 198.6 L727.4 197.8 L727.6 197.0 L727.6 199.0 L728.1 196.0 L728.4 196.5 L728.7 196.5 L728.8 197.0 L729.1 196.5 L729.2 194.8 L729.5 194.9 L729.9 197.5 L730.0 195.7 L730.1 195.4 L730.4 194.8 L730.9 195.2 L730.8 193.9 L731.1 195.6 L731.3 195.1 L731.8 194.0 L731.8 194.7 L732.0 193.4 L732.3 192.9 L732.6 194.1 L732.9 192.8 L732.9 191.8 L733.1 194.0 L733.3 192.0 L733.9 192.4 L734.0 193.2 L734.3 190.2 L734.5 190.9 L734.5 192.0 L734.7 190.5 L735.0 190.1 L735.6 190.2 L735.6 189.8 L735.9 189.5 L736.0 190.0 L736.7 189.5 L736.6 190.9 L736.6 189.2 L737.0 190.4 L737.3 188.6 L737.6 190.0 L737.7 187.9 L738.1 189.0 L738.3 187.7 L738.5 188.9 L738.6 186.3 L739.0 186.4 L739.3 187.0 L739.4 185.4 L739.6 187.6 L740.2 185.7 L740.2 186.2 L740.4 186.5 L740.4 185.8 L740.9 184.2 L740.8 183.4 L741.4 182.8 L741.6 183.4 L741.7 183.3 L741.9 183.0 L742.2 184.0 L742.4 182.0 L742.5 181.5 L743.1 183.1 L743.0 184.5 L743.4 181.5 L743.6 182.1 L744.1 181.9 L743.9 182.8 L744.5 182.4 L744.6 180.8 L744.5 182.0 L744.9 180.9 L745.2 181.4 L745.4 182.2 L745.8 178.0 L746.1 178.5 L746.4 178.3 L746.4 178.2 L746.8 179.3 L747.0 179.1 L747.3 180.5 L747.5 180.0 L747.7 178.6 L747.9 178.0 L748.3 178.5 L748.4 178.1 L748.6 177.0 L748.7 177.9 L749.3 176.5 L749.5 176.7 L749.6 176.4 L750.0 175.7 L750.1 175.4 L750.4 175.9 L750.6 175.5 L751.0 174.2 L751.3 176.9 L751.3 176.7 L751.5 176.4 L752.0 175.7 L752.2 174.2 L752.4 173.2 L752.4 172.9 L752.9 171.9 L753.1 173.1 L753.3 171.5 L753.6 173.1 L753.8 173.0 L754.1 172.0 L754.3 171.8 L754.5 172.1 L755.0 172.5 L755.1 171.3 L755.4 173.1 L755.7 170.4 L755.7 170.4 L756.0 170.3 L756.2 170.4 L756.5 170.6 L756.7 170.7 L757.2 169.6 L757.3 171.3 L757.4 167.7 L757.9 169.5 L757.9 169.1 L758.1 167.5 L758.6 167.2 L758.8 168.5 L759.0 169.3 L759.4 168.4 L759.6 167.7 L759.8 167.2 L760.2 166.8 L760.3 166.7 L760.7 167.5 L760.8 167.7 L761.1 167.0 L761.0 165.6 L761.5 166.6 L762.0 166.8 L762.0 163.8 L762.3 165.7 L762.5 164.6 L762.6 165.1 L763.1 163.5 L763.5 163.5 L763.8 164.2 L763.8 163.5 L764.0 163.4 L764.2 162.8 L764.6 163.9 L764.8 164.3 L765.2 162.1 L765.4 163.0 L765.4 162.1 L765.7 162.6 L766.2 163.2 L766.4 162.2 L766.6 161.6 L767.0 160.5 L767.1 162.4 L767.3 162.7 L767.6 159.0 L767.9 161.2 L767.8 160.3 L768.4 159.0 L768.6 161.7 L768.8 160.3 L769.0 161.7 L769.5 158.6 L769.6 158.7 L769.8 157.5 L770.2 158.8 L770.2 156.9 L770.9 158.0 L770.8 159.3 L771.1 158.4 L771.2 158.7 L771.6 157.6 L771.8 158.0 L772.1 157.0 L772.3 155.6 L772.4 157.1 L773.1 156.4 L773.3 155.5 L773.5 155.0 L773.8 157.0 L774.0 154.0 L774.1 154.6 L774.8 155.6 L774.7 155.6 L774.9 155.0 L775.5 153.1 L775.5 155.5 L775.8 154.1 L775.9 152.6 L776.3 154.9 L776.6 153.5 L776.9 151.6 L777.0 150.6 L777.5 152.8 L777.5 152.2 L777.7 152.9 L778.3 152.6 L778.5 151.4 L778.7 152.4 L778.9 152.0 L779.3 150.6 L779.5 152.2 L779.7 151.5 L780.1 150.9 L780.3 151.2 L780.4 149.9 L781.0 149.7 L780.9 150.2 L781.3 149.2 L781.7 151.5 L782.0 150.0 L782.3 150.3 L782.6 151.2 L782.5 150.7 L783.3 151.2 L783.3 148.1 L783.7 150.4 L783.9 148.2 L784.1 148.3 L784.6 148.5 L784.9 148.2 L785.1 148.0 L785.3 148.1 L785.9 149.2 L786.0 145.4 L786.4 145.9 L786.6 146.0 L786.9 147.4 L787.3 147.0 L787.6 147.2 L787.9 148.5 L788.1 146.5 L788.4 144.9 L788.5 146.6 L788.9 147.8 L789.2 147.8 L789.4 145.7 L789.8 145.7 L790.1 145.8 L790.3 145.9 L790.5 145.0 L791.0 144.6 L791.3 146.4 L791.7 146.3 L791.8 144.7 L792.1 143.9 L792.3 143.8 L792.8 143.1 L793.1 142.9 L793.5 143.7 L793.6 143.1 L794.2 144.0 L794.3 143.1 L794.6 142.6 L795.0 143.0 L795.4 140.8 L795.7 143.5 L795.7 142.8 L796.1 144.2 L796.6 142.3 L796.9 142.5 L797.2 141.7 L797.3 144.5 L797.8 142.6 L798.0 143.4 L798.4 141.8 L798.8 142.6 L799.0 141.0 L799.4 141.3 L799.8 141.5 L800.1 140.8 L800.1 142.3 L800.5 142.4 L800.7 142.7 L801.4 140.5 L801.6 140.8 L801.9 141.3 L802.2 141.9 L802.4 140.0 L803.0 141.0 L803.1 142.2 L803.7 141.3 L803.9 141.1 L804.2 140.1 L804.6 140.9 L804.8 142.0 L805.2 142.4 L805.7 139.8 L806.1 141.9 L806.2 141.2 L806.7 140.7 L806.6 143.4 L807.2 142.4 L807.5 140.7 L807.7 140.8 L808.2 142.1 L808.7 140.5 L808.8 141.8 L809.2 142.6 L809.6 140.9 L809.9 142.5 L810.0 142.8 L810.3 141.8 L810.8 143.0 L811.1 143.3 L811.2 143.2 L811.8 142.3 L811.8 143.9 L812.1 142.8 L812.5 143.4 L812.7 143.4 L813.1 143.5 L813.5 141.6 L813.7 144.7 L814.1 144.3 L814.2 144.1 L814.4 144.6 L815.1 143.7 L815.4 144.1 L815.7 144.9 L815.9 142.4 L816.3 143.9 L816.5 144.2 L817.0 144.6 L817.0 144.5 L817.5 144.4 L817.7 145.6 L818.1 146.2 L818.4 146.0 L818.4 146.7 L818.9 146.4 L819.1 147.4 L819.6 147.7 L820.0 145.8 L820.0 145.6 L820.5 145.9 L820.7 146.3 L821.0 147.5 L821.4 147.3 L821.9 147.1 L822.1 146.3 L822.4 146.7 L822.6 147.0 L823.0 147.4 L823.4 144.3 L823.7 147.5 L824.0 147.8 L824.4 146.6 L824.9 148.7 L825.2 148.1 L825.5 148.0 L825.7 145.8 L825.9 148.1 L826.2 147.4 L826.7 147.5 L826.9 145.0 L827.1 145.7 L827.6 146.9 L828.2 145.8 L828.3 148.4 L828.6 146.0 L828.9 147.8 L829.3 147.4 L829.4 149.8 L830.0 147.0 L830.4 148.4 L830.6 146.5 L831.0 145.7 L831.2 147.2 L831.7 148.0 L831.8 146.2 L832.0 147.7 L832.5 147.2 L832.9 146.6 L833.3 146.7 L833.4 146.6 L833.9 145.8 L834.2 146.5 L834.6 146.7 L834.8 145.5 L835.2 143.6 L835.6 146.8 L835.8 145.5 L836.1 146.6 L836.4 145.2 L836.7 146.4 L837.1 145.8 L837.3 145.7 L837.9 145.9 L838.2 146.3 L838.4 144.2 L838.8 147.2 L839.1 147.0 L839.6 146.3 L839.9 144.4 L840.1 146.9 L840.5 146.1 L840.5 147.8 L841.0 145.8 L841.3 146.2 L841.7 147.4 L841.9 144.4 L842.2 146.3 L842.5 146.6 L842.8 144.6 L843.1 146.1 L843.4 147.5 L843.9 147.7 L844.1 149.2 L844.5 148.7 L844.8 146.6 L845.0 148.9 L845.0 148.7 L845.4 148.6 L845.9 147.5 L846.0 150.7 L846.3 150.8 L846.5 149.6 L846.6 148.7 L847.1 148.6 L847.3 148.8 L847.4 151.0 L847.8 148.6 L848.2 151.7 L848.3 150.6 L848.4 151.3 L848.8 151.9 L848.9 153.8 L849.0 152.3 L849.5 151.7 L849.8 152.4 L849.9 152.4 L850.3 152.5 L850.5 152.8 L850.7 152.0 L850.9 153.5 L851.2 152.1 L851.4 154.8 L851.6 153.5 L851.9 153.0 L852.0 155.1 L852.2 155.4 L852.6 155.0 L852.6 153.7 L853.1 154.2 L853.1 156.3 L853.5 158.2 L853.5 156.5 L853.7 156.8 L853.9 157.4 L854.0 156.3 L854.2 158.5 L854.3 157.1 L854.4 158.0 L854.6 157.4 L854.9 157.3 L854.7 158.1 L855.4 158.2 L855.4 159.0 L855.4 161.2 L855.8 160.3 L856.0 159.7 L856.1 161.0 L855.8 160.3 L856.0 162.3 L856.5 162.2 L856.4 161.4 L856.7 162.0 L856.8 162.4 L857.0 161.6 L857.1 161.8 L857.3 163.1 L857.2 162.6 L857.5 163.8 L857.6 165.0 L857.9 164.2 L857.9 165.3 L858.2 166.8 L858.3 164.9 L858.4 167.1 L858.4 165.1 L858.6 165.1 L858.7 166.7 L859.0 166.7 L858.9 165.7 L859.0 168.7 L859.4 168.6 L859.4 167.1 L859.7 168.2 L859.8 168.6 L859.6 167.8 L859.9 169.6 L860.1 168.3 L860.2 168.2 L860.4 171.6 L860.6 169.9 L860.5 170.1 L860.6 170.9 L860.8 170.7 L861.0 173.9 L861.0 172.5 L861.2 173.2 L861.4 173.5 L861.3 175.1 L861.6 171.1 L861.5 174.4 L861.9 174.1 L861.7 174.3 L861.8 175.7 L861.9 175.5 L862.1 173.4 L862.3 175.7 L862.4 175.6 L862.5 177.2 L862.6 174.3 L862.7 177.3 L862.8 177.2 L862.9 178.0 L863.0 178.0 L863.2 175.9 L863.1 179.0 L863.2 178.5 L863.5 178.1 L863.4 180.1 L863.7 179.5 L863.6 181.5 L863.7 181.2 L863.8 179.4 L863.9 181.6 L864.3 181.1 L864.1 181.4 L864.3 181.6 L864.4 183.1 L864.5 181.6 L864.4 183.1 L864.8 181.5 L864.8 183.6 L864.8 182.4 L865.0 182.7 L864.8 184.2 L865.0 183.5 L865.2 186.0 L865.4 184.2 L865.3 187.2 L865.6 186.7 L865.6 186.3 L865.5 187.2 L865.7 187.1 L865.9 189.5 L865.7 188.0 L866.1 187.2 L865.8 188.5 L866.2 188.1 L866.3 188.7 L866.4 188.5 L866.4 188.9 L866.4 190.6 L866.3 190.0 L866.8 191.1 L866.8 190.4 L866.9 190.9 L866.8 190.8 L866.7 192.9 L867.1 193.6 L867.0 192.2 L867.2 193.5 L867.4 191.5 L867.2 192.0 L867.5 194.3 L867.5 192.1 L867.6 196.9 L867.9 195.5 L867.7 196.5 L867.9 195.0 L868.0 194.1 L868.3 194.9 L868.2 195.2 L868.4 197.2 L868.3 195.7 L868.3 196.2 L868.6 198.9 L868.8 196.5 L868.8 197.4 L868.8 199.7 L868.8 201.1 L869.2 197.3 L869.2 196.9 L869.0 198.9 L869.0 200.1 L869.6 200.2 L869.4 200.0 L869.5 199.6 L869.6 202.0 L869.7 201.0 L869.7 201.2 L869.8 202.2 L869.7 203.9 L870.0 203.0 L870.0 205.7 L870.3 203.1 L870.4 204.4 L870.3 201.9 L870.4 203.7 L870.5 204.7 L870.8 204.3 L870.8 204.6 L870.7 205.1 L871.0 205.0 L870.8 205.8 L871.2 206.7 L871.1 207.3 L871.1 206.2 L871.2 207.4 L871.3 207.1 L871.6 209.1 L871.7 210.2 L871.4 209.1 L871.6 209.6 L871.9 209.2 L871.9 210.3 L872.0 209.9 L872.1 209.2 L872.2 212.0 L872.3 213.3 L872.2 212.0 L872.1 211.7 L872.5 212.5 L872.4 214.0 L872.4 212.3 L872.7 213.7 L872.7 213.5 L872.8 211.6 L872.7 213.7 L873.0 214.9 L873.0 215.0 L873.1 214.9 L873.1 214.1 L873.2 215.8 L873.4 216.1 L873.5 216.8 L873.4 218.2 L873.4 216.9 L873.7 218.2 L873.6 218.0 L873.9 220.4 L873.7 218.7 L873.9 220.9 L874.0 218.0 L873.9 218.1 L874.1 219.9 L874.0 219.7 L874.4 221.3 L874.2 221.2 L874.3 221.5 L874.4 220.4 L874.4 221.4 L874.4 222.5 L874.6 221.6 L874.6 222.5 L874.7 223.8 L874.8 223.1 L874.8 223.6 L874.8 224.8 L875.0 224.5 L875.2 223.1 L875.0 224.8 L875.2 225.1 L875.1 225.7 L875.2 227.6 L875.1 227.0 L875.2 226.5 L875.2 226.1 L875.4 227.7 L875.4 227.5 L875.7 228.8 L875.4 228.3 L875.6 229.1 L875.7 228.0 L875.4 228.8 L875.5 229.3 L875.8 229.0 L875.6 230.3 L875.7 230.0 L875.5 230.3 L875.7 230.4 L875.8 231.2 L876.0 230.3 L876.2 232.6 L875.9 232.6 L876.2 233.0 L876.0 233.9 L876.0 233.5 L876.0 233.3 L876.1 234.9 L875.9 233.9 L876.1 234.7 L876.0 233.2 L876.2 234.8 L876.5 235.5 L876.1 236.4 L876.4 236.6 L876.1 237.3 L876.2 236.4 L876.4 236.8 L876.3 237.7 L876.4 237.2 L876.5 237.9 L876.3 238.5 L876.3 237.3 L876.4 238.0 L876.4 239.8 L876.6 239.3 L876.1 240.7 L876.5 240.1 L876.5 240.0 L876.4 241.6 L876.3 241.3 L876.3 242.0 L876.3 241.6 L876.6 241.9 L876.4 242.5 L876.4 242.5 L876.5 243.3 L876.5 243.0 L876.5 244.3 L876.5 244.9 L876.4 245.1 L876.4 244.2 L876.5 246.2 L876.5 244.5 L876.4 246.2 L876.4 246.5 L876.6 247.2 L876.6 246.6 L876.5 247.0 L876.6 248.5 L876.5 248.8 L876.6 247.7 L876.5 248.5 L876.7 248.5 L876.6 247.7 L876.5 250.4 L876.4 249.6 L876.5 250.4 L876.5 250.8 L876.4 250.2 L876.5 251.9 L876.4 251.2 L876.5 251.1 L876.3 252.5 L876.5 252.8 L876.7 252.6 L876.6 253.3 L876.5 254.7 L876.7 254.4 L876.5 254.3 L876.6 254.4 L876.5 256.1 L876.4 255.0 L876.6 254.5 L876.8 256.7 L876.4 256.0 L876.4 255.3 L876.7 256.1 L876.4 256.5 L876.5 256.3 L876.4 257.5 L876.4 257.9 L876.5 259.5 L876.4 258.9 L876.4 258.9 L876.4 259.5 L876.5 260.0 L876.6 260.8 L876.5 261.3 L876.6 259.8 L876.6 260.4 L876.5 261.6 L876.5 263.0 L876.4 262.0 L876.2 263.1 L876.5 262.6 L876.3 262.9 L876.5 263.4 L876.3 264.6 L876.3 264.0 L876.4 264.6 L876.2 265.0 L876.4 265.7 L876.3 265.6 L876.3 266.3 L876.5 267.1 L876.4 266.9 L876.3 266.7 L876.4 267.1 L876.4 267.7 L876.3 267.7 L876.2 267.6 L876.2 268.0 L876.5 268.6 L876.3 268.2 L876.3 270.9 L876.5 270.2 L876.2 269.9 L876.4 270.1 L875.9 271.4 L876.1 270.5 L876.0 271.0 L876.2 272.3 L876.2 272.1 L876.1 272.8 L876.1 272.8 L876.5 273.1 L876.2 273.1 L876.2 274.0 L876.1 274.2 L876.1 274.6 L876.2 274.6 L876.1 275.7 L876.1 275.5 L876.1 276.1 L875.9 275.5 L876.2 275.6 L876.1 277.1 L876.2 276.8 L876.2 277.0 L876.3 277.9 L876.1 278.7 L876.1 278.3 L876.3 278.6 L876.1 279.3 L876.2 279.7 L876.0 279.8 L876.0 279.2 L876.0 280.8 L876.1 280.3 L876.3 282.1 L876.3 281.0 L876.1 281.8 L876.1 282.0 L876.2 282.5 L875.9 283.9 L876.0 282.9 L876.0 283.9 L875.8 283.7 L876.0 283.9 L876.0 284.7 L876.0 284.9 L876.0 284.9 L875.8 284.9 L876.1 285.9 L876.0 287.7 L876.1 286.3 L876.1 287.0 L876.0 286.7 L876.2 289.0 L875.8 287.0 L876.0 287.7 L876.0 287.4 L876.2 289.0 L876.0 289.1 L876.1 289.5 L876.0 289.6 L876.2 290.7 L876.0 291.0 L875.9 291.2 L875.9 289.7 L876.0 290.9 L876.2 291.7 L875.7 292.4 L875.8 291.0 L876.2 293.4 L875.9 293.1 L875.9 294.1 L875.9 293.0 L875.9 293.6 L875.9 293.8 L876.0 294.3 L875.9 294.5 L876.2 294.4 L875.7 296.2 L876.1 296.2 L875.9 295.8 L876.2 295.6 L875.9 297.5 L876.1 296.1 L876.2 297.0 L876.1 297.3 L876.0 297.9 L876.0 298.8 L876.1 299.3 L876.2 299.4 L876.1 299.0 L876.1 300.5 L875.9 300.8 L876.1 300.9 L876.2 302.0 L876.1 300.7 L876.0 301.1 L876.1 301.5 L876.2 301.9 L876.2 302.8 L876.2 302.9 L876.0 303.0 L875.9 304.1 L876.3 303.8 L876.1 303.9 L876.3 304.2 L876.2 304.2 L876.1 305.0 L876.1 305.1 L876.3 305.8 L876.0 306.3 L876.0 306.7 L876.4 306.6 L876.2 308.1 L876.3 306.9 L876.4 308.1 L876.5 308.1 L876.2 308.6 L876.3 308.4 L876.4 308.7 L876.3 309.7 L876.3 308.9 L876.5 310.2 L876.2 309.7 L876.5 309.9 L876.4 311.1 L876.4 311.1 L876.3 312.7 L876.4 311.2 L876.6 312.5 L876.5 312.8 L876.6 313.1 L876.6 313.2 L876.5 312.9 L876.5 314.4 L876.6 314.7 L876.5 314.9 L876.8 315.2 L876.5 316.0 L876.8 316.2 L876.6 316.4 L876.5 316.1 L876.7 317.2 L876.5 316.6 L876.9 317.5 L876.9 317.2 L876.9 317.9 L877.0 318.7 L876.9 318.5 L876.6 319.5 L876.9 319.1 L876.8 320.5 L877.0 319.9 L876.9 321.6 L876.9 321.0 L876.8 321.0 L877.0 320.8 L877.1 321.4 L876.9 322.9 L877.1 321.7 L877.1 321.9 L877.1 323.1 L877.1 323.9 L877.3 323.4 L877.3 323.5 L877.3 324.2 L877.3 324.5 L877.4 325.5 L877.2 326.2 L877.3 325.5 L877.4 325.5 L877.3 325.7 L877.5 325.7 L877.7 326.9 L877.8 326.5 L877.5 327.9 L877.5 327.8 L877.5 327.9 L877.7 329.2 L877.7 328.0 L877.9 329.6 L877.7 329.6 L877.9 330.0 L877.8 330.2 L878.0 329.9 L877.9 331.1 L877.8 331.7 L878.2 330.5 L878.1 331.9 L878.2 332.1 L878.2 332.3 L878.1 333.0 L878.3 333.0 L878.5 333.2 L878.6 334.3 L878.5 333.6 L878.5 334.2 L878.7 334.5 L878.6 334.7 L878.7 335.1 L878.7 336.4 L878.9 335.6 L878.7 337.6 L878.9 335.9 L879.0 335.8 L879.0 337.0 L879.3 337.0 L879.0 338.6 L879.2 338.5 L879.3 338.1 L879.3 338.9 L879.6 339.1 L879.2 340.9 L879.5 340.0 L879.4 340.4 L879.4 340.8 L879.6 341.0 L879.7 341.2 L879.7 341.1 L880.0 341.9 L879.7 342.3 L879.9 341.9 L879.9 342.9 L880.0 342.6 L880.1 342.7 L880.0 343.8 L880.1 344.4 L880.1 345.0 L880.1 344.6 L880.1 344.5 L880.2 345.1 L880.4 345.7 L880.3 346.0 L880.5 346.9 L880.5 346.6 L880.6 348.1 L880.9 346.8 L880.7 348.1 L881.0 348.6 L881.3 348.6 L881.5 349.0 L881.7 347.8 L882.1 349.8 L882.1 348.6 L882.5 349.1 L883.0 348.4 L882.9 349.9 L883.5 349.2 L883.8 349.0 L884.1 350.3 L884.4 349.0 L884.6 350.1 L885.1 349.9 L885.4 350.2 L885.8 349.8 L886.1 348.6 L886.6 349.8 L886.8 350.0 L887.3 351.4 L887.5 351.4 L887.7 350.4 L888.1 350.5 L888.5 347.2 L888.6 349.0 L888.8 348.5 L889.2 350.1 L889.8 350.0 L890.0 350.0 M890.1 349.3 L890.4 349.6 L890.6 350.2 L890.9 349.2 L891.4 348.8 L891.7 349.1 L892.1 350.2 L892.3 349.4 L892.5 350.1 L893.1 350.4 L893.3 349.3 L893.7 348.8 L894.1 348.4 L894.2 349.0 L894.7 348.6 L895.0 349.7 L895.4 348.3 L895.7 349.7 L896.1 349.1 L896.2 350.2 L896.6 348.5 L896.9 349.6 L897.5 350.1 L897.8 348.1 L898.0 349.8 L898.4 349.0 L898.6 348.7 L898.9 348.1 L899.5 349.5 L899.7 348.9 L900.2 349.1 L900.6 350.1 L900.5 346.8 L901.1 350.3 L901.3 351.5 L901.7 349.4 L901.7 349.1 L902.4 349.4 L902.6 350.3 L903.0 351.7 L903.4 348.7 L903.8 346.7 L904.0 349.7 L904.4 349.4 L904.6 349.3 L904.8 349.3 L905.3 347.5 L905.6 349.7 L906.0 348.8 L906.3 349.7 L906.7 349.0 L907.1 348.6 L907.6 347.8 L907.5 350.7 L908.0 349.4 L908.4 349.8 L908.6 350.9 L909.1 349.9 L909.1 349.7 L909.7 347.4 L910.0 350.5 L910.1 350.3 L910.6 348.4 L911.2 348.1 L911.3 349.8 L911.9 349.3 L912.3 350.8 L912.4 348.3 L912.6 349.4 L913.1 350.0 L913.5 349.9 L913.9 348.3 L914.0 348.2 L914.2 349.0 L914.8 351.4 L914.8 348.7 L915.3 349.0 L915.7 350.2 L916.1 349.9 L916.3 350.7 L916.7 348.8 L917.1 348.9 L917.3 350.2 L917.6 349.2 L918.1 349.4 L918.3 348.5 L918.5 348.8 L918.9 348.7 L919.5 348.9 L919.6 348.8 L920.1 349.2 L920.3 349.1 L920.6 350.4 L921.0 351.0 L921.3 349.2 L921.7 350.9 L922.1 349.9 L922.4 347.4 L922.6 349.7 L922.9 348.2 L923.1 350.4 L923.8 349.0 L924.0 350.9 L924.2 350.7 L924.5 349.0 L925.1 348.6 L925.3 350.4 L925.7 348.7 L926.0 349.4 L926.4 350.3 L926.7 349.3 L926.7 350.1 L927.5 351.2 L927.5 349.8 L928.2 350.1 L928.3 348.9 L928.6 347.0 L928.9 349.6 L929.2 349.5 L929.7 350.0 L930.0 349.5 L930.2 348.9 L930.4 348.9 L931.1 349.5 L931.4 348.7 L931.5 348.2 L932.1 349.7 L932.5 349.4 L932.7 350.0 L933.0 349.0 L933.3 349.3 L933.3 348.6 L934.1 349.1 L934.2 350.2 L934.9 351.0 L934.9 349.2 L935.4 349.9 L935.6 348.8 L935.8 348.2 L936.3 349.0 L936.9 349.3 L937.0 349.2 L937.1 348.7 L937.8 349.6 L938.1 350.5 L938.2 349.0 L938.7 349.8 L939.0 350.0 L939.2 350.4 L939.7 350.1 L939.8 350.4 L940.4 349.5 L940.8 348.3 L940.9 348.5 L941.4 349.1 L941.7 348.6 L942.0 348.8 L942.5 349.3 L942.6 349.4 L942.9 349.1 L943.4 349.8 L943.7 351.2 L943.7 348.6 L944.3 349.0 L944.6 348.4 L944.9 350.5 L945.3 350.3 L945.8 348.3 L946.0 349.9 L946.2 348.2 L946.6 349.8 L947.0 349.5 L947.4 349.5 L948.0 347.9 L947.9 349.7 L948.2 349.7 L948.8 350.7 L948.9 349.6 L949.3 349.4 L949.4 348.9 L949.8 350.0 L950.4 350.2 L950.5 350.2 L951.1 350.3 L951.2 349.4 L951.7 348.2 L952.1 349.6 L952.2 350.8 L952.5 350.6 L953.1 348.9 L953.3 351.3 L953.6 350.7 L954.1 350.3 L954.2 348.6 L954.6 350.1 L954.8 350.4 L955.1 351.5 L955.7 349.1 L956.1 349.3 L956.3 350.6" fill="none" stroke="#f8812a" stroke-width="5.5" stroke-linejoin="round" stroke-linecap="butt"/>
<rect x="705.8" y="239.9" width="5" height="5" fill="#ff0000"/>
<rect x="129.8" y="15.55" width="827.5999999999999" height="666.1500000000001" fill="none" stroke="#000" stroke-width="2.7"/>
<path d="M129.80 681.7 v13.3 M295.32 681.7 v13.3 M460.84 681.7 v13.3 M626.36 681.7 v13.3 M791.88 681.7 v13.3 M957.40 681.7 v13.3 M212.56 681.7 v7 M378.08 681.7 v7 M543.60 681.7 v7 M709.12 681.7 v7 M874.64 681.7 v7 M129.8 15.55 h-13.4 M129.8 126.58 h-13.4 M129.8 237.60 h-13.4 M129.8 348.63 h-13.4 M129.8 459.65 h-13.4 M129.8 570.68 h-13.4 M129.8 681.70 h-13.4 M129.8 71.06 h-7 M129.8 182.09 h-7 M129.8 293.11 h-7 M129.8 404.14 h-7 M129.8 515.16 h-7 M129.8 626.19 h-7" stroke="#000" stroke-width="2.7" fill="none"/>
<g font-family="'Liberation Sans', Arial, sans-serif" font-size="34.8" fill="#000" stroke="#000" stroke-width="0.3">
<text x="107.5" y="26.1" text-anchor="end">120</text>
<text x="107.5" y="137.2" text-anchor="end">80</text>
<text x="107.5" y="248.2" text-anchor="end">40</text>
<text x="107.5" y="359.2" text-anchor="end">0</text>
<text x="107.5" y="470.3" text-anchor="end">-40</text>
<text x="107.5" y="581.3" text-anchor="end">-80</text>
<text x="107.5" y="692.3" text-anchor="end">-120</text>
<text x="129.8" y="731" text-anchor="middle">-1.5</text>
<text x="295.3" y="731" text-anchor="middle">-1.25</text>
<text x="460.8" y="731" text-anchor="middle">-1</text>
<text x="626.4" y="731" text-anchor="middle">-0.75</text>
<text x="791.9" y="731" text-anchor="middle">-0.5</text>
<text x="957.4" y="731" text-anchor="middle">-0.25</text>
</g>
<g font-family="'Liberation Sans', Arial, sans-serif" font-size="37.6" fill="#000" stroke-width="0.3">
<path d="M714.3 557.8 H765" stroke="#0000ff" stroke-width="4.2"/>
<text x="773.3" y="572" stroke="#000">500 RPM</text>
<path d="M714.3 606.4 H765" stroke="#ff0000" stroke-width="4.2"/>
<text x="773.3" y="618" stroke="#000">1500 RPM</text>
<path d="M714.3 651.9 H765" stroke="#f8812a" stroke-width="4.2"/>
<text x="773.3" y="664" stroke="#000">3000 RPM</text>
</g>
<path d="M362 330.1 L280 330.1" stroke="#000" stroke-width="1.85" stroke-dasharray="1.6 1.35" fill="none"/><polygon points="266,329.6 281,322.3 281,337" fill="#000"/>
<path d="M608.7 349.3 L656.5 296" stroke="#000" stroke-width="1.85" stroke-dasharray="1.6 1.35" fill="none"/><polygon points="667.4,284.4 651.9,289.9 662.9,300.4" fill="#000"/>
<path d="M175 517.4 L256 484.8" stroke="#000" stroke-width="1.85" stroke-dasharray="1.6 1.35" fill="none"/><polygon points="268.9,479.8 252.8,478.6 258.7,491.7" fill="#000"/>
<g fill="#000">
<text x="366.4" y="787.7" font-family="'Liberation Serif', 'Times New Roman', serif" font-style="italic" font-size="42">V</text>
<text x="400.1" y="788.4" font-family="'Liberation Serif', 'Times New Roman', serif" font-size="46">–</text>
<text x="431.5" y="787.7" font-family="'Liberation Serif', 'Times New Roman', serif" font-style="italic" font-size="42">I</text>
<text x="447.5" y="787.7" font-family="'Liberation Serif', 'Times New Roman', serif" font-style="italic" font-size="42">R</text>
<text x="472.6" y="798.9000000000001" font-family="'Liberation Serif', 'Times New Roman', serif" font-size="30">Ω</text>
<text x="503.5" y="787.7" font-family="'Liberation Sans', Arial, sans-serif" font-size="36.3" stroke="#000" stroke-width="0.3">(V vs. Ag/AgCl)</text>
<text transform="translate(30.2,447.6) rotate(-90)" font-size="37.2"><tspan font-family="'Liberation Serif', 'Times New Roman', serif" font-style="italic" font-size="41">i</tspan><tspan font-family="'Liberation Sans', Arial, sans-serif"> (mA/cm</tspan><tspan font-family="'Liberation Sans', Arial, sans-serif" font-size="23.8" dy="-12.4">2</tspan><tspan font-family="'Liberation Sans', Arial, sans-serif" dy="12.4">)</tspan></text>
</g>
</svg>
</body></html>
